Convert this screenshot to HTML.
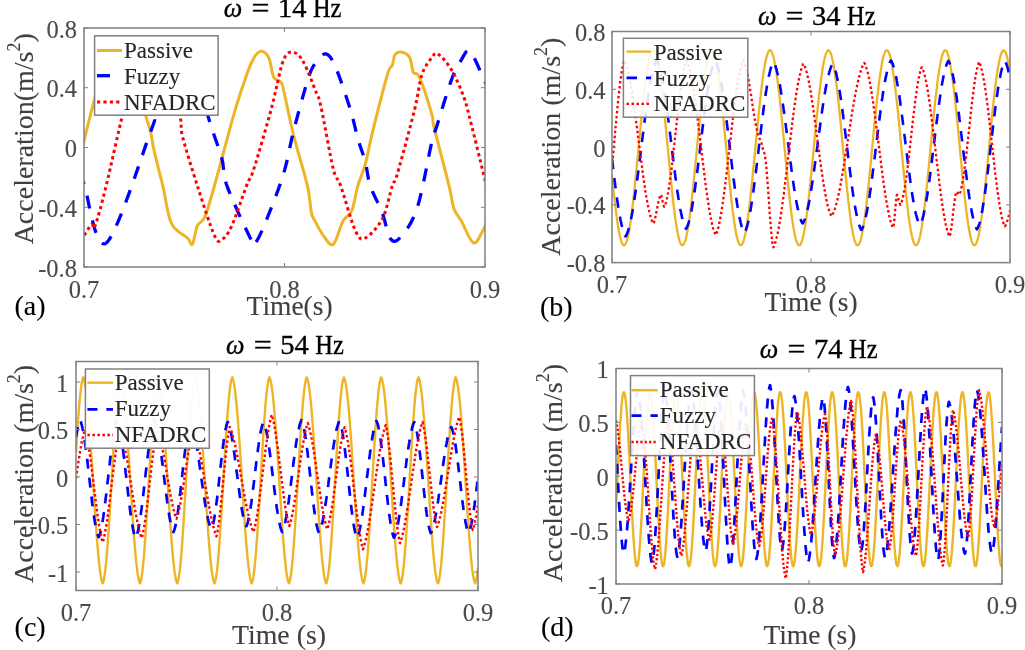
<!DOCTYPE html><html><head><meta charset="utf-8"><style>html,body{margin:0;padding:0;background:#fff;}svg{display:block;filter:blur(0.35px);}text{font-family:"Liberation Serif",serif;}</style></head><body>
<svg width="1025" height="650" viewBox="0 0 1025 650">
<rect width="1025" height="650" fill="#fff"/>
<defs><filter id="bl" x="-5%" y="-5%" width="110%" height="110%"><feGaussianBlur stdDeviation="0.45"/></filter></defs>
<clipPath id="ca"><rect x="84.0" y="28.0" width="401.0" height="239.0"/></clipPath>
<g clip-path="url(#ca)" filter="url(#bl)" fill="none" stroke-linejoin="round">
<path d="M80.0 160.0 C80.7 156.9 81.7 151.0 84.0 141.3 C86.3 131.6 90.6 113.8 93.9 101.9 C97.2 90.0 100.0 78.3 104.0 70.0 C108.0 61.7 113.3 52.3 118.0 52.0 C122.7 51.7 127.4 57.4 132.0 68.0 C136.6 78.6 142.5 104.8 145.6 115.4 C148.7 126.0 149.1 125.4 150.5 131.4 C151.9 137.4 152.1 142.2 154.2 151.2 C156.2 160.2 159.9 173.6 162.8 185.6 C165.7 197.6 167.3 214.6 171.4 223.3 C175.5 232.0 183.9 234.5 187.4 238.0 C190.9 241.5 190.8 246.2 192.4 244.2 C194.1 242.2 195.2 230.3 197.3 225.8 C199.4 221.3 201.8 223.7 204.7 217.0 C207.6 210.3 210.0 201.5 214.5 185.6 C219.0 169.7 227.3 137.6 231.8 121.6 C236.3 105.6 238.3 99.4 241.6 89.6 C244.9 79.8 248.4 68.9 251.5 62.5 C254.6 56.1 257.2 52.2 260.1 51.4 C263.0 50.6 266.4 53.3 268.7 57.6 C271.0 61.9 271.6 73.2 273.7 77.3 C275.8 81.4 279.3 79.8 281.0 82.2 C282.7 84.7 281.9 83.0 284.0 92.0 C286.1 101.0 290.0 120.8 293.9 136.4 C297.8 152.0 304.5 173.2 307.4 185.6 C310.3 198.0 310.1 205.5 311.1 211.0 C312.1 216.5 311.6 214.3 313.6 218.4 C315.7 222.5 320.1 231.3 323.4 235.6 C326.7 239.9 330.0 246.7 333.3 244.2 C336.6 241.7 340.0 226.3 343.1 220.8 C346.2 215.3 349.2 216.9 351.7 211.0 C354.2 205.1 355.6 193.4 357.9 185.6 C360.2 177.8 362.8 173.2 365.3 164.2 C367.8 155.2 369.0 146.3 372.7 131.4 C376.4 116.5 384.1 85.9 387.4 74.8 C390.7 63.7 391.2 68.3 392.4 65.0 C393.6 61.7 393.4 57.1 394.8 55.0 C396.2 52.9 398.5 51.7 401.0 52.1 C403.5 52.5 407.6 54.2 409.6 57.6 C411.7 61.0 411.7 69.0 413.3 72.3 C414.9 75.6 416.4 70.3 419.5 77.3 C422.6 84.3 429.4 105.8 431.8 114.2 C434.2 122.6 431.3 115.9 434.2 127.8 C437.1 139.7 445.7 172.2 449.0 185.6 C452.3 199.0 451.8 202.6 453.9 208.5 C455.9 214.4 458.0 215.1 461.3 220.8 C464.6 226.6 469.9 241.8 473.7 243.0 C477.5 244.2 481.3 232.9 484.0 228.2 C486.7 223.5 489.0 217.2 490.0 215.0" stroke="#EDB526" stroke-width="3.00"/>
<path d="M80.0 172.0 C80.7 174.0 79.6 172.2 84.0 184.0 C88.4 195.8 95.1 251.7 106.2 243.0 C117.3 234.3 142.3 153.5 150.5 132.0 C158.7 110.5 152.2 124.5 155.4 114.2 C158.7 103.9 165.9 80.2 170.0 70.0 C174.1 59.8 175.8 53.0 180.0 53.0 C184.2 53.0 190.1 58.6 195.0 70.0 C199.9 81.4 205.1 106.8 209.6 121.6 C214.1 136.3 219.0 147.8 221.9 158.5 C224.8 169.2 222.0 171.9 226.9 185.6 C231.8 199.3 246.7 231.1 251.5 240.5 C256.4 249.9 253.6 245.2 256.0 242.0 C258.4 238.8 261.4 232.3 266.0 221.0 C270.6 209.7 278.9 189.2 283.5 174.0 C288.1 158.8 289.7 145.8 293.9 129.7 C298.1 113.6 304.9 88.5 308.6 77.3 C312.3 66.1 313.1 66.4 316.0 62.5 C318.9 58.6 322.6 53.1 325.9 53.9 C329.2 54.7 331.6 58.1 335.7 67.4 C339.8 76.8 346.8 98.1 350.5 110.0 C354.2 121.9 355.4 130.2 357.9 138.8 C360.4 147.4 363.2 153.9 365.3 161.7 C367.4 169.5 367.3 177.0 370.2 185.6 C373.1 194.2 379.2 204.7 382.5 213.4 C385.8 222.1 387.0 233.9 389.9 238.0 C392.8 242.1 395.3 242.9 399.8 238.0 C404.3 233.1 411.7 224.5 417.0 208.5 C422.3 192.5 428.5 155.7 431.8 142.0 C435.1 128.3 433.4 136.9 436.7 126.5 C440.0 116.1 447.4 90.8 451.5 79.7 C455.6 68.6 458.2 64.7 461.3 60.0 C464.4 55.3 466.2 48.1 470.0 51.4 C473.8 54.7 480.7 72.9 484.0 79.7 C487.3 86.5 489.0 90.0 490.0 92.0" stroke="#0000FF" stroke-width="3.30" stroke-dasharray="13 12"/>
<path d="M80.0 240.0 C80.7 239.3 82.1 238.2 84.0 235.6 C85.9 233.0 89.6 226.1 91.4 224.5 C93.2 222.9 92.5 232.5 95.0 226.0 C97.5 219.5 101.5 204.6 106.2 185.6 C110.9 166.6 118.6 130.1 123.4 111.7 C128.2 93.3 130.4 84.5 135.0 75.0 C139.6 65.5 145.7 55.0 151.0 55.0 C156.3 55.0 162.2 64.7 167.0 75.0 C171.8 85.3 177.4 106.5 180.0 116.7 C182.6 126.9 179.6 124.9 182.5 136.4 C185.4 147.9 192.0 169.1 197.3 185.6 C202.6 202.1 210.4 226.6 214.5 235.6 C218.6 244.6 219.1 240.9 222.0 239.3 C224.9 237.7 227.7 234.8 231.8 225.8 C235.9 216.9 242.9 195.2 246.6 185.6 C250.3 176.0 249.9 181.1 254.0 168.4 C258.1 155.7 266.3 127.4 271.2 109.3 C276.1 91.2 279.7 69.5 283.5 60.0 C287.3 50.5 290.5 52.2 293.9 52.6 C297.3 53.0 300.0 55.9 303.7 62.5 C307.4 69.1 313.1 84.6 316.0 92.0 C318.9 99.4 318.1 94.0 321.0 106.8 C323.9 119.6 330.0 155.9 333.3 169.0 C336.6 182.1 336.9 175.3 340.6 185.6 C344.3 195.9 351.3 222.0 355.4 230.7 C359.5 239.4 360.8 240.1 365.3 238.0 C369.8 235.9 378.0 227.1 382.5 218.4 C387.0 209.7 389.9 193.0 392.4 185.6 C394.9 178.2 393.6 186.6 397.3 174.0 C401.0 161.4 410.4 126.5 414.5 110.0 C418.6 93.5 419.0 83.5 421.9 74.8 C424.8 66.1 429.1 61.1 431.8 57.6 C434.5 54.1 434.7 51.8 438.0 53.9 C441.3 56.0 447.2 62.7 451.5 69.9 C455.8 77.1 460.5 88.0 463.8 97.0 C467.1 106.0 467.8 110.9 471.2 124.0 C474.6 137.1 480.9 163.1 484.0 175.8 C487.1 188.5 489.0 196.0 490.0 200.0" stroke="#FF0000" stroke-width="3.00" stroke-dasharray="3.2 3.2"/>
</g>
<rect x="84.0" y="28.0" width="401.0" height="239.0" fill="none" stroke="#808080" stroke-width="1.5"/>
<line x1="84.0" y1="267.0" x2="84.0" y2="263.0" stroke="#808080" stroke-width="1"/>
<line x1="84.0" y1="28.0" x2="84.0" y2="32.0" stroke="#808080" stroke-width="1"/>
<line x1="284.5" y1="267.0" x2="284.5" y2="263.0" stroke="#808080" stroke-width="1"/>
<line x1="284.5" y1="28.0" x2="284.5" y2="32.0" stroke="#808080" stroke-width="1"/>
<line x1="485.0" y1="267.0" x2="485.0" y2="263.0" stroke="#808080" stroke-width="1"/>
<line x1="485.0" y1="28.0" x2="485.0" y2="32.0" stroke="#808080" stroke-width="1"/>
<line x1="84.0" y1="28.0" x2="88.0" y2="28.0" stroke="#808080" stroke-width="1"/>
<line x1="485.0" y1="28.0" x2="481.0" y2="28.0" stroke="#808080" stroke-width="1"/>
<line x1="84.0" y1="87.7" x2="88.0" y2="87.7" stroke="#808080" stroke-width="1"/>
<line x1="485.0" y1="87.7" x2="481.0" y2="87.7" stroke="#808080" stroke-width="1"/>
<line x1="84.0" y1="147.5" x2="88.0" y2="147.5" stroke="#808080" stroke-width="1"/>
<line x1="485.0" y1="147.5" x2="481.0" y2="147.5" stroke="#808080" stroke-width="1"/>
<line x1="84.0" y1="207.3" x2="88.0" y2="207.3" stroke="#808080" stroke-width="1"/>
<line x1="485.0" y1="207.3" x2="481.0" y2="207.3" stroke="#808080" stroke-width="1"/>
<line x1="84.0" y1="267.0" x2="88.0" y2="267.0" stroke="#808080" stroke-width="1"/>
<line x1="485.0" y1="267.0" x2="481.0" y2="267.0" stroke="#808080" stroke-width="1"/>
<rect x="94.6" y="35.8" width="123.5" height="79.4" fill="#fff" fill-opacity="1.00" stroke="#808080" stroke-width="1.5"/>
<line x1="97.0" y1="50.5" x2="122.0" y2="50.5" stroke="#EDB526" stroke-width="3.00"/>
<line x1="97.0" y1="75.7" x2="122.0" y2="75.7" stroke="#0000FF" stroke-width="3.30" stroke-dasharray="13 12"/>
<line x1="97.0" y1="102.0" x2="122.0" y2="102.0" stroke="#FF0000" stroke-width="3.00" stroke-dasharray="3.2 3.2"/>
<text x="124.0" y="57.7" font-size="23" fill="#262626" stroke="#262626" stroke-width="0.12">Passive</text>
<text x="124.0" y="83.5" font-size="23" fill="#262626" stroke="#262626" stroke-width="0.12">Fuzzy</text>
<text x="124.0" y="110.0" font-size="23" fill="#262626" stroke="#262626" stroke-width="0.12">NFADRC</text>
<text x="77.0" y="37.6" font-size="24.5" fill="#4a4a4a" stroke="#4a4a4a" stroke-width="0.12" text-anchor="end">0.8</text>
<text x="77.0" y="97.3" font-size="24.5" fill="#4a4a4a" stroke="#4a4a4a" stroke-width="0.12" text-anchor="end">0.4</text>
<text x="77.0" y="157.1" font-size="24.5" fill="#4a4a4a" stroke="#4a4a4a" stroke-width="0.12" text-anchor="end">0</text>
<text x="77.0" y="216.9" font-size="24.5" fill="#4a4a4a" stroke="#4a4a4a" stroke-width="0.12" text-anchor="end">-0.4</text>
<text x="77.0" y="276.6" font-size="24.5" fill="#4a4a4a" stroke="#4a4a4a" stroke-width="0.12" text-anchor="end">-0.8</text>
<text x="84.0" y="297.8" font-size="24.5" fill="#4a4a4a" stroke="#4a4a4a" stroke-width="0.12" text-anchor="middle">0.7</text>
<text x="284.5" y="297.8" font-size="24.5" fill="#4a4a4a" stroke="#4a4a4a" stroke-width="0.12" text-anchor="middle">0.8</text>
<text x="485.0" y="297.8" font-size="24.5" fill="#4a4a4a" stroke="#4a4a4a" stroke-width="0.12" text-anchor="middle">0.9</text>
<text x="246.6" y="314.6" font-size="27" fill="#404040" stroke="#404040" stroke-width="0.12" textLength="86.0" lengthAdjust="spacingAndGlyphs">Time(s)</text>
<g transform="translate(33.0 138.8) rotate(-90)"><text x="0" y="0" font-size="28" fill="#404040" stroke="#404040" stroke-width="0.12" text-anchor="middle">Acceleration(m/s<tspan font-size="18" dy="-13">2</tspan><tspan dy="13">)</tspan></text></g>
<text x="223.7" y="17.4" font-size="27" fill="#000" stroke="#000" stroke-width="0.35" font-style="italic" textLength="18.5" lengthAdjust="spacingAndGlyphs">&#969;</text>
<text x="251.4" y="17.4" font-size="27" fill="#000" stroke="#000" stroke-width="0.35" textLength="18" lengthAdjust="spacingAndGlyphs">=</text>
<text x="277.9" y="17.4" font-size="27" fill="#000" stroke="#000" stroke-width="0.35" textLength="28.5" lengthAdjust="spacingAndGlyphs">14</text>
<text x="312.9" y="17.4" font-size="27" fill="#000" stroke="#000" stroke-width="0.35" textLength="28.5" lengthAdjust="spacingAndGlyphs">Hz</text>
<text x="14.5" y="315.0" font-size="28" fill="#000" stroke="#000" stroke-width="0.12">(a)</text>
<clipPath id="cb"><rect x="612.0" y="31.5" width="398.0" height="231.1"/></clipPath>
<g clip-path="url(#cb)" filter="url(#bl)" fill="none" stroke-linejoin="round">
<path d="M612.0 175.1 L612.2 177.6 L612.5 180.1 L612.7 182.5 L613.0 185.0 L613.2 187.4 L613.5 189.7 L613.7 192.1 L614.0 194.4 L614.2 196.7 L614.5 198.9 L614.7 201.1 L615.0 203.3 L615.2 205.4 L615.5 207.5 L615.7 209.5 L616.0 211.5 L616.2 213.5 L616.5 215.4 L616.7 217.2 L617.0 219.1 L617.2 220.8 L617.5 222.5 L617.7 224.2 L618.0 225.8 L618.2 227.3 L618.5 228.8 L618.7 230.2 L619.0 231.6 L619.2 232.9 L619.5 234.1 L619.7 235.3 L620.0 236.4 L620.2 237.5 L620.5 238.5 L620.7 239.4 L621.0 240.2 L621.2 241.0 L621.5 241.8 L621.7 242.4 L622.0 243.0 L622.2 243.5 L622.4 244.0 L622.7 244.4 L622.9 244.7 L623.2 244.9 L623.4 245.1 L623.7 245.2 L623.9 245.2 L624.2 245.2 L624.4 245.1 L624.7 244.9 L624.9 244.7 L625.2 244.4 L625.4 244.0 L625.7 243.5 L625.9 243.0 L626.2 242.4 L626.4 241.8 L626.7 241.1 L626.9 240.3 L627.2 239.4 L627.4 238.5 L627.7 237.5 L627.9 236.5 L628.2 235.4 L628.4 234.2 L628.7 233.0 L628.9 231.7 L629.2 230.3 L629.4 228.9 L629.7 227.4 L629.9 225.9 L630.2 224.3 L630.4 222.7 L630.7 221.0 L630.9 219.2 L631.2 217.4 L631.4 215.6 L631.7 213.7 L631.9 211.7 L632.1 209.8 L632.4 207.7 L632.6 205.7 L632.9 203.5 L633.1 201.4 L633.4 199.2 L633.6 197.0 L633.9 194.7 L634.1 192.4 L634.4 190.1 L634.6 187.7 L634.9 185.3 L635.1 182.9 L635.4 180.5 L635.6 178.0 L635.9 175.5 L636.1 173.0 L636.4 170.5 L636.6 167.9 L636.9 165.4 L637.1 162.8 L637.4 160.2 L637.6 157.6 L637.9 155.1 L638.1 152.5 L638.4 149.9 L638.6 147.3 L638.9 144.6 L639.1 142.0 L639.4 139.4 L639.6 136.9 L639.9 134.3 L640.1 131.7 L640.4 129.1 L640.6 126.6 L640.9 124.1 L641.1 121.5 L641.4 119.0 L641.6 116.6 L641.9 114.1 L642.1 111.7 L642.3 109.3 L642.6 106.9 L642.8 104.5 L643.1 102.2 L643.3 99.9 L643.6 97.7 L643.8 95.5 L644.1 93.3 L644.3 91.2 L644.6 89.1 L644.8 87.0 L645.1 85.0 L645.3 83.0 L645.6 81.1 L645.8 79.2 L646.1 77.4 L646.3 75.6 L646.6 73.9 L646.8 72.2 L647.1 70.6 L647.3 69.0 L647.6 67.5 L647.8 66.1 L648.1 64.7 L648.3 63.4 L648.6 62.1 L648.8 60.9 L649.1 59.7 L649.3 58.6 L649.6 57.6 L649.8 56.7 L650.1 55.8 L650.3 54.9 L650.6 54.2 L650.8 53.5 L651.1 52.9 L651.3 52.3 L651.6 51.8 L651.8 51.4 L652.0 51.0 L652.3 50.8 L652.5 50.5 L652.8 50.4 L653.0 50.3 L653.3 50.3 L653.5 50.4 L653.8 50.5 L654.0 50.7 L654.3 51.0 L654.5 51.3 L654.8 51.7 L655.0 52.2 L655.3 52.8 L655.5 53.4 L655.8 54.1 L656.0 54.8 L656.3 55.6 L656.5 56.5 L656.8 57.5 L657.0 58.5 L657.3 59.6 L657.5 60.7 L657.8 61.9 L658.0 63.2 L658.3 64.5 L658.5 65.9 L658.8 67.4 L659.0 68.9 L659.3 70.4 L659.5 72.0 L659.8 73.7 L660.0 75.4 L660.3 77.2 L660.5 79.0 L660.8 80.9 L661.0 82.8 L661.3 84.8 L661.5 86.8 L661.8 88.9 L662.0 91.0 L662.2 93.1 L662.5 95.3 L662.7 97.5 L663.0 99.8 L663.2 102.1 L663.5 104.4 L663.7 106.8 L664.0 109.1 L664.2 111.6 L664.5 114.0 L664.7 116.5 L665.0 118.9 L665.2 121.5 L665.5 124.0 L665.7 126.5 L666.0 129.1 L666.2 131.6 L666.5 134.2 L666.7 136.8 L667.0 139.4 L667.2 142.0 L667.5 144.6 L667.7 147.2 L668.0 149.9 L668.2 152.5 L668.5 155.1 L668.7 157.7 L669.0 160.3 L669.2 162.9 L669.5 165.4 L669.7 168.0 L670.0 170.6 L670.2 173.1 L670.5 175.6 L670.7 178.1 L671.0 180.6 L671.2 183.0 L671.5 185.4 L671.7 187.8 L671.9 190.2 L672.2 192.5 L672.4 194.8 L672.7 197.1 L672.9 199.3 L673.2 201.5 L673.4 203.7 L673.7 205.8 L673.9 207.9 L674.2 209.9 L674.4 211.9 L674.7 213.9 L674.9 215.8 L675.2 217.6 L675.4 219.4 L675.7 221.2 L675.9 222.8 L676.2 224.5 L676.4 226.1 L676.7 227.6 L676.9 229.1 L677.2 230.5 L677.4 231.8 L677.7 233.1 L677.9 234.4 L678.2 235.5 L678.4 236.6 L678.7 237.7 L678.9 238.6 L679.2 239.6 L679.4 240.4 L679.7 241.2 L679.9 241.9 L680.2 242.5 L680.4 243.1 L680.7 243.6 L680.9 244.1 L681.2 244.4 L681.4 244.7 L681.7 245.0 L681.9 245.1 L682.1 245.2 L682.4 245.2 L682.6 245.2 L682.9 245.1 L683.1 244.9 L683.4 244.6 L683.6 244.3 L683.9 243.9 L684.1 243.4 L684.4 242.9 L684.6 242.3 L684.9 241.6 L685.1 240.9 L685.4 240.1 L685.6 239.2 L685.9 238.3 L686.1 237.3 L686.4 236.3 L686.6 235.1 L686.9 233.9 L687.1 232.7 L687.4 231.4 L687.6 230.0 L687.9 228.6 L688.1 227.1 L688.4 225.6 L688.6 224.0 L688.9 222.3 L689.1 220.6 L689.4 218.9 L689.6 217.1 L689.9 215.2 L690.1 213.3 L690.4 211.4 L690.6 209.4 L690.9 207.3 L691.1 205.2 L691.4 203.1 L691.6 200.9 L691.8 198.7 L692.1 196.5 L692.3 194.2 L692.6 191.9 L692.8 189.6 L693.1 187.2 L693.3 184.8 L693.6 182.4 L693.8 180.0 L694.1 177.5 L694.3 175.0 L694.6 172.5 L694.8 170.0 L695.1 167.4 L695.3 164.9 L695.6 162.3 L695.8 159.7 L696.1 157.1 L696.3 154.5 L696.6 151.9 L696.8 149.3 L697.1 146.7 L697.3 144.1 L697.6 141.5 L697.8 138.9 L698.1 136.3 L698.3 133.8 L698.6 131.2 L698.8 128.6 L699.1 126.1 L699.3 123.6 L699.6 121.0 L699.8 118.5 L700.1 116.1 L700.3 113.6 L700.6 111.2 L700.8 108.8 L701.1 106.4 L701.3 104.1 L701.6 101.8 L701.8 99.5 L702.0 97.2 L702.3 95.0 L702.5 92.9 L702.8 90.7 L703.0 88.6 L703.3 86.6 L703.5 84.6 L703.8 82.6 L704.0 80.7 L704.3 78.9 L704.5 77.0 L704.8 75.3 L705.0 73.6 L705.3 71.9 L705.5 70.3 L705.8 68.7 L706.0 67.2 L706.3 65.8 L706.5 64.4 L706.8 63.1 L707.0 61.8 L707.3 60.6 L707.5 59.5 L707.8 58.4 L708.0 57.4 L708.3 56.5 L708.5 55.6 L708.8 54.8 L709.0 54.0 L709.3 53.4 L709.5 52.7 L709.8 52.2 L710.0 51.7 L710.3 51.3 L710.5 51.0 L710.8 50.7 L711.0 50.5 L711.3 50.4 L711.5 50.3 L711.7 50.3 L712.0 50.4 L712.2 50.5 L712.5 50.8 L712.7 51.0 L713.0 51.4 L713.2 51.8 L713.5 52.3 L713.7 52.9 L714.0 53.5 L714.2 54.2 L714.5 55.0 L714.7 55.8 L715.0 56.7 L715.2 57.7 L715.5 58.7 L715.7 59.8 L716.0 60.9 L716.2 62.2 L716.5 63.4 L716.7 64.8 L717.0 66.2 L717.2 67.6 L717.5 69.2 L717.7 70.7 L718.0 72.4 L718.2 74.0 L718.5 75.8 L718.7 77.6 L719.0 79.4 L719.2 81.3 L719.5 83.2 L719.7 85.2 L720.0 87.2 L720.2 89.3 L720.5 91.4 L720.7 93.6 L721.0 95.8 L721.2 98.0 L721.5 100.2 L721.7 102.5 L721.9 104.9 L722.2 107.2 L722.4 109.6 L722.7 112.0 L722.9 114.5 L723.2 117.0 L723.4 119.4 L723.7 122.0 L723.9 124.5 L724.2 127.0 L724.4 129.6 L724.7 132.2 L724.9 134.7 L725.2 137.3 L725.4 139.9 L725.7 142.5 L725.9 145.2 L726.2 147.8 L726.4 150.4 L726.7 153.0 L726.9 155.6 L727.2 158.2 L727.4 160.8 L727.7 163.4 L727.9 166.0 L728.2 168.5 L728.4 171.1 L728.7 173.6 L728.9 176.1 L729.2 178.6 L729.4 181.1 L729.7 183.5 L729.9 185.9 L730.2 188.3 L730.4 190.7 L730.7 193.0 L730.9 195.3 L731.2 197.6 L731.4 199.8 L731.6 202.0 L731.9 204.1 L732.1 206.2 L732.4 208.3 L732.6 210.3 L732.9 212.3 L733.1 214.3 L733.4 216.1 L733.6 218.0 L733.9 219.8 L734.1 221.5 L734.4 223.2 L734.6 224.8 L734.9 226.4 L735.1 227.9 L735.4 229.4 L735.6 230.8 L735.9 232.1 L736.1 233.4 L736.4 234.6 L736.6 235.8 L736.9 236.8 L737.1 237.9 L737.4 238.8 L737.6 239.7 L737.9 240.6 L738.1 241.3 L738.4 242.0 L738.6 242.7 L738.9 243.2 L739.1 243.7 L739.4 244.1 L739.6 244.5 L739.9 244.8 L740.1 245.0 L740.4 245.2 L740.6 245.2 L740.9 245.2 L741.1 245.2 L741.3 245.0 L741.6 244.8 L741.8 244.6 L742.1 244.2 L742.3 243.8 L742.6 243.3 L742.8 242.8 L743.1 242.2 L743.3 241.5 L743.6 240.8 L743.8 239.9 L744.1 239.1 L744.3 238.1 L744.6 237.1 L744.8 236.0 L745.1 234.9 L745.3 233.7 L745.6 232.4 L745.8 231.1 L746.1 229.7 L746.3 228.3 L746.6 226.8 L746.8 225.3 L747.1 223.7 L747.3 222.0 L747.6 220.3 L747.8 218.5 L748.1 216.7 L748.3 214.8 L748.6 212.9 L748.8 211.0 L749.1 208.9 L749.3 206.9 L749.6 204.8 L749.8 202.7 L750.1 200.5 L750.3 198.3 L750.6 196.1 L750.8 193.8 L751.1 191.5 L751.3 189.1 L751.5 186.7 L751.8 184.3 L752.0 181.9 L752.3 179.5 L752.5 177.0 L752.8 174.5 L753.0 172.0 L753.3 169.5 L753.5 166.9 L753.8 164.4 L754.0 161.8 L754.3 159.2 L754.5 156.6 L754.8 154.0 L755.0 151.4 L755.3 148.8 L755.5 146.2 L755.8 143.6 L756.0 141.0 L756.3 138.4 L756.5 135.8 L756.8 133.2 L757.0 130.7 L757.3 128.1 L757.5 125.6 L757.8 123.0 L758.0 120.5 L758.3 118.0 L758.5 115.6 L758.8 113.1 L759.0 110.7 L759.3 108.3 L759.5 106.0 L759.8 103.6 L760.0 101.3 L760.3 99.0 L760.5 96.8 L760.8 94.6 L761.0 92.4 L761.2 90.3 L761.5 88.2 L761.7 86.2 L762.0 84.2 L762.2 82.2 L762.5 80.3 L762.7 78.5 L763.0 76.7 L763.2 74.9 L763.5 73.2 L763.7 71.6 L764.0 70.0 L764.2 68.4 L764.5 66.9 L764.7 65.5 L765.0 64.2 L765.2 62.8 L765.5 61.6 L765.7 60.4 L766.0 59.3 L766.2 58.2 L766.5 57.2 L766.7 56.3 L767.0 55.4 L767.2 54.6 L767.5 53.9 L767.7 53.2 L768.0 52.6 L768.2 52.1 L768.5 51.6 L768.7 51.2 L769.0 50.9 L769.2 50.7 L769.5 50.5 L769.7 50.4 L770.0 50.3 L770.2 50.3 L770.5 50.4 L770.7 50.6 L771.0 50.8 L771.2 51.1 L771.4 51.5 L771.7 51.9 L771.9 52.4 L772.2 53.0 L772.4 53.6 L772.7 54.4 L772.9 55.1 L773.2 56.0 L773.4 56.9 L773.7 57.9 L773.9 58.9 L774.2 60.0 L774.4 61.2 L774.7 62.4 L774.9 63.7 L775.2 65.1 L775.4 66.5 L775.7 67.9 L775.9 69.5 L776.2 71.1 L776.4 72.7 L776.7 74.4 L776.9 76.1 L777.2 77.9 L777.4 79.8 L777.7 81.7 L777.9 83.6 L778.2 85.6 L778.4 87.6 L778.7 89.7 L778.9 91.8 L779.2 94.0 L779.4 96.2 L779.7 98.4 L779.9 100.7 L780.2 103.0 L780.4 105.3 L780.7 107.7 L780.9 110.1 L781.1 112.5 L781.4 115.0 L781.6 117.5 L781.9 119.9 L782.1 122.5 L782.4 125.0 L782.6 127.5 L782.9 130.1 L783.1 132.7 L783.4 135.3 L783.6 137.9 L783.9 140.5 L784.1 143.1 L784.4 145.7 L784.6 148.3 L784.9 150.9 L785.1 153.5 L785.4 156.1 L785.6 158.7 L785.9 161.3 L786.1 163.9 L786.4 166.5 L786.6 169.0 L786.9 171.6 L787.1 174.1 L787.4 176.6 L787.6 179.1 L787.9 181.5 L788.1 184.0 L788.4 186.4 L788.6 188.8 L788.9 191.1 L789.1 193.5 L789.4 195.8 L789.6 198.0 L789.9 200.2 L790.1 202.4 L790.4 204.6 L790.6 206.7 L790.9 208.7 L791.1 210.7 L791.3 212.7 L791.6 214.6 L791.8 216.5 L792.1 218.3 L792.3 220.1 L792.6 221.8 L792.8 223.5 L793.1 225.1 L793.3 226.7 L793.6 228.2 L793.8 229.6 L794.1 231.0 L794.3 232.4 L794.6 233.6 L794.8 234.8 L795.1 236.0 L795.3 237.1 L795.6 238.1 L795.8 239.0 L796.1 239.9 L796.3 240.7 L796.6 241.5 L796.8 242.2 L797.1 242.8 L797.3 243.3 L797.6 243.8 L797.8 244.2 L798.1 244.6 L798.3 244.8 L798.6 245.0 L798.8 245.2 L799.1 245.2 L799.3 245.2 L799.6 245.2 L799.8 245.0 L800.1 244.8 L800.3 244.5 L800.6 244.2 L800.8 243.7 L801.0 243.2 L801.3 242.7 L801.5 242.1 L801.8 241.4 L802.0 240.6 L802.3 239.8 L802.5 238.9 L802.8 237.9 L803.0 236.9 L803.3 235.8 L803.5 234.7 L803.8 233.5 L804.0 232.2 L804.3 230.9 L804.5 229.5 L804.8 228.0 L805.0 226.5 L805.3 224.9 L805.5 223.3 L805.8 221.7 L806.0 219.9 L806.3 218.2 L806.5 216.3 L806.8 214.4 L807.0 212.5 L807.3 210.6 L807.5 208.5 L807.8 206.5 L808.0 204.4 L808.3 202.2 L808.5 200.1 L808.8 197.9 L809.0 195.6 L809.3 193.3 L809.5 191.0 L809.8 188.6 L810.0 186.3 L810.3 183.9 L810.5 181.4 L810.8 179.0 L811.0 176.5 L811.2 174.0 L811.5 171.5 L811.7 169.0 L812.0 166.4 L812.2 163.8 L812.5 161.3 L812.7 158.7 L813.0 156.1 L813.2 153.5 L813.5 150.9 L813.7 148.3 L814.0 145.7 L814.2 143.1 L814.5 140.5 L814.7 137.9 L815.0 135.3 L815.2 132.7 L815.5 130.2 L815.7 127.6 L816.0 125.1 L816.2 122.5 L816.5 120.0 L816.7 117.6 L817.0 115.1 L817.2 112.6 L817.5 110.2 L817.7 107.8 L818.0 105.5 L818.2 103.2 L818.5 100.9 L818.7 98.6 L819.0 96.4 L819.2 94.2 L819.5 92.0 L819.7 89.9 L820.0 87.8 L820.2 85.8 L820.5 83.8 L820.7 81.9 L820.9 80.0 L821.2 78.1 L821.4 76.3 L821.7 74.6 L821.9 72.9 L822.2 71.2 L822.4 69.7 L822.7 68.1 L822.9 66.7 L823.2 65.2 L823.4 63.9 L823.7 62.6 L823.9 61.4 L824.2 60.2 L824.4 59.1 L824.7 58.0 L824.9 57.0 L825.2 56.1 L825.4 55.3 L825.7 54.5 L825.9 53.8 L826.2 53.1 L826.4 52.5 L826.7 52.0 L826.9 51.6 L827.2 51.2 L827.4 50.9 L827.7 50.6 L827.9 50.4 L828.2 50.3 L828.4 50.3 L828.7 50.3 L828.9 50.4 L829.2 50.6 L829.4 50.9 L829.7 51.2 L829.9 51.6 L830.2 52.0 L830.4 52.5 L830.7 53.1 L830.9 53.8 L831.1 54.5 L831.4 55.3 L831.6 56.2 L831.9 57.1 L832.1 58.1 L832.4 59.1 L832.6 60.2 L832.9 61.4 L833.1 62.7 L833.4 64.0 L833.6 65.3 L833.9 66.8 L834.1 68.2 L834.4 69.8 L834.6 71.4 L834.9 73.0 L835.1 74.7 L835.4 76.5 L835.6 78.3 L835.9 80.2 L836.1 82.1 L836.4 84.0 L836.6 86.0 L836.9 88.1 L837.1 90.1 L837.4 92.3 L837.6 94.4 L837.9 96.6 L838.1 98.9 L838.4 101.2 L838.6 103.5 L838.9 105.8 L839.1 108.2 L839.4 110.6 L839.6 113.0 L839.9 115.5 L840.1 118.0 L840.4 120.4 L840.6 123.0 L840.9 125.5 L841.1 128.1 L841.3 130.6 L841.6 133.2 L841.8 135.8 L842.1 138.4 L842.3 141.0 L842.6 143.6 L842.8 146.2 L843.1 148.8 L843.3 151.4 L843.6 154.0 L843.8 156.6 L844.1 159.2 L844.3 161.8 L844.6 164.4 L844.8 167.0 L845.1 169.5 L845.3 172.1 L845.6 174.6 L845.8 177.1 L846.1 179.6 L846.3 182.0 L846.6 184.5 L846.8 186.9 L847.1 189.3 L847.3 191.6 L847.6 193.9 L847.8 196.2 L848.1 198.5 L848.3 200.7 L848.6 202.8 L848.8 205.0 L849.1 207.1 L849.3 209.1 L849.6 211.1 L849.8 213.1 L850.1 215.0 L850.3 216.9 L850.6 218.7 L850.8 220.5 L851.0 222.2 L851.3 223.8 L851.5 225.4 L851.8 227.0 L852.0 228.5 L852.3 229.9 L852.5 231.3 L852.8 232.6 L853.0 233.9 L853.3 235.1 L853.5 236.2 L853.8 237.3 L854.0 238.3 L854.3 239.2 L854.5 240.1 L854.8 240.9 L855.0 241.6 L855.3 242.3 L855.5 242.9 L855.8 243.4 L856.0 243.9 L856.3 244.3 L856.5 244.6 L856.8 244.9 L857.0 245.1 L857.3 245.2 L857.5 245.2 L857.8 245.2 L858.0 245.1 L858.3 245.0 L858.5 244.7 L858.8 244.4 L859.0 244.1 L859.3 243.6 L859.5 243.1 L859.8 242.6 L860.0 241.9 L860.3 241.2 L860.5 240.4 L860.8 239.6 L861.0 238.7 L861.2 237.7 L861.5 236.7 L861.7 235.6 L862.0 234.4 L862.2 233.2 L862.5 231.9 L862.7 230.6 L863.0 229.2 L863.2 227.7 L863.5 226.2 L863.7 224.6 L864.0 223.0 L864.2 221.3 L864.5 219.6 L864.7 217.8 L865.0 216.0 L865.2 214.1 L865.5 212.1 L865.7 210.2 L866.0 208.1 L866.2 206.1 L866.5 204.0 L866.7 201.8 L867.0 199.6 L867.2 197.4 L867.5 195.1 L867.7 192.9 L868.0 190.5 L868.2 188.2 L868.5 185.8 L868.7 183.4 L869.0 180.9 L869.2 178.5 L869.5 176.0 L869.7 173.5 L870.0 171.0 L870.2 168.4 L870.5 165.9 L870.7 163.3 L870.9 160.8 L871.2 158.2 L871.4 155.6 L871.7 153.0 L871.9 150.4 L872.2 147.8 L872.4 145.2 L872.7 142.6 L872.9 140.0 L873.2 137.4 L873.4 134.8 L873.7 132.2 L873.9 129.7 L874.2 127.1 L874.4 124.6 L874.7 122.0 L874.9 119.5 L875.2 117.1 L875.4 114.6 L875.7 112.2 L875.9 109.8 L876.2 107.4 L876.4 105.0 L876.7 102.7 L876.9 100.4 L877.2 98.1 L877.4 95.9 L877.7 93.7 L877.9 91.6 L878.2 89.5 L878.4 87.4 L878.7 85.4 L878.9 83.4 L879.2 81.5 L879.4 79.6 L879.7 77.8 L879.9 76.0 L880.2 74.2 L880.4 72.6 L880.7 70.9 L880.9 69.3 L881.1 67.8 L881.4 66.4 L881.6 65.0 L881.9 63.6 L882.1 62.3 L882.4 61.1 L882.6 60.0 L882.9 58.9 L883.1 57.8 L883.4 56.9 L883.6 55.9 L883.9 55.1 L884.1 54.3 L884.4 53.6 L884.6 53.0 L884.9 52.4 L885.1 51.9 L885.4 51.5 L885.6 51.1 L885.9 50.8 L886.1 50.6 L886.4 50.4 L886.6 50.3 L886.9 50.3 L887.1 50.4 L887.4 50.5 L887.6 50.7 L887.9 50.9 L888.1 51.2 L888.4 51.6 L888.6 52.1 L888.9 52.6 L889.1 53.3 L889.4 53.9 L889.6 54.7 L889.9 55.5 L890.1 56.3 L890.4 57.3 L890.6 58.3 L890.8 59.3 L891.1 60.5 L891.3 61.7 L891.6 62.9 L891.8 64.2 L892.1 65.6 L892.3 67.1 L892.6 68.6 L892.8 70.1 L893.1 71.7 L893.3 73.4 L893.6 75.1 L893.8 76.8 L894.1 78.7 L894.3 80.5 L894.6 82.4 L894.8 84.4 L895.1 86.4 L895.3 88.5 L895.6 90.6 L895.8 92.7 L896.1 94.9 L896.3 97.1 L896.6 99.3 L896.8 101.6 L897.1 103.9 L897.3 106.3 L897.6 108.7 L897.8 111.1 L898.1 113.5 L898.3 116.0 L898.6 118.4 L898.8 121.0 L899.1 123.5 L899.3 126.0 L899.6 128.6 L899.8 131.1 L900.1 133.7 L900.3 136.3 L900.5 138.9 L900.8 141.5 L901.0 144.1 L901.3 146.7 L901.5 149.3 L901.8 152.0 L902.0 154.6 L902.3 157.2 L902.5 159.8 L902.8 162.3 L903.0 164.9 L903.3 167.5 L903.5 170.0 L903.8 172.6 L904.0 175.1 L904.3 177.6 L904.5 180.1 L904.8 182.5 L905.0 185.0 L905.3 187.4 L905.5 189.7 L905.8 192.1 L906.0 194.4 L906.3 196.7 L906.5 198.9 L906.8 201.1 L907.0 203.3 L907.3 205.4 L907.5 207.5 L907.8 209.5 L908.0 211.5 L908.3 213.5 L908.5 215.4 L908.8 217.2 L909.0 219.1 L909.3 220.8 L909.5 222.5 L909.8 224.2 L910.0 225.8 L910.3 227.3 L910.5 228.8 L910.7 230.2 L911.0 231.6 L911.2 232.9 L911.5 234.1 L911.7 235.3 L912.0 236.4 L912.2 237.5 L912.5 238.5 L912.7 239.4 L913.0 240.2 L913.2 241.0 L913.5 241.8 L913.7 242.4 L914.0 243.0 L914.2 243.5 L914.5 244.0 L914.7 244.4 L915.0 244.7 L915.2 244.9 L915.5 245.1 L915.7 245.2 L916.0 245.2 L916.2 245.2 L916.5 245.1 L916.7 244.9 L917.0 244.7 L917.2 244.4 L917.5 244.0 L917.7 243.5 L918.0 243.0 L918.2 242.4 L918.5 241.8 L918.7 241.1 L919.0 240.3 L919.2 239.4 L919.5 238.5 L919.7 237.5 L920.0 236.5 L920.2 235.4 L920.5 234.2 L920.7 233.0 L920.9 231.7 L921.2 230.3 L921.4 228.9 L921.7 227.4 L921.9 225.9 L922.2 224.3 L922.4 222.7 L922.7 221.0 L922.9 219.2 L923.2 217.4 L923.4 215.6 L923.7 213.7 L923.9 211.7 L924.2 209.8 L924.4 207.7 L924.7 205.7 L924.9 203.5 L925.2 201.4 L925.4 199.2 L925.7 197.0 L925.9 194.7 L926.2 192.4 L926.4 190.1 L926.7 187.7 L926.9 185.3 L927.2 182.9 L927.4 180.5 L927.7 178.0 L927.9 175.5 L928.2 173.0 L928.4 170.5 L928.7 167.9 L928.9 165.4 L929.2 162.8 L929.4 160.2 L929.7 157.6 L929.9 155.1 L930.2 152.5 L930.4 149.9 L930.6 147.3 L930.9 144.6 L931.1 142.0 L931.4 139.4 L931.6 136.9 L931.9 134.3 L932.1 131.7 L932.4 129.1 L932.6 126.6 L932.9 124.1 L933.1 121.5 L933.4 119.0 L933.6 116.6 L933.9 114.1 L934.1 111.7 L934.4 109.3 L934.6 106.9 L934.9 104.5 L935.1 102.2 L935.4 99.9 L935.6 97.7 L935.9 95.5 L936.1 93.3 L936.4 91.2 L936.6 89.1 L936.9 87.0 L937.1 85.0 L937.4 83.0 L937.6 81.1 L937.9 79.2 L938.1 77.4 L938.4 75.6 L938.6 73.9 L938.9 72.2 L939.1 70.6 L939.4 69.0 L939.6 67.5 L939.9 66.1 L940.1 64.7 L940.4 63.4 L940.6 62.1 L940.8 60.9 L941.1 59.7 L941.3 58.6 L941.6 57.6 L941.8 56.7 L942.1 55.8 L942.3 54.9 L942.6 54.2 L942.8 53.5 L943.1 52.9 L943.3 52.3 L943.6 51.8 L943.8 51.4 L944.1 51.0 L944.3 50.8 L944.6 50.5 L944.8 50.4 L945.1 50.3 L945.3 50.3 L945.6 50.4 L945.8 50.5 L946.1 50.7 L946.3 51.0 L946.6 51.3 L946.8 51.7 L947.1 52.2 L947.3 52.8 L947.6 53.4 L947.8 54.1 L948.1 54.8 L948.3 55.6 L948.6 56.5 L948.8 57.5 L949.1 58.5 L949.3 59.6 L949.6 60.7 L949.8 61.9 L950.1 63.2 L950.3 64.5 L950.5 65.9 L950.8 67.4 L951.0 68.9 L951.3 70.4 L951.5 72.0 L951.8 73.7 L952.0 75.4 L952.3 77.2 L952.5 79.0 L952.8 80.9 L953.0 82.8 L953.3 84.8 L953.5 86.8 L953.8 88.9 L954.0 91.0 L954.3 93.1 L954.5 95.3 L954.8 97.5 L955.0 99.8 L955.3 102.1 L955.5 104.4 L955.8 106.8 L956.0 109.1 L956.3 111.6 L956.5 114.0 L956.8 116.5 L957.0 118.9 L957.3 121.5 L957.5 124.0 L957.8 126.5 L958.0 129.1 L958.3 131.6 L958.5 134.2 L958.8 136.8 L959.0 139.4 L959.3 142.0 L959.5 144.6 L959.8 147.2 L960.0 149.9 L960.3 152.5 L960.5 155.1 L960.7 157.7 L961.0 160.3 L961.2 162.9 L961.5 165.4 L961.7 168.0 L962.0 170.6 L962.2 173.1 L962.5 175.6 L962.7 178.1 L963.0 180.6 L963.2 183.0 L963.5 185.4 L963.7 187.8 L964.0 190.2 L964.2 192.5 L964.5 194.8 L964.7 197.1 L965.0 199.3 L965.2 201.5 L965.5 203.7 L965.7 205.8 L966.0 207.9 L966.2 209.9 L966.5 211.9 L966.7 213.9 L967.0 215.8 L967.2 217.6 L967.5 219.4 L967.7 221.2 L968.0 222.8 L968.2 224.5 L968.5 226.1 L968.7 227.6 L969.0 229.1 L969.2 230.5 L969.5 231.8 L969.7 233.1 L970.0 234.4 L970.2 235.5 L970.4 236.6 L970.7 237.7 L970.9 238.6 L971.2 239.6 L971.4 240.4 L971.7 241.2 L971.9 241.9 L972.2 242.5 L972.4 243.1 L972.7 243.6 L972.9 244.1 L973.2 244.4 L973.4 244.7 L973.7 245.0 L973.9 245.1 L974.2 245.2 L974.4 245.2 L974.7 245.2 L974.9 245.1 L975.2 244.9 L975.4 244.6 L975.7 244.3 L975.9 243.9 L976.2 243.4 L976.4 242.9 L976.7 242.3 L976.9 241.6 L977.2 240.9 L977.4 240.1 L977.7 239.2 L977.9 238.3 L978.2 237.3 L978.4 236.3 L978.7 235.1 L978.9 233.9 L979.2 232.7 L979.4 231.4 L979.7 230.0 L979.9 228.6 L980.2 227.1 L980.4 225.6 L980.6 224.0 L980.9 222.3 L981.1 220.6 L981.4 218.9 L981.6 217.1 L981.9 215.2 L982.1 213.3 L982.4 211.4 L982.6 209.4 L982.9 207.3 L983.1 205.2 L983.4 203.1 L983.6 200.9 L983.9 198.7 L984.1 196.5 L984.4 194.2 L984.6 191.9 L984.9 189.6 L985.1 187.2 L985.4 184.8 L985.6 182.4 L985.9 180.0 L986.1 177.5 L986.4 175.0 L986.6 172.5 L986.9 170.0 L987.1 167.4 L987.4 164.9 L987.6 162.3 L987.9 159.7 L988.1 157.1 L988.4 154.5 L988.6 151.9 L988.9 149.3 L989.1 146.7 L989.4 144.1 L989.6 141.5 L989.9 138.9 L990.1 136.3 L990.3 133.8 L990.6 131.2 L990.8 128.6 L991.1 126.1 L991.3 123.6 L991.6 121.0 L991.8 118.5 L992.1 116.1 L992.3 113.6 L992.6 111.2 L992.8 108.8 L993.1 106.4 L993.3 104.1 L993.6 101.8 L993.8 99.5 L994.1 97.2 L994.3 95.0 L994.6 92.9 L994.8 90.7 L995.1 88.6 L995.3 86.6 L995.6 84.6 L995.8 82.6 L996.1 80.7 L996.3 78.9 L996.6 77.0 L996.8 75.3 L997.1 73.6 L997.3 71.9 L997.6 70.3 L997.8 68.7 L998.1 67.2 L998.3 65.8 L998.6 64.4 L998.8 63.1 L999.1 61.8 L999.3 60.6 L999.6 59.5 L999.8 58.4 L1000.1 57.4 L1000.3 56.5 L1000.5 55.6 L1000.8 54.8 L1001.0 54.0 L1001.3 53.4 L1001.5 52.7 L1001.8 52.2 L1002.0 51.7 L1002.3 51.3 L1002.5 51.0 L1002.8 50.7 L1003.0 50.5 L1003.3 50.4 L1003.5 50.3 L1003.8 50.3 L1004.0 50.4 L1004.3 50.5 L1004.5 50.8 L1004.8 51.0 L1005.0 51.4 L1005.3 51.8 L1005.5 52.3 L1005.8 52.9 L1006.0 53.5 L1006.3 54.2 L1006.5 55.0 L1006.8 55.8 L1007.0 56.7 L1007.3 57.7 L1007.5 58.7 L1007.8 59.8 L1008.0 60.9 L1008.3 62.2 L1008.5 63.4 L1008.8 64.8 L1009.0 66.2 L1009.3 67.6 L1009.5 69.2 L1009.8 70.7 L1010.0 72.4" stroke="#EDB526" stroke-width="2.30"/>
<path d="M612.0 158.7 L612.2 160.8 L612.5 162.9 L612.7 165.0 L613.0 167.1 L613.2 169.1 L613.5 171.2 L613.7 173.2 L614.0 175.3 L614.2 177.3 L614.5 179.3 L614.7 181.3 L615.0 183.2 L615.2 185.2 L615.5 187.1 L615.7 189.0 L616.0 190.9 L616.2 192.7 L616.5 194.5 L616.7 196.3 L617.0 198.1 L617.2 199.9 L617.5 201.6 L617.7 203.3 L618.0 204.9 L618.2 206.5 L618.5 208.1 L618.7 209.7 L619.0 211.2 L619.2 212.7 L619.5 214.1 L619.7 215.5 L620.0 216.9 L620.2 218.3 L620.5 219.5 L620.7 220.8 L621.0 222.0 L621.2 223.2 L621.5 224.3 L621.7 225.4 L622.0 226.5 L622.2 227.5 L622.4 228.4 L622.7 229.3 L622.9 230.2 L623.2 231.0 L623.4 231.8 L623.7 232.6 L623.9 233.2 L624.2 233.9 L624.4 234.5 L624.7 235.0 L624.9 235.6 L625.2 236.0 L625.4 236.4 L625.7 236.4 L625.9 236.0 L626.2 235.5 L626.4 235.0 L626.7 234.5 L626.9 234.0 L627.2 233.4 L627.4 232.7 L627.7 232.0 L627.9 231.3 L628.2 230.6 L628.4 229.7 L628.7 228.9 L628.9 228.0 L629.2 227.1 L629.4 226.1 L629.7 225.1 L629.9 224.1 L630.2 223.0 L630.4 221.9 L630.7 220.8 L630.9 219.6 L631.2 218.4 L631.4 217.1 L631.7 215.8 L631.9 214.5 L632.1 213.2 L632.4 211.8 L632.6 210.4 L632.9 208.9 L633.1 207.4 L633.4 205.9 L633.6 204.4 L633.9 202.8 L634.1 201.2 L634.4 199.6 L634.6 197.9 L634.9 196.3 L635.1 194.6 L635.4 192.8 L635.6 191.1 L635.9 189.3 L636.1 187.6 L636.4 185.7 L636.6 183.9 L636.9 182.1 L637.1 180.2 L637.4 178.3 L637.6 176.4 L637.9 174.5 L638.1 172.6 L638.4 170.7 L638.6 168.7 L638.9 166.8 L639.1 164.8 L639.4 162.9 L639.6 160.9 L639.9 158.9 L640.1 156.9 L640.4 154.9 L640.6 152.9 L640.9 150.9 L641.1 148.9 L641.4 146.9 L641.6 144.9 L641.9 142.9 L642.1 140.9 L642.3 138.9 L642.6 136.9 L642.8 134.9 L643.1 133.0 L643.3 131.0 L643.6 129.0 L643.8 127.1 L644.1 125.1 L644.3 123.2 L644.6 121.3 L644.8 119.4 L645.1 117.5 L645.3 115.7 L645.6 113.8 L645.8 112.0 L646.1 110.2 L646.3 108.4 L646.6 106.6 L646.8 104.8 L647.1 103.1 L647.3 101.4 L647.6 99.7 L647.8 98.1 L648.1 96.4 L648.3 94.8 L648.6 93.2 L648.8 91.7 L649.1 90.2 L649.3 88.7 L649.6 87.2 L649.8 85.8 L650.1 84.4 L650.3 83.0 L650.6 81.7 L650.8 80.4 L651.1 79.1 L651.3 77.9 L651.6 76.7 L651.8 75.5 L652.0 74.4 L652.3 73.3 L652.5 72.3 L652.8 71.2 L653.0 70.3 L653.3 69.3 L653.5 68.4 L653.8 67.6 L654.0 66.8 L654.3 66.0 L654.5 65.2 L654.8 64.5 L655.0 63.9 L655.3 63.3 L655.5 62.7 L655.8 62.1 L656.0 61.6 L656.3 61.2 L656.5 60.8 L656.8 60.4 L657.0 60.8 L657.3 61.2 L657.5 61.7 L657.8 62.2 L658.0 62.8 L658.3 63.4 L658.5 64.0 L658.8 64.7 L659.0 65.5 L659.3 66.2 L659.5 67.1 L659.8 67.9 L660.0 68.8 L660.3 69.8 L660.5 70.8 L660.8 71.8 L661.0 72.9 L661.3 74.0 L661.5 75.2 L661.8 76.4 L662.0 77.6 L662.2 78.9 L662.5 80.2 L662.7 81.6 L663.0 82.9 L663.2 84.4 L663.5 85.8 L663.7 87.3 L664.0 88.8 L664.2 90.4 L664.5 92.0 L664.7 93.6 L665.0 95.2 L665.2 96.9 L665.5 98.6 L665.7 100.3 L666.0 102.1 L666.2 103.9 L666.5 105.7 L666.7 107.5 L667.0 109.4 L667.2 111.2 L667.5 113.1 L667.7 115.0 L668.0 117.0 L668.2 118.9 L668.5 120.8 L668.7 122.8 L669.0 124.8 L669.2 126.8 L669.5 128.8 L669.7 130.8 L670.0 132.8 L670.2 134.9 L670.5 136.9 L670.7 138.9 L671.0 141.0 L671.2 143.0 L671.5 145.1 L671.7 147.1 L671.9 149.2 L672.2 151.2 L672.4 153.2 L672.7 155.3 L672.9 157.3 L673.2 159.3 L673.4 161.3 L673.7 163.3 L673.9 165.3 L674.2 167.3 L674.4 169.3 L674.7 171.2 L674.9 173.2 L675.2 175.1 L675.4 177.0 L675.7 178.9 L675.9 180.7 L676.2 182.6 L676.4 184.4 L676.7 186.2 L676.9 187.9 L677.2 189.7 L677.4 191.4 L677.7 193.1 L677.9 194.8 L678.2 196.4 L678.4 198.0 L678.7 199.6 L678.9 201.1 L679.2 202.6 L679.4 204.1 L679.7 205.5 L679.9 207.0 L680.2 208.3 L680.4 209.7 L680.7 211.0 L680.9 212.2 L681.2 213.4 L681.4 214.6 L681.7 215.8 L681.9 216.9 L682.1 217.9 L682.4 218.9 L682.6 219.9 L682.9 220.9 L683.1 221.8 L683.4 222.6 L683.6 223.4 L683.9 224.2 L684.1 224.9 L684.4 225.6 L684.6 226.2 L684.9 226.8 L685.1 227.3 L685.4 227.8 L685.6 228.3 L685.9 228.7 L686.1 228.8 L686.4 228.4 L686.6 227.9 L686.9 227.4 L687.1 226.9 L687.4 226.3 L687.6 225.7 L687.9 225.0 L688.1 224.3 L688.4 223.5 L688.6 222.7 L688.9 221.9 L689.1 221.0 L689.4 220.0 L689.6 219.0 L689.9 218.0 L690.1 217.0 L690.4 215.9 L690.6 214.7 L690.9 213.5 L691.1 212.3 L691.4 211.0 L691.6 209.7 L691.8 208.4 L692.1 207.0 L692.3 205.6 L692.6 204.1 L692.8 202.6 L693.1 201.1 L693.3 199.6 L693.6 198.0 L693.8 196.4 L694.1 194.7 L694.3 193.0 L694.6 191.3 L694.8 189.6 L695.1 187.9 L695.3 186.1 L695.6 184.3 L695.8 182.4 L696.1 180.6 L696.3 178.7 L696.6 176.8 L696.8 174.9 L697.1 173.0 L697.3 171.0 L697.6 169.0 L697.8 167.1 L698.1 165.1 L698.3 163.1 L698.6 161.0 L698.8 159.0 L699.1 157.0 L699.3 154.9 L699.6 152.9 L699.8 150.8 L700.1 148.8 L700.3 146.7 L700.6 144.7 L700.8 142.6 L701.1 140.5 L701.3 138.5 L701.6 136.4 L701.8 134.4 L702.0 132.3 L702.3 130.3 L702.5 128.3 L702.8 126.3 L703.0 124.3 L703.3 122.3 L703.5 120.3 L703.8 118.3 L704.0 116.4 L704.3 114.4 L704.5 112.5 L704.8 110.6 L705.0 108.8 L705.3 106.9 L705.5 105.1 L705.8 103.3 L706.0 101.5 L706.3 99.7 L706.5 98.0 L706.8 96.3 L707.0 94.6 L707.3 93.0 L707.5 91.3 L707.8 89.8 L708.0 88.2 L708.3 86.7 L708.5 85.2 L708.8 83.8 L709.0 82.3 L709.3 81.0 L709.5 79.6 L709.8 78.3 L710.0 77.0 L710.3 75.8 L710.5 74.6 L710.8 73.5 L711.0 72.4 L711.3 71.3 L711.5 70.3 L711.7 69.3 L712.0 68.4 L712.2 67.5 L712.5 66.6 L712.7 65.8 L713.0 65.0 L713.2 64.3 L713.5 63.7 L713.7 63.0 L714.0 62.4 L714.2 61.9 L714.5 61.4 L714.7 61.0 L715.0 60.6 L715.2 60.6 L715.5 61.1 L715.7 61.5 L716.0 62.0 L716.2 62.6 L716.5 63.2 L716.7 63.8 L717.0 64.5 L717.2 65.3 L717.5 66.0 L717.7 66.9 L718.0 67.7 L718.2 68.7 L718.5 69.6 L718.7 70.6 L719.0 71.7 L719.2 72.8 L719.5 73.9 L719.7 75.1 L720.0 76.3 L720.2 77.5 L720.5 78.8 L720.7 80.1 L721.0 81.5 L721.2 82.9 L721.5 84.4 L721.7 85.8 L721.9 87.3 L722.2 88.9 L722.4 90.5 L722.7 92.1 L722.9 93.7 L723.2 95.4 L723.4 97.1 L723.7 98.8 L723.9 100.6 L724.2 102.4 L724.4 104.2 L724.7 106.0 L724.9 107.9 L725.2 109.8 L725.4 111.7 L725.7 113.6 L725.9 115.6 L726.2 117.5 L726.4 119.5 L726.7 121.5 L726.9 123.5 L727.2 125.5 L727.4 127.6 L727.7 129.6 L727.9 131.7 L728.2 133.7 L728.4 135.8 L728.7 137.9 L728.9 140.0 L729.2 142.1 L729.4 144.2 L729.7 146.3 L729.9 148.4 L730.2 150.5 L730.4 152.6 L730.7 154.6 L730.9 156.7 L731.2 158.8 L731.4 160.9 L731.6 162.9 L731.9 165.0 L732.1 167.0 L732.4 169.1 L732.6 171.1 L732.9 173.1 L733.1 175.1 L733.4 177.0 L733.6 179.0 L733.9 180.9 L734.1 182.8 L734.4 184.7 L734.6 186.6 L734.9 188.5 L735.1 190.3 L735.4 192.1 L735.6 193.8 L735.9 195.6 L736.1 197.3 L736.4 199.0 L736.6 200.6 L736.9 202.3 L737.1 203.9 L737.4 205.4 L737.6 206.9 L737.9 208.4 L738.1 209.9 L738.4 211.3 L738.6 212.7 L738.9 214.0 L739.1 215.3 L739.4 216.6 L739.6 217.8 L739.9 219.0 L740.1 220.2 L740.4 221.3 L740.6 222.3 L740.9 223.4 L741.1 224.3 L741.3 225.3 L741.6 226.2 L741.8 227.0 L742.1 227.8 L742.3 228.6 L742.6 229.3 L742.8 229.9 L743.1 230.6 L743.3 231.1 L743.6 231.7 L743.8 232.1 L744.1 232.6 L744.3 233.0 L744.6 232.6 L744.8 232.1 L745.1 231.7 L745.3 231.1 L745.6 230.6 L745.8 229.9 L746.1 229.3 L746.3 228.6 L746.6 227.8 L746.8 227.0 L747.1 226.2 L747.3 225.3 L747.6 224.3 L747.8 223.3 L748.1 222.3 L748.3 221.3 L748.6 220.1 L748.8 219.0 L749.1 217.8 L749.3 216.6 L749.6 215.3 L749.8 214.0 L750.1 212.7 L750.3 211.3 L750.6 209.8 L750.8 208.4 L751.1 206.9 L751.3 205.4 L751.5 203.8 L751.8 202.2 L752.0 200.6 L752.3 198.9 L752.5 197.2 L752.8 195.5 L753.0 193.8 L753.3 192.0 L753.5 190.2 L753.8 188.4 L754.0 186.5 L754.3 184.6 L754.5 182.7 L754.8 180.8 L755.0 178.9 L755.3 176.9 L755.5 174.9 L755.8 173.0 L756.0 171.0 L756.3 168.9 L756.5 166.9 L756.8 164.9 L757.0 162.8 L757.3 160.7 L757.5 158.7 L757.8 156.6 L758.0 154.5 L758.3 152.4 L758.5 150.3 L758.8 148.2 L759.0 146.2 L759.3 144.1 L759.5 142.0 L759.8 139.9 L760.0 137.8 L760.3 135.7 L760.5 133.7 L760.8 131.6 L761.0 129.6 L761.2 127.5 L761.5 125.5 L761.7 123.5 L762.0 121.5 L762.2 119.5 L762.5 117.5 L762.7 115.6 L763.0 113.6 L763.2 111.7 L763.5 109.8 L763.7 107.9 L764.0 106.1 L764.2 104.3 L764.5 102.5 L764.7 100.7 L765.0 99.0 L765.2 97.3 L765.5 95.6 L765.7 93.9 L766.0 92.3 L766.2 90.7 L766.5 89.2 L766.7 87.6 L767.0 86.1 L767.2 84.7 L767.5 83.3 L767.7 81.9 L768.0 80.6 L768.2 79.3 L768.5 78.0 L768.7 76.8 L769.0 75.6 L769.2 74.4 L769.5 73.3 L769.7 72.3 L770.0 71.3 L770.2 70.3 L770.5 69.4 L770.7 68.5 L771.0 67.7 L771.2 66.9 L771.4 66.1 L771.7 65.4 L771.9 64.8 L772.2 64.1 L772.4 63.6 L772.7 63.1 L772.9 62.6 L773.2 62.2 L773.4 61.9 L773.7 62.3 L773.9 62.7 L774.2 63.2 L774.4 63.7 L774.7 64.2 L774.9 64.8 L775.2 65.4 L775.4 66.1 L775.7 66.8 L775.9 67.6 L776.2 68.4 L776.4 69.2 L776.7 70.1 L776.9 71.0 L777.2 72.0 L777.4 73.0 L777.7 74.1 L777.9 75.1 L778.2 76.3 L778.4 77.4 L778.7 78.6 L778.9 79.8 L779.2 81.1 L779.4 82.4 L779.7 83.7 L779.9 85.1 L780.2 86.5 L780.4 88.0 L780.7 89.4 L780.9 90.9 L781.1 92.5 L781.4 94.0 L781.6 95.6 L781.9 97.2 L782.1 98.9 L782.4 100.5 L782.6 102.2 L782.9 103.9 L783.1 105.7 L783.4 107.4 L783.6 109.2 L783.9 111.0 L784.1 112.8 L784.4 114.6 L784.6 116.5 L784.9 118.4 L785.1 120.2 L785.4 122.1 L785.6 124.0 L785.9 126.0 L786.1 127.9 L786.4 129.8 L786.6 131.8 L786.9 133.7 L787.1 135.7 L787.4 137.6 L787.6 139.6 L787.9 141.5 L788.1 143.5 L788.4 145.5 L788.6 147.4 L788.9 149.4 L789.1 151.3 L789.4 153.3 L789.6 155.2 L789.9 157.2 L790.1 159.1 L790.4 161.0 L790.6 162.9 L790.9 164.8 L791.1 166.7 L791.3 168.6 L791.6 170.4 L791.8 172.3 L792.1 174.1 L792.3 175.9 L792.6 177.7 L792.8 179.4 L793.1 181.2 L793.3 182.9 L793.6 184.6 L793.8 186.3 L794.1 187.9 L794.3 189.5 L794.6 191.1 L794.8 192.7 L795.1 194.2 L795.3 195.7 L795.6 197.2 L795.8 198.6 L796.1 200.0 L796.3 201.4 L796.6 202.8 L796.8 204.1 L797.1 205.3 L797.3 206.6 L797.6 207.8 L797.8 208.9 L798.1 210.1 L798.3 211.2 L798.6 212.2 L798.8 213.2 L799.1 214.2 L799.3 215.1 L799.6 216.0 L799.8 216.9 L800.1 217.7 L800.3 218.4 L800.6 219.2 L800.8 219.9 L801.0 220.5 L801.3 221.1 L801.5 221.7 L801.8 222.2 L802.0 222.6 L802.3 223.1 L802.5 223.4 L802.8 223.4 L803.0 223.0 L803.3 222.6 L803.5 222.1 L803.8 221.6 L804.0 221.1 L804.3 220.5 L804.5 219.9 L804.8 219.2 L805.0 218.6 L805.3 217.8 L805.5 217.0 L805.8 216.2 L806.0 215.4 L806.3 214.5 L806.5 213.6 L806.8 212.6 L807.0 211.6 L807.3 210.6 L807.5 209.5 L807.8 208.4 L808.0 207.2 L808.3 206.1 L808.5 204.9 L808.8 203.6 L809.0 202.3 L809.3 201.0 L809.5 199.7 L809.8 198.3 L810.0 196.9 L810.3 195.5 L810.5 194.0 L810.8 192.5 L811.0 191.0 L811.2 189.5 L811.5 187.9 L811.7 186.3 L812.0 184.7 L812.2 183.1 L812.5 181.4 L812.7 179.8 L813.0 178.1 L813.2 176.4 L813.5 174.6 L813.7 172.9 L814.0 171.1 L814.2 169.3 L814.5 167.5 L814.7 165.7 L815.0 163.9 L815.2 162.1 L815.5 160.2 L815.7 158.4 L816.0 156.5 L816.2 154.6 L816.5 152.8 L816.7 150.9 L817.0 149.0 L817.2 147.1 L817.5 145.2 L817.7 143.4 L818.0 141.5 L818.2 139.6 L818.5 137.7 L818.7 135.8 L819.0 133.9 L819.2 132.1 L819.5 130.2 L819.7 128.3 L820.0 126.5 L820.2 124.7 L820.5 122.8 L820.7 121.0 L820.9 119.2 L821.2 117.4 L821.4 115.6 L821.7 113.9 L821.9 112.1 L822.2 110.4 L822.4 108.7 L822.7 107.0 L822.9 105.3 L823.2 103.7 L823.4 102.1 L823.7 100.5 L823.9 98.9 L824.2 97.3 L824.4 95.8 L824.7 94.3 L824.9 92.8 L825.2 91.4 L825.4 90.0 L825.7 88.6 L825.9 87.2 L826.2 85.9 L826.4 84.6 L826.7 83.3 L826.9 82.1 L827.2 80.9 L827.4 79.8 L827.7 78.6 L827.9 77.5 L828.2 76.5 L828.4 75.5 L828.7 74.5 L828.9 73.5 L829.2 72.6 L829.4 71.7 L829.7 70.9 L829.9 70.1 L830.2 69.3 L830.4 68.6 L830.7 67.9 L830.9 67.3 L831.1 66.7 L831.4 66.1 L831.6 65.6 L831.9 65.1 L832.1 64.7 L832.4 64.3 L832.6 63.9 L832.9 64.2 L833.1 64.6 L833.4 65.1 L833.6 65.6 L833.9 66.1 L834.1 66.7 L834.4 67.4 L834.6 68.1 L834.9 68.8 L835.1 69.6 L835.4 70.5 L835.6 71.3 L835.9 72.3 L836.1 73.2 L836.4 74.2 L836.6 75.3 L836.9 76.4 L837.1 77.5 L837.4 78.7 L837.6 79.9 L837.9 81.1 L838.1 82.4 L838.4 83.8 L838.6 85.1 L838.9 86.5 L839.1 88.0 L839.4 89.5 L839.6 91.0 L839.9 92.5 L840.1 94.1 L840.4 95.7 L840.6 97.3 L840.9 99.0 L841.1 100.7 L841.3 102.5 L841.6 104.2 L841.8 106.0 L842.1 107.8 L842.3 109.6 L842.6 111.5 L842.8 113.4 L843.1 115.2 L843.3 117.2 L843.6 119.1 L843.8 121.0 L844.1 123.0 L844.3 125.0 L844.6 127.0 L844.8 129.0 L845.1 131.0 L845.3 133.0 L845.6 135.1 L845.8 137.1 L846.1 139.2 L846.3 141.2 L846.6 143.3 L846.8 145.3 L847.1 147.4 L847.3 149.4 L847.6 151.5 L847.8 153.6 L848.1 155.6 L848.3 157.7 L848.6 159.7 L848.8 161.7 L849.1 163.8 L849.3 165.8 L849.6 167.8 L849.8 169.8 L850.1 171.7 L850.3 173.7 L850.6 175.6 L850.8 177.6 L851.0 179.5 L851.3 181.4 L851.5 183.2 L851.8 185.1 L852.0 186.9 L852.3 188.7 L852.5 190.5 L852.8 192.2 L853.0 193.9 L853.3 195.6 L853.5 197.3 L853.8 198.9 L854.0 200.5 L854.3 202.1 L854.5 203.6 L854.8 205.1 L855.0 206.6 L855.3 208.0 L855.5 209.4 L855.8 210.7 L856.0 212.0 L856.3 213.3 L856.5 214.6 L856.8 215.8 L857.0 216.9 L857.3 218.0 L857.5 219.1 L857.8 220.1 L858.0 221.1 L858.3 222.1 L858.5 223.0 L858.8 223.8 L859.0 224.7 L859.3 225.4 L859.5 226.1 L859.8 226.8 L860.0 227.5 L860.3 228.0 L860.5 228.6 L860.8 229.1 L861.0 229.5 L861.2 229.9 L861.5 229.9 L861.7 229.5 L862.0 229.0 L862.2 228.5 L862.5 228.0 L862.7 227.4 L863.0 226.8 L863.2 226.1 L863.5 225.4 L863.7 224.6 L864.0 223.8 L864.2 223.0 L864.5 222.1 L864.7 221.2 L865.0 220.2 L865.2 219.2 L865.5 218.2 L865.7 217.1 L866.0 216.0 L866.2 214.8 L866.5 213.6 L866.7 212.4 L867.0 211.1 L867.2 209.8 L867.5 208.4 L867.7 207.0 L868.0 205.6 L868.2 204.2 L868.5 202.7 L868.7 201.1 L869.0 199.6 L869.2 198.0 L869.5 196.4 L869.7 194.8 L870.0 193.1 L870.2 191.4 L870.5 189.7 L870.7 187.9 L870.9 186.2 L871.2 184.4 L871.4 182.6 L871.7 180.7 L871.9 178.9 L872.2 177.0 L872.4 175.1 L872.7 173.2 L872.9 171.2 L873.2 169.3 L873.4 167.3 L873.7 165.4 L873.9 163.4 L874.2 161.4 L874.4 159.4 L874.7 157.4 L874.9 155.4 L875.2 153.4 L875.4 151.3 L875.7 149.3 L875.9 147.3 L876.2 145.2 L876.4 143.2 L876.7 141.2 L876.9 139.2 L877.2 137.1 L877.4 135.1 L877.7 133.1 L877.9 131.1 L878.2 129.1 L878.4 127.1 L878.7 125.1 L878.9 123.1 L879.2 121.2 L879.4 119.2 L879.7 117.3 L879.9 115.4 L880.2 113.5 L880.4 111.6 L880.7 109.8 L880.9 107.9 L881.1 106.1 L881.4 104.3 L881.6 102.6 L881.9 100.8 L882.1 99.1 L882.4 97.4 L882.6 95.7 L882.9 94.1 L883.1 92.5 L883.4 90.9 L883.6 89.3 L883.9 87.8 L884.1 86.3 L884.4 84.9 L884.6 83.5 L884.9 82.1 L885.1 80.7 L885.4 79.4 L885.6 78.1 L885.9 76.9 L886.1 75.7 L886.4 74.5 L886.6 73.4 L886.9 72.3 L887.1 71.3 L887.4 70.3 L887.6 69.3 L887.9 68.4 L888.1 67.5 L888.4 66.6 L888.6 65.9 L888.9 65.1 L889.1 64.4 L889.4 63.7 L889.6 63.1 L889.9 62.5 L890.1 62.0 L890.4 61.5 L890.6 61.0 L890.8 60.6 L891.1 60.6 L891.3 61.0 L891.6 61.4 L891.8 61.9 L892.1 62.4 L892.3 63.0 L892.6 63.6 L892.8 64.3 L893.1 65.0 L893.3 65.7 L893.6 66.5 L893.8 67.4 L894.1 68.3 L894.3 69.2 L894.6 70.2 L894.8 71.2 L895.1 72.2 L895.3 73.3 L895.6 74.4 L895.8 75.6 L896.1 76.8 L896.3 78.1 L896.6 79.4 L896.8 80.7 L897.1 82.1 L897.3 83.5 L897.6 84.9 L897.8 86.4 L898.1 87.9 L898.3 89.4 L898.6 91.0 L898.8 92.6 L899.1 94.2 L899.3 95.8 L899.6 97.5 L899.8 99.2 L900.1 101.0 L900.3 102.7 L900.5 104.5 L900.8 106.3 L901.0 108.2 L901.3 110.0 L901.5 111.9 L901.8 113.8 L902.0 115.7 L902.3 117.6 L902.5 119.5 L902.8 121.5 L903.0 123.4 L903.3 125.4 L903.5 127.4 L903.8 129.4 L904.0 131.4 L904.3 133.4 L904.5 135.4 L904.8 137.5 L905.0 139.5 L905.3 141.5 L905.5 143.5 L905.8 145.6 L906.0 147.6 L906.3 149.6 L906.5 151.6 L906.8 153.6 L907.0 155.6 L907.3 157.6 L907.5 159.6 L907.8 161.6 L908.0 163.6 L908.3 165.5 L908.5 167.5 L908.8 169.4 L909.0 171.3 L909.3 173.2 L909.5 175.1 L909.8 176.9 L910.0 178.8 L910.3 180.6 L910.5 182.4 L910.7 184.1 L911.0 185.9 L911.2 187.6 L911.5 189.3 L911.7 190.9 L912.0 192.6 L912.2 194.2 L912.5 195.7 L912.7 197.3 L913.0 198.8 L913.2 200.3 L913.5 201.7 L913.7 203.1 L914.0 204.5 L914.2 205.8 L914.5 207.1 L914.7 208.4 L915.0 209.6 L915.2 210.8 L915.5 211.9 L915.7 213.0 L916.0 214.1 L916.2 215.1 L916.5 216.1 L916.7 217.0 L917.0 217.9 L917.2 218.7 L917.5 219.5 L917.7 220.3 L918.0 221.0 L918.2 221.7 L918.5 222.3 L918.7 222.9 L919.0 223.5 L919.2 224.0 L919.5 224.4 L919.7 224.8 L920.0 224.9 L920.2 224.5 L920.5 224.0 L920.7 223.5 L920.9 223.0 L921.2 222.4 L921.4 221.8 L921.7 221.1 L921.9 220.4 L922.2 219.6 L922.4 218.8 L922.7 217.9 L922.9 217.0 L923.2 216.1 L923.4 215.1 L923.7 214.1 L923.9 213.0 L924.2 211.9 L924.4 210.7 L924.7 209.5 L924.9 208.3 L925.2 207.0 L925.4 205.7 L925.7 204.3 L925.9 203.0 L926.2 201.5 L926.4 200.1 L926.7 198.6 L926.9 197.0 L927.2 195.5 L927.4 193.9 L927.7 192.3 L927.9 190.6 L928.2 188.9 L928.4 187.2 L928.7 185.5 L928.9 183.7 L929.2 181.9 L929.4 180.1 L929.7 178.2 L929.9 176.4 L930.2 174.5 L930.4 172.6 L930.6 170.7 L930.9 168.7 L931.1 166.8 L931.4 164.8 L931.6 162.8 L931.9 160.8 L932.1 158.8 L932.4 156.8 L932.6 154.8 L932.9 152.7 L933.1 150.7 L933.4 148.7 L933.6 146.6 L933.9 144.6 L934.1 142.5 L934.4 140.5 L934.6 138.4 L934.9 136.4 L935.1 134.3 L935.4 132.3 L935.6 130.3 L935.9 128.3 L936.1 126.2 L936.4 124.2 L936.6 122.3 L936.9 120.3 L937.1 118.3 L937.4 116.4 L937.6 114.4 L937.9 112.5 L938.1 110.6 L938.4 108.8 L938.6 106.9 L938.9 105.1 L939.1 103.3 L939.4 101.5 L939.6 99.7 L939.9 98.0 L940.1 96.3 L940.4 94.6 L940.6 93.0 L940.8 91.3 L941.1 89.8 L941.3 88.2 L941.6 86.7 L941.8 85.2 L942.1 83.8 L942.3 82.3 L942.6 81.0 L942.8 79.6 L943.1 78.3 L943.3 77.1 L943.6 75.9 L943.8 74.7 L944.1 73.5 L944.3 72.4 L944.6 71.4 L944.8 70.4 L945.1 69.4 L945.3 68.5 L945.6 67.6 L945.8 66.7 L946.1 65.9 L946.3 65.2 L946.6 64.5 L946.8 63.8 L947.1 63.2 L947.3 62.6 L947.6 62.1 L947.8 61.7 L948.1 61.2 L948.3 60.8 L948.6 61.2 L948.8 61.7 L949.1 62.2 L949.3 62.7 L949.6 63.3 L949.8 63.9 L950.1 64.6 L950.3 65.3 L950.5 66.0 L950.8 66.8 L951.0 67.7 L951.3 68.6 L951.5 69.5 L951.8 70.5 L952.0 71.5 L952.3 72.6 L952.5 73.7 L952.8 74.9 L953.0 76.1 L953.3 77.3 L953.5 78.6 L953.8 79.9 L954.0 81.3 L954.3 82.7 L954.5 84.1 L954.8 85.6 L955.0 87.1 L955.3 88.6 L955.5 90.2 L955.8 91.8 L956.0 93.4 L956.3 95.1 L956.5 96.8 L956.8 98.5 L957.0 100.3 L957.3 102.1 L957.5 103.9 L957.8 105.7 L958.0 107.6 L958.3 109.5 L958.5 111.4 L958.8 113.3 L959.0 115.3 L959.3 117.2 L959.5 119.2 L959.8 121.2 L960.0 123.2 L960.3 125.2 L960.5 127.3 L960.7 129.3 L961.0 131.4 L961.2 133.4 L961.5 135.5 L961.7 137.6 L962.0 139.7 L962.2 141.8 L962.5 143.8 L962.7 145.9 L963.0 148.0 L963.2 150.1 L963.5 152.2 L963.7 154.3 L964.0 156.3 L964.2 158.4 L964.5 160.5 L964.7 162.5 L965.0 164.6 L965.2 166.6 L965.5 168.6 L965.7 170.6 L966.0 172.6 L966.2 174.5 L966.5 176.5 L966.7 178.4 L967.0 180.3 L967.2 182.2 L967.5 184.1 L967.7 185.9 L968.0 187.7 L968.2 189.5 L968.5 191.3 L968.7 193.0 L969.0 194.7 L969.2 196.4 L969.5 198.1 L969.7 199.7 L970.0 201.3 L970.2 202.8 L970.4 204.3 L970.7 205.8 L970.9 207.2 L971.2 208.6 L971.4 210.0 L971.7 211.3 L971.9 212.6 L972.2 213.9 L972.4 215.1 L972.7 216.2 L972.9 217.4 L973.2 218.4 L973.4 219.5 L973.7 220.5 L973.9 221.4 L974.2 222.3 L974.4 223.2 L974.7 224.0 L974.9 224.8 L975.2 225.5 L975.4 226.2 L975.7 226.8 L975.9 227.4 L976.2 227.9 L976.4 228.4 L976.7 228.9 L976.9 229.3 L977.2 229.0 L977.4 228.6 L977.7 228.1 L977.9 227.6 L978.2 227.0 L978.4 226.3 L978.7 225.7 L978.9 224.9 L979.2 224.1 L979.4 223.3 L979.7 222.4 L979.9 221.5 L980.2 220.5 L980.4 219.5 L980.6 218.4 L980.9 217.3 L981.1 216.2 L981.4 214.9 L981.6 213.7 L981.9 212.4 L982.1 211.1 L982.4 209.7 L982.6 208.3 L982.9 206.8 L983.1 205.3 L983.4 203.8 L983.6 202.2 L983.9 200.6 L984.1 199.0 L984.4 197.3 L984.6 195.6 L984.9 193.9 L985.1 192.1 L985.4 190.3 L985.6 188.5 L985.9 186.6 L986.1 184.7 L986.4 182.8 L986.6 180.9 L986.9 178.9 L987.1 177.0 L987.4 175.0 L987.6 172.9 L987.9 170.9 L988.1 168.8 L988.4 166.8 L988.6 164.7 L988.9 162.6 L989.1 160.5 L989.4 158.4 L989.6 156.2 L989.9 154.1 L990.1 152.0 L990.3 149.8 L990.6 147.7 L990.8 145.5 L991.1 143.4 L991.3 141.2 L991.6 139.1 L991.8 136.9 L992.1 134.8 L992.3 132.7 L992.6 130.6 L992.8 128.5 L993.1 126.3 L993.3 124.3 L993.6 122.2 L993.8 120.1 L994.1 118.1 L994.3 116.1 L994.6 114.0 L994.8 112.1 L995.1 110.1 L995.3 108.1 L995.6 106.2 L995.8 104.3 L996.1 102.5 L996.3 100.6 L996.6 98.8 L996.8 97.0 L997.1 95.3 L997.3 93.6 L997.6 91.9 L997.8 90.2 L998.1 88.6 L998.3 87.0 L998.6 85.5 L998.8 84.0 L999.1 82.5 L999.3 81.1 L999.6 79.7 L999.8 78.3 L1000.1 77.0 L1000.3 75.7 L1000.5 74.5 L1000.8 73.3 L1001.0 72.2 L1001.3 71.1 L1001.5 70.1 L1001.8 69.1 L1002.0 68.1 L1002.3 67.2 L1002.5 66.4 L1002.8 65.6 L1003.0 64.8 L1003.3 64.1 L1003.5 63.5 L1003.8 62.9 L1004.0 62.3 L1004.3 61.8 L1004.5 61.3 L1004.8 60.9 L1005.0 61.2 L1005.3 61.6 L1005.5 62.1 L1005.8 62.6 L1006.0 63.2 L1006.3 63.8 L1006.5 64.4 L1006.8 65.2 L1007.0 65.9 L1007.3 66.7 L1007.5 67.6 L1007.8 68.4 L1008.0 69.4 L1008.3 70.4 L1008.5 71.4 L1008.8 72.5 L1009.0 73.6 L1009.3 74.7 L1009.5 75.9 L1009.8 77.1 L1010.0 78.4" stroke="#0000FF" stroke-width="2.60" stroke-dasharray="10.5 9"/>
<path d="M612.0 168.1 L612.2 165.4 L612.5 162.6 L612.7 159.9 L613.0 157.1 L613.2 154.2 L613.5 151.4 L613.7 148.6 L614.0 145.7 L614.2 142.9 L614.5 140.0 L614.7 137.2 L615.0 134.3 L615.2 131.5 L615.5 128.7 L615.7 125.9 L616.0 123.1 L616.2 120.4 L616.5 117.7 L616.7 115.0 L617.0 112.3 L617.2 109.7 L617.5 107.1 L617.7 104.6 L618.0 102.1 L618.2 99.6 L618.5 97.2 L618.7 94.9 L619.0 92.6 L619.2 90.3 L619.5 88.2 L619.7 86.0 L620.0 84.0 L620.2 82.0 L620.5 80.1 L620.7 78.3 L621.0 76.5 L621.2 74.8 L621.5 73.2 L621.7 71.7 L622.0 70.2 L622.2 68.8 L622.4 67.5 L622.7 66.3 L622.9 65.2 L623.2 64.1 L623.4 63.2 L623.7 62.3 L623.9 61.5 L624.2 60.8 L624.4 60.6 L624.7 61.0 L624.9 61.5 L625.2 62.1 L625.4 62.7 L625.7 63.3 L625.9 64.0 L626.2 64.7 L626.4 65.4 L626.7 66.2 L626.9 67.0 L627.2 67.9 L627.4 68.8 L627.7 69.8 L627.9 70.8 L628.2 71.8 L628.4 72.9 L628.7 74.0 L628.9 75.1 L629.2 76.3 L629.4 77.5 L629.7 78.8 L629.9 80.1 L630.2 81.4 L630.4 82.7 L630.7 84.1 L630.9 85.5 L631.2 87.0 L631.4 88.5 L631.7 90.0 L631.9 91.5 L632.1 93.1 L632.4 94.7 L632.6 96.3 L632.9 98.0 L633.1 99.6 L633.4 101.3 L633.6 103.1 L633.9 104.8 L634.1 106.6 L634.4 108.4 L634.6 110.2 L634.9 112.0 L635.1 113.8 L635.4 115.7 L635.6 117.6 L635.9 119.5 L636.1 121.4 L636.4 123.3 L636.6 125.2 L636.9 127.1 L637.1 129.1 L637.4 131.0 L637.6 133.0 L637.9 134.9 L638.1 136.9 L638.4 138.8 L638.6 140.8 L638.9 142.8 L639.1 144.8 L639.4 146.7 L639.6 148.7 L639.9 150.6 L640.1 152.6 L640.4 154.5 L640.6 156.5 L640.9 158.4 L641.1 160.3 L641.4 162.3 L641.6 164.2 L641.9 166.0 L642.1 167.9 L642.3 169.8 L642.6 171.6 L642.8 173.5 L643.1 175.3 L643.3 177.1 L643.6 178.8 L643.8 180.6 L644.1 182.3 L644.3 184.0 L644.6 185.7 L644.8 187.3 L645.1 189.0 L645.3 190.6 L645.6 192.2 L645.8 193.7 L646.1 195.2 L646.3 196.7 L646.6 198.2 L646.8 199.6 L647.1 201.0 L647.3 202.3 L647.6 203.7 L647.8 205.0 L648.1 206.2 L648.3 207.5 L648.6 208.6 L648.8 209.8 L649.1 210.9 L649.3 212.0 L649.6 213.0 L649.8 214.0 L650.1 215.0 L650.3 215.9 L650.6 216.8 L650.8 217.6 L651.1 218.4 L651.3 219.2 L651.6 219.9 L651.8 220.6 L652.0 221.2 L652.3 221.8 L652.5 222.3 L652.8 222.9 L653.0 223.3 L653.3 223.5 L653.5 223.1 L653.8 222.6 L654.0 222.0 L654.3 221.3 L654.5 220.5 L654.8 219.6 L655.0 218.7 L655.3 217.6 L655.5 216.5 L655.8 215.3 L656.0 214.1 L656.3 212.8 L656.5 211.5 L656.8 210.2 L657.0 208.9 L657.3 207.5 L657.5 206.2 L657.8 204.9 L658.0 203.7 L658.3 202.5 L658.5 201.3 L658.8 200.2 L659.0 199.2 L659.3 198.3 L659.5 197.4 L659.8 196.7 L660.0 196.0 L660.3 195.5 L660.5 195.0 L660.8 194.7 L661.0 195.1 L661.3 195.6 L661.5 196.4 L661.8 197.3 L662.0 198.3 L662.2 199.4 L662.5 200.6 L662.7 201.8 L663.0 202.9 L663.2 204.0 L663.5 205.0 L663.7 205.8 L664.0 206.4 L664.2 206.9 L664.5 206.7 L664.7 206.1 L665.0 205.5 L665.2 204.8 L665.5 204.1 L665.7 203.2 L666.0 202.4 L666.2 201.4 L666.5 200.4 L666.7 199.4 L667.0 198.3 L667.2 197.1 L667.5 195.9 L667.7 194.6 L668.0 193.2 L668.2 191.8 L668.5 190.4 L668.7 188.9 L669.0 187.3 L669.2 185.7 L669.5 184.1 L669.7 182.4 L670.0 180.6 L670.2 178.8 L670.5 177.0 L670.7 175.1 L671.0 173.2 L671.2 171.2 L671.5 169.2 L671.7 167.2 L671.9 165.2 L672.2 163.1 L672.4 161.0 L672.7 158.8 L672.9 156.7 L673.2 154.5 L673.4 152.3 L673.7 150.0 L673.9 147.8 L674.2 145.5 L674.4 143.3 L674.7 141.0 L674.9 138.7 L675.2 136.4 L675.4 134.2 L675.7 131.9 L675.9 129.6 L676.2 127.3 L676.4 125.0 L676.7 122.7 L676.9 120.5 L677.2 118.2 L677.4 116.0 L677.7 113.8 L677.9 111.6 L678.2 109.4 L678.4 107.3 L678.7 105.2 L678.9 103.1 L679.2 101.0 L679.4 99.0 L679.7 96.9 L679.9 95.0 L680.2 93.0 L680.4 91.2 L680.7 89.3 L680.9 87.5 L681.2 85.7 L681.4 84.0 L681.7 82.3 L681.9 80.7 L682.1 79.1 L682.4 77.6 L682.6 76.1 L682.9 74.7 L683.1 73.3 L683.4 72.0 L683.6 70.8 L683.9 69.6 L684.1 68.4 L684.4 67.4 L684.6 66.3 L684.9 65.4 L685.1 64.5 L685.4 63.6 L685.6 62.9 L685.9 62.2 L686.1 61.5 L686.4 60.9 L686.6 60.4 L686.9 60.9 L687.1 61.4 L687.4 62.0 L687.6 62.6 L687.9 63.2 L688.1 63.9 L688.4 64.6 L688.6 65.4 L688.9 66.2 L689.1 67.1 L689.4 68.0 L689.6 69.0 L689.9 69.9 L690.1 71.0 L690.4 72.1 L690.6 73.2 L690.9 74.3 L691.1 75.5 L691.4 76.8 L691.6 78.0 L691.8 79.3 L692.1 80.7 L692.3 82.1 L692.6 83.5 L692.8 84.9 L693.1 86.4 L693.3 88.0 L693.6 89.5 L693.8 91.1 L694.1 92.7 L694.3 94.4 L694.6 96.1 L694.8 97.8 L695.1 99.5 L695.3 101.3 L695.6 103.1 L695.8 104.9 L696.1 106.7 L696.3 108.6 L696.6 110.5 L696.8 112.4 L697.1 114.3 L697.3 116.2 L697.6 118.2 L697.8 120.2 L698.1 122.2 L698.3 124.2 L698.6 126.2 L698.8 128.3 L699.1 130.3 L699.3 132.4 L699.6 134.4 L699.8 136.5 L700.1 138.6 L700.3 140.7 L700.6 142.8 L700.8 144.8 L701.1 146.9 L701.3 149.0 L701.6 151.1 L701.8 153.2 L702.0 155.3 L702.3 157.4 L702.5 159.5 L702.8 161.5 L703.0 163.6 L703.3 165.7 L703.5 167.7 L703.8 169.7 L704.0 171.8 L704.3 173.8 L704.5 175.7 L704.8 177.7 L705.0 179.7 L705.3 181.6 L705.5 183.6 L705.8 185.5 L706.0 187.3 L706.3 189.2 L706.5 191.0 L706.8 192.8 L707.0 194.6 L707.3 196.4 L707.5 198.1 L707.8 199.8 L708.0 201.5 L708.3 203.1 L708.5 204.8 L708.8 206.3 L709.0 207.9 L709.3 209.4 L709.5 210.9 L709.8 212.3 L710.0 213.8 L710.3 215.1 L710.5 216.5 L710.8 217.8 L711.0 219.0 L711.3 220.3 L711.5 221.5 L711.7 222.6 L712.0 223.7 L712.2 224.8 L712.5 225.8 L712.7 226.8 L713.0 227.7 L713.2 228.6 L713.5 229.5 L713.7 230.3 L714.0 231.1 L714.2 231.8 L714.5 232.5 L714.7 233.1 L715.0 233.7 L715.2 234.3 L715.5 234.8 L715.7 235.0 L716.0 234.5 L716.2 234.0 L716.5 233.4 L716.7 232.7 L717.0 232.0 L717.2 231.3 L717.5 230.5 L717.7 229.6 L718.0 228.7 L718.2 227.8 L718.5 226.8 L718.7 225.8 L719.0 224.7 L719.2 223.6 L719.5 222.4 L719.7 221.2 L720.0 219.9 L720.2 218.6 L720.5 217.3 L720.7 215.9 L721.0 214.5 L721.2 213.0 L721.5 211.5 L721.7 210.0 L721.9 208.4 L722.2 206.8 L722.4 205.1 L722.7 203.4 L722.9 201.7 L723.2 200.0 L723.4 198.2 L723.7 196.3 L723.9 194.5 L724.2 192.6 L724.4 190.7 L724.7 188.8 L724.9 186.8 L725.2 184.8 L725.4 182.8 L725.7 180.8 L725.9 178.8 L726.2 176.7 L726.4 174.6 L726.7 172.5 L726.9 170.4 L727.2 168.3 L727.4 166.1 L727.7 164.0 L727.9 161.8 L728.2 159.6 L728.4 157.4 L728.7 155.2 L728.9 153.0 L729.2 150.9 L729.4 148.7 L729.7 146.5 L729.9 144.3 L730.2 142.1 L730.4 139.9 L730.7 137.7 L730.9 135.5 L731.2 133.3 L731.4 131.2 L731.6 129.0 L731.9 126.9 L732.1 124.7 L732.4 122.6 L732.6 120.5 L732.9 118.4 L733.1 116.4 L733.4 114.3 L733.6 112.3 L733.9 110.3 L734.1 108.3 L734.4 106.4 L734.6 104.4 L734.9 102.5 L735.1 100.7 L735.4 98.8 L735.6 97.0 L735.9 95.2 L736.1 93.5 L736.4 91.8 L736.6 90.1 L736.9 88.4 L737.1 86.8 L737.4 85.3 L737.6 83.7 L737.9 82.2 L738.1 80.8 L738.4 79.3 L738.6 78.0 L738.9 76.6 L739.1 75.3 L739.4 74.1 L739.6 72.9 L739.9 71.7 L740.1 70.6 L740.4 69.5 L740.6 68.5 L740.9 67.5 L741.1 66.6 L741.3 65.7 L741.6 64.9 L741.8 64.1 L742.1 63.4 L742.3 62.7 L742.6 62.0 L742.8 61.5 L743.1 60.9 L743.3 60.4 L743.6 60.8 L743.8 61.2 L744.1 61.7 L744.3 62.3 L744.6 62.9 L744.8 63.6 L745.1 64.3 L745.3 65.1 L745.6 65.9 L745.8 66.8 L746.1 67.8 L746.3 68.8 L746.6 69.8 L746.8 70.9 L747.1 72.1 L747.3 73.3 L747.6 74.5 L747.8 75.8 L748.1 77.1 L748.3 78.5 L748.6 79.9 L748.8 81.3 L749.1 82.7 L749.3 84.2 L749.6 85.7 L749.8 87.3 L750.1 88.8 L750.3 90.4 L750.6 92.0 L750.8 93.6 L751.1 95.2 L751.3 96.9 L751.5 98.5 L751.8 100.1 L752.0 101.8 L752.3 103.4 L752.5 105.0 L752.8 106.6 L753.0 108.2 L753.3 109.8 L753.5 111.4 L753.8 113.0 L754.0 114.5 L754.3 116.0 L754.5 117.5 L754.8 119.0 L755.0 120.4 L755.3 121.8 L755.5 123.1 L755.8 124.5 L756.0 125.7 L756.3 127.0 L756.5 128.2 L756.8 129.3 L757.0 130.4 L757.3 131.5 L757.5 132.5 L757.8 133.4 L758.0 134.3 L758.3 135.1 L758.5 135.9 L758.8 136.7 L759.0 137.3 L759.3 138.0 L759.5 138.5 L759.8 139.0 L760.0 139.4 L760.3 139.8 L760.5 140.2 L760.8 140.7 L761.0 141.3 L761.2 142.1 L761.5 143.1 L761.7 144.1 L762.0 145.2 L762.2 146.3 L762.5 147.5 L762.7 148.6 L763.0 149.6 L763.2 150.5 L763.5 151.3 L763.7 152.0 L764.0 152.5 L764.2 152.8 L764.5 153.7 L764.7 154.8 L765.0 156.2 L765.2 157.8 L765.5 159.7 L765.7 161.7 L766.0 164.0 L766.2 166.4 L766.5 169.1 L766.7 171.9 L767.0 174.9 L767.2 178.0 L767.5 181.2 L767.7 184.6 L768.0 188.0 L768.2 191.5 L768.5 195.1 L768.7 198.7 L769.0 202.3 L769.2 205.9 L769.5 209.4 L769.7 212.9 L770.0 216.3 L770.2 219.7 L770.5 222.9 L770.7 226.0 L771.0 228.9 L771.2 231.7 L771.4 234.3 L771.7 236.7 L771.9 239.0 L772.2 241.0 L772.4 242.8 L772.7 244.3 L772.9 245.6 L773.2 246.7 L773.4 247.3 L773.7 246.8 L773.9 246.3 L774.2 245.7 L774.4 245.1 L774.7 244.4 L774.9 243.7 L775.2 243.0 L775.4 242.2 L775.7 241.4 L775.9 240.5 L776.2 239.6 L776.4 238.6 L776.7 237.6 L776.9 236.6 L777.2 235.5 L777.4 234.4 L777.7 233.2 L777.9 232.0 L778.2 230.8 L778.4 229.5 L778.7 228.2 L778.9 226.8 L779.2 225.5 L779.4 224.0 L779.7 222.6 L779.9 221.1 L780.2 219.6 L780.4 218.0 L780.7 216.4 L780.9 214.8 L781.1 213.1 L781.4 211.4 L781.6 209.7 L781.9 208.0 L782.1 206.2 L782.4 204.4 L782.6 202.6 L782.9 200.7 L783.1 198.9 L783.4 197.0 L783.6 195.1 L783.9 193.1 L784.1 191.2 L784.4 189.2 L784.6 187.2 L784.9 185.2 L785.1 183.2 L785.4 181.1 L785.6 179.1 L785.9 177.0 L786.1 174.9 L786.4 172.9 L786.6 170.8 L786.9 168.7 L787.1 166.5 L787.4 164.4 L787.6 162.3 L787.9 160.2 L788.1 158.1 L788.4 155.9 L788.6 153.8 L788.9 151.7 L789.1 149.5 L789.4 147.4 L789.6 145.3 L789.9 143.2 L790.1 141.1 L790.4 139.0 L790.6 136.9 L790.9 134.8 L791.1 132.7 L791.3 130.7 L791.6 128.6 L791.8 126.6 L792.1 124.6 L792.3 122.6 L792.6 120.6 L792.8 118.6 L793.1 116.7 L793.3 114.8 L793.6 112.9 L793.8 111.0 L794.1 109.1 L794.3 107.3 L794.6 105.5 L794.8 103.7 L795.1 102.0 L795.3 100.2 L795.6 98.5 L795.8 96.9 L796.1 95.2 L796.3 93.6 L796.6 92.1 L796.8 90.5 L797.1 89.0 L797.3 87.5 L797.6 86.1 L797.8 84.7 L798.1 83.3 L798.3 82.0 L798.6 80.7 L798.8 79.5 L799.1 78.2 L799.3 77.1 L799.6 75.9 L799.8 74.8 L800.1 73.8 L800.3 72.8 L800.6 71.8 L800.8 70.9 L801.0 70.0 L801.3 69.1 L801.5 68.3 L801.8 67.5 L802.0 66.8 L802.3 66.1 L802.5 65.5 L802.8 64.9 L803.0 64.4 L803.3 63.9 L803.5 63.8 L803.8 64.2 L804.0 64.7 L804.3 65.2 L804.5 65.8 L804.8 66.4 L805.0 67.0 L805.3 67.7 L805.5 68.5 L805.8 69.2 L806.0 70.0 L806.3 70.9 L806.5 71.8 L806.8 72.7 L807.0 73.7 L807.3 74.7 L807.5 75.7 L807.8 76.8 L808.0 77.9 L808.3 79.1 L808.5 80.3 L808.8 81.5 L809.0 82.8 L809.3 84.1 L809.5 85.4 L809.8 86.7 L810.0 88.1 L810.3 89.5 L810.5 91.0 L810.8 92.5 L811.0 94.0 L811.2 95.5 L811.5 97.1 L811.7 98.7 L812.0 100.3 L812.2 101.9 L812.5 103.6 L812.7 105.3 L813.0 107.0 L813.2 108.7 L813.5 110.4 L813.7 112.2 L814.0 114.0 L814.2 115.8 L814.5 117.6 L814.7 119.4 L815.0 121.2 L815.2 123.1 L815.5 124.9 L815.7 126.8 L816.0 128.6 L816.2 130.5 L816.5 132.4 L816.7 134.3 L817.0 136.2 L817.2 138.1 L817.5 140.0 L817.7 141.9 L818.0 143.8 L818.2 145.7 L818.5 147.5 L818.7 149.4 L819.0 151.3 L819.2 153.2 L819.5 155.0 L819.7 156.9 L820.0 158.7 L820.2 160.6 L820.5 162.4 L820.7 164.2 L820.9 166.0 L821.2 167.8 L821.4 169.5 L821.7 171.3 L821.9 173.0 L822.2 174.7 L822.4 176.4 L822.7 178.0 L822.9 179.7 L823.2 181.3 L823.4 182.9 L823.7 184.4 L823.9 186.0 L824.2 187.5 L824.4 189.0 L824.7 190.4 L824.9 191.8 L825.2 193.2 L825.4 194.6 L825.7 195.9 L825.9 197.2 L826.2 198.4 L826.4 199.7 L826.7 200.9 L826.9 202.0 L827.2 203.1 L827.4 204.2 L827.7 205.3 L827.9 206.3 L828.2 207.2 L828.4 208.2 L828.7 209.1 L828.9 209.9 L829.2 210.7 L829.4 211.5 L829.7 212.2 L829.9 212.9 L830.2 213.6 L830.4 214.2 L830.7 214.7 L830.9 215.3 L831.1 215.8 L831.4 216.2 L831.6 216.1 L831.9 215.8 L832.1 215.4 L832.4 214.9 L832.6 214.4 L832.9 213.9 L833.1 213.4 L833.4 212.8 L833.6 212.2 L833.9 211.6 L834.1 211.0 L834.4 210.3 L834.6 209.6 L834.9 208.8 L835.1 208.1 L835.4 207.3 L835.6 206.4 L835.9 205.6 L836.1 204.7 L836.4 203.8 L836.6 202.8 L836.9 201.9 L837.1 200.9 L837.4 199.9 L837.6 198.8 L837.9 197.8 L838.1 196.7 L838.4 195.6 L838.6 194.4 L838.9 193.2 L839.1 192.1 L839.4 190.8 L839.6 189.6 L839.9 188.4 L840.1 187.1 L840.4 185.8 L840.6 184.5 L840.9 183.1 L841.1 181.8 L841.3 180.4 L841.6 179.0 L841.8 177.6 L842.1 176.2 L842.3 174.7 L842.6 173.3 L842.8 171.8 L843.1 170.3 L843.3 168.8 L843.6 167.3 L843.8 165.8 L844.1 164.2 L844.3 162.7 L844.6 161.1 L844.8 159.6 L845.1 158.0 L845.3 156.4 L845.6 154.8 L845.8 153.2 L846.1 151.6 L846.3 150.0 L846.6 148.4 L846.8 146.8 L847.1 145.1 L847.3 143.5 L847.6 141.9 L847.8 140.3 L848.1 138.6 L848.3 137.0 L848.6 135.4 L848.8 133.8 L849.1 132.1 L849.3 130.5 L849.6 128.9 L849.8 127.3 L850.1 125.7 L850.3 124.1 L850.6 122.5 L850.8 120.9 L851.0 119.3 L851.3 117.8 L851.5 116.2 L851.8 114.7 L852.0 113.1 L852.3 111.6 L852.5 110.1 L852.8 108.6 L853.0 107.1 L853.3 105.7 L853.5 104.2 L853.8 102.8 L854.0 101.3 L854.3 99.9 L854.5 98.5 L854.8 97.2 L855.0 95.8 L855.3 94.5 L855.5 93.2 L855.8 91.9 L856.0 90.6 L856.3 89.4 L856.5 88.1 L856.8 86.9 L857.0 85.7 L857.3 84.6 L857.5 83.4 L857.8 82.3 L858.0 81.2 L858.3 80.2 L858.5 79.1 L858.8 78.1 L859.0 77.1 L859.3 76.2 L859.5 75.3 L859.8 74.4 L860.0 73.5 L860.3 72.6 L860.5 71.8 L860.8 71.0 L861.0 70.2 L861.2 69.5 L861.5 68.8 L861.7 68.1 L862.0 67.5 L862.2 66.9 L862.5 66.3 L862.7 65.7 L863.0 65.2 L863.2 64.7 L863.5 64.2 L863.7 63.8 L864.0 63.4 L864.2 63.0 L864.5 63.1 L864.7 63.6 L865.0 64.1 L865.2 64.7 L865.5 65.3 L865.7 65.9 L866.0 66.6 L866.2 67.3 L866.5 68.1 L866.7 68.9 L867.0 69.8 L867.2 70.6 L867.5 71.6 L867.7 72.5 L868.0 73.6 L868.2 74.6 L868.5 75.7 L868.7 76.8 L869.0 78.0 L869.2 79.2 L869.5 80.4 L869.7 81.7 L870.0 83.0 L870.2 84.3 L870.5 85.7 L870.7 87.1 L870.9 88.6 L871.2 90.0 L871.4 91.6 L871.7 93.1 L871.9 94.7 L872.2 96.2 L872.4 97.9 L872.7 99.5 L872.9 101.2 L873.2 102.9 L873.4 104.6 L873.7 106.4 L873.9 108.1 L874.2 109.9 L874.4 111.7 L874.7 113.6 L874.9 115.4 L875.2 117.3 L875.4 119.2 L875.7 121.1 L875.9 123.0 L876.2 124.9 L876.4 126.8 L876.7 128.8 L876.9 130.7 L877.2 132.7 L877.4 134.7 L877.7 136.6 L877.9 138.6 L878.2 140.6 L878.4 142.6 L878.7 144.6 L878.9 146.6 L879.2 148.6 L879.4 150.6 L879.7 152.5 L879.9 154.5 L880.2 156.5 L880.4 158.5 L880.7 160.4 L880.9 162.4 L881.1 164.3 L881.4 166.3 L881.6 168.2 L881.9 170.1 L882.1 172.0 L882.4 173.9 L882.6 175.7 L882.9 177.6 L883.1 179.4 L883.4 181.2 L883.6 183.0 L883.9 184.8 L884.1 186.5 L884.4 188.2 L884.6 189.9 L884.9 191.6 L885.1 193.2 L885.4 194.9 L885.6 196.4 L885.9 198.0 L886.1 199.5 L886.4 201.0 L886.6 202.5 L886.9 203.9 L887.1 205.3 L887.4 206.7 L887.6 208.0 L887.9 209.3 L888.1 210.6 L888.4 211.8 L888.6 213.0 L888.9 214.2 L889.1 215.3 L889.4 216.4 L889.6 217.4 L889.9 218.4 L890.1 219.4 L890.4 220.3 L890.6 221.2 L890.8 222.0 L891.1 222.8 L891.3 223.6 L891.6 224.3 L891.8 225.0 L892.1 225.6 L892.3 226.2 L892.6 226.8 L892.8 227.3 L893.1 227.7 L893.3 227.4 L893.6 226.2 L893.8 224.6 L894.1 222.5 L894.3 220.0 L894.6 217.3 L894.8 214.3 L895.1 211.3 L895.3 208.3 L895.6 205.3 L895.8 202.6 L896.1 200.1 L896.3 198.0 L896.6 196.4 L896.8 195.2 L897.1 194.8 L897.3 195.2 L897.6 195.7 L897.8 196.3 L898.1 197.1 L898.3 198.0 L898.6 199.0 L898.8 200.0 L899.1 200.9 L899.3 201.9 L899.6 202.7 L899.8 203.4 L900.1 204.1 L900.3 204.5 L900.5 204.8 L900.8 204.3 L901.0 203.7 L901.3 203.1 L901.5 202.4 L901.8 201.6 L902.0 200.7 L902.3 199.8 L902.5 198.9 L902.8 197.9 L903.0 196.8 L903.3 195.6 L903.5 194.4 L903.8 193.1 L904.0 191.8 L904.3 190.4 L904.5 189.0 L904.8 187.5 L905.0 186.0 L905.3 184.4 L905.5 182.7 L905.8 181.0 L906.0 179.3 L906.3 177.5 L906.5 175.7 L906.8 173.8 L907.0 171.9 L907.3 170.0 L907.5 168.0 L907.8 166.0 L908.0 163.9 L908.3 161.9 L908.5 159.8 L908.8 157.6 L909.0 155.5 L909.3 153.3 L909.5 151.1 L909.8 148.9 L910.0 146.7 L910.3 144.5 L910.5 142.2 L910.7 140.0 L911.0 137.7 L911.2 135.5 L911.5 133.2 L911.7 131.0 L912.0 128.7 L912.2 126.5 L912.5 124.3 L912.7 122.1 L913.0 119.9 L913.2 117.7 L913.5 115.5 L913.7 113.4 L914.0 111.3 L914.2 109.2 L914.5 107.1 L914.7 105.1 L915.0 103.1 L915.2 101.1 L915.5 99.2 L915.7 97.3 L916.0 95.4 L916.2 93.6 L916.5 91.9 L916.7 90.1 L917.0 88.5 L917.2 86.8 L917.5 85.3 L917.7 83.7 L918.0 82.3 L918.2 80.9 L918.5 79.5 L918.7 78.2 L919.0 77.0 L919.2 75.8 L919.5 74.6 L919.7 73.6 L920.0 72.6 L920.2 71.6 L920.5 70.8 L920.7 70.0 L920.9 69.2 L921.2 68.5 L921.4 67.9 L921.7 67.4 L921.9 67.2 L922.2 67.7 L922.4 68.3 L922.7 68.9 L922.9 69.5 L923.2 70.2 L923.4 70.9 L923.7 71.7 L923.9 72.6 L924.2 73.4 L924.4 74.4 L924.7 75.3 L924.9 76.3 L925.2 77.4 L925.4 78.5 L925.7 79.6 L925.9 80.8 L926.2 82.0 L926.4 83.3 L926.7 84.6 L926.9 86.0 L927.2 87.4 L927.4 88.8 L927.7 90.3 L927.9 91.8 L928.2 93.3 L928.4 94.9 L928.7 96.5 L928.9 98.1 L929.2 99.8 L929.4 101.5 L929.7 103.3 L929.9 105.0 L930.2 106.8 L930.4 108.7 L930.6 110.5 L930.9 112.4 L931.1 114.3 L931.4 116.2 L931.6 118.2 L931.9 120.2 L932.1 122.2 L932.4 124.2 L932.6 126.2 L932.9 128.2 L933.1 130.3 L933.4 132.4 L933.6 134.4 L933.9 136.5 L934.1 138.6 L934.4 140.8 L934.6 142.9 L934.9 145.0 L935.1 147.1 L935.4 149.3 L935.6 151.4 L935.9 153.5 L936.1 155.7 L936.4 157.8 L936.6 159.9 L936.9 162.0 L937.1 164.1 L937.4 166.3 L937.6 168.4 L937.9 170.4 L938.1 172.5 L938.4 174.6 L938.6 176.6 L938.9 178.7 L939.1 180.7 L939.4 182.7 L939.6 184.7 L939.9 186.6 L940.1 188.6 L940.4 190.5 L940.6 192.4 L940.8 194.2 L941.1 196.1 L941.3 197.9 L941.6 199.7 L941.8 201.4 L942.1 203.1 L942.3 204.8 L942.6 206.5 L942.8 208.1 L943.1 209.7 L943.3 211.3 L943.6 212.8 L943.8 214.3 L944.1 215.7 L944.3 217.1 L944.6 218.5 L944.8 219.8 L945.1 221.1 L945.3 222.3 L945.6 223.5 L945.8 224.7 L946.1 225.8 L946.3 226.9 L946.6 227.9 L946.8 228.9 L947.1 229.8 L947.3 230.7 L947.6 231.6 L947.8 232.4 L948.1 233.1 L948.3 233.8 L948.6 234.5 L948.8 235.1 L949.1 235.7 L949.3 236.2 L949.6 236.5 L949.8 235.9 L950.1 235.0 L950.3 234.0 L950.5 232.9 L950.8 231.5 L951.0 230.0 L951.3 228.3 L951.5 226.5 L951.8 224.5 L952.0 222.5 L952.3 220.4 L952.5 218.2 L952.8 216.0 L953.0 213.7 L953.3 211.5 L953.5 209.3 L953.8 207.2 L954.0 205.1 L954.3 203.1 L954.5 201.2 L954.8 199.4 L955.0 197.8 L955.3 196.3 L955.5 195.0 L955.8 193.9 L956.0 193.0 L956.3 192.3 L956.5 191.8 L956.8 192.0 L957.0 192.2 L957.3 192.4 L957.5 192.8 L957.8 193.1 L958.0 193.5 L958.3 193.8 L958.5 194.1 L958.8 194.4 L959.0 194.6 L959.3 194.7 L959.5 194.2 L959.8 193.6 L960.0 192.9 L960.3 192.1 L960.5 191.3 L960.7 190.4 L961.0 189.5 L961.2 188.4 L961.5 187.3 L961.7 186.2 L962.0 185.0 L962.2 183.7 L962.5 182.3 L962.7 180.9 L963.0 179.4 L963.2 177.9 L963.5 176.3 L963.7 174.6 L964.0 172.9 L964.2 171.1 L964.5 169.3 L964.7 167.4 L965.0 165.5 L965.2 163.6 L965.5 161.6 L965.7 159.5 L966.0 157.5 L966.2 155.4 L966.5 153.2 L966.7 151.1 L967.0 148.9 L967.2 146.6 L967.5 144.4 L967.7 142.1 L968.0 139.8 L968.2 137.5 L968.5 135.2 L968.7 132.9 L969.0 130.6 L969.2 128.3 L969.5 126.0 L969.7 123.6 L970.0 121.3 L970.2 119.0 L970.4 116.7 L970.7 114.4 L970.9 112.2 L971.2 109.9 L971.4 107.7 L971.7 105.5 L971.9 103.3 L972.2 101.2 L972.4 99.1 L972.7 97.0 L972.9 95.0 L973.2 93.0 L973.4 91.0 L973.7 89.1 L973.9 87.3 L974.2 85.4 L974.4 83.7 L974.7 82.0 L974.9 80.3 L975.2 78.7 L975.4 77.2 L975.7 75.7 L975.9 74.3 L976.2 72.9 L976.4 71.6 L976.7 70.4 L976.9 69.2 L977.2 68.1 L977.4 67.1 L977.7 66.1 L977.9 65.2 L978.2 64.4 L978.4 63.7 L978.7 63.0 L978.9 62.4 L979.2 61.9 L979.4 62.4 L979.7 62.9 L979.9 63.5 L980.2 64.2 L980.4 64.9 L980.6 65.7 L980.9 66.5 L981.1 67.4 L981.4 68.3 L981.6 69.3 L981.9 70.3 L982.1 71.4 L982.4 72.5 L982.6 73.7 L982.9 74.9 L983.1 76.2 L983.4 77.5 L983.6 78.9 L983.9 80.3 L984.1 81.8 L984.4 83.3 L984.6 84.8 L984.9 86.4 L985.1 88.0 L985.4 89.7 L985.6 91.4 L985.9 93.2 L986.1 94.9 L986.4 96.8 L986.6 98.6 L986.9 100.5 L987.1 102.4 L987.4 104.4 L987.6 106.3 L987.9 108.3 L988.1 110.4 L988.4 112.4 L988.6 114.5 L988.9 116.6 L989.1 118.7 L989.4 120.8 L989.6 123.0 L989.9 125.1 L990.1 127.3 L990.3 129.5 L990.6 131.7 L990.8 133.9 L991.1 136.1 L991.3 138.4 L991.6 140.6 L991.8 142.8 L992.1 145.1 L992.3 147.3 L992.6 149.5 L992.8 151.7 L993.1 154.0 L993.3 156.2 L993.6 158.4 L993.8 160.6 L994.1 162.8 L994.3 164.9 L994.6 167.1 L994.8 169.2 L995.1 171.3 L995.3 173.4 L995.6 175.5 L995.8 177.6 L996.1 179.6 L996.3 181.6 L996.6 183.6 L996.8 185.5 L997.1 187.4 L997.3 189.3 L997.6 191.2 L997.8 193.0 L998.1 194.8 L998.3 196.6 L998.6 198.3 L998.8 199.9 L999.1 201.6 L999.3 203.2 L999.6 204.7 L999.8 206.2 L1000.1 207.7 L1000.3 209.1 L1000.5 210.5 L1000.8 211.9 L1001.0 213.1 L1001.3 214.4 L1001.5 215.6 L1001.8 216.7 L1002.0 217.8 L1002.3 218.8 L1002.5 219.8 L1002.8 220.8 L1003.0 221.6 L1003.3 222.5 L1003.5 223.3 L1003.8 224.0 L1004.0 224.7 L1004.3 225.3 L1004.5 225.9 L1004.8 226.4 L1005.0 226.2 L1005.3 225.7 L1005.5 225.3 L1005.8 224.8 L1006.0 224.2 L1006.3 223.7 L1006.5 223.0 L1006.8 222.4 L1007.0 221.6 L1007.3 220.9 L1007.5 220.1 L1007.8 219.3 L1008.0 218.4 L1008.3 217.5 L1008.5 216.6 L1008.8 215.6 L1009.0 214.6 L1009.3 213.5 L1009.5 212.4 L1009.8 211.3 L1010.0 210.2" stroke="#FF0000" stroke-width="2.30" stroke-dasharray="2.5 2.5"/>
</g>
<rect x="612.0" y="31.5" width="398.0" height="231.1" fill="none" stroke="#808080" stroke-width="1.5"/>
<line x1="612.0" y1="262.6" x2="612.0" y2="258.6" stroke="#808080" stroke-width="1"/>
<line x1="612.0" y1="31.5" x2="612.0" y2="35.5" stroke="#808080" stroke-width="1"/>
<line x1="811.0" y1="262.6" x2="811.0" y2="258.6" stroke="#808080" stroke-width="1"/>
<line x1="811.0" y1="31.5" x2="811.0" y2="35.5" stroke="#808080" stroke-width="1"/>
<line x1="1010.0" y1="262.6" x2="1010.0" y2="258.6" stroke="#808080" stroke-width="1"/>
<line x1="1010.0" y1="31.5" x2="1010.0" y2="35.5" stroke="#808080" stroke-width="1"/>
<line x1="612.0" y1="31.5" x2="616.0" y2="31.5" stroke="#808080" stroke-width="1"/>
<line x1="1010.0" y1="31.5" x2="1006.0" y2="31.5" stroke="#808080" stroke-width="1"/>
<line x1="612.0" y1="89.3" x2="616.0" y2="89.3" stroke="#808080" stroke-width="1"/>
<line x1="1010.0" y1="89.3" x2="1006.0" y2="89.3" stroke="#808080" stroke-width="1"/>
<line x1="612.0" y1="147.1" x2="616.0" y2="147.1" stroke="#808080" stroke-width="1"/>
<line x1="1010.0" y1="147.1" x2="1006.0" y2="147.1" stroke="#808080" stroke-width="1"/>
<line x1="612.0" y1="204.8" x2="616.0" y2="204.8" stroke="#808080" stroke-width="1"/>
<line x1="1010.0" y1="204.8" x2="1006.0" y2="204.8" stroke="#808080" stroke-width="1"/>
<line x1="612.0" y1="262.6" x2="616.0" y2="262.6" stroke="#808080" stroke-width="1"/>
<line x1="1010.0" y1="262.6" x2="1006.0" y2="262.6" stroke="#808080" stroke-width="1"/>
<rect x="623.4" y="38.3" width="124.4" height="78.9" fill="#fff" fill-opacity="0.88" stroke="#808080" stroke-width="1.5"/>
<line x1="626.5" y1="51.6" x2="651.0" y2="51.6" stroke="#EDB526" stroke-width="2.30"/>
<line x1="626.5" y1="77.9" x2="651.0" y2="77.9" stroke="#0000FF" stroke-width="2.60" stroke-dasharray="10.5 9"/>
<line x1="626.5" y1="103.9" x2="651.0" y2="103.9" stroke="#FF0000" stroke-width="2.30" stroke-dasharray="2.5 2.5"/>
<text x="653.8" y="60.2" font-size="23" fill="#262626" stroke="#262626" stroke-width="0.12">Passive</text>
<text x="653.8" y="85.8" font-size="23" fill="#262626" stroke="#262626" stroke-width="0.12">Fuzzy</text>
<text x="653.8" y="111.2" font-size="23" fill="#262626" stroke="#262626" stroke-width="0.12">NFADRC</text>
<text x="605.5" y="41.1" font-size="24.5" fill="#4a4a4a" stroke="#4a4a4a" stroke-width="0.12" text-anchor="end">0.8</text>
<text x="605.5" y="98.9" font-size="24.5" fill="#4a4a4a" stroke="#4a4a4a" stroke-width="0.12" text-anchor="end">0.4</text>
<text x="605.5" y="156.7" font-size="24.5" fill="#4a4a4a" stroke="#4a4a4a" stroke-width="0.12" text-anchor="end">0</text>
<text x="605.5" y="214.4" font-size="24.5" fill="#4a4a4a" stroke="#4a4a4a" stroke-width="0.12" text-anchor="end">-0.4</text>
<text x="605.5" y="272.2" font-size="24.5" fill="#4a4a4a" stroke="#4a4a4a" stroke-width="0.12" text-anchor="end">-0.8</text>
<text x="612.0" y="293.0" font-size="24.5" fill="#4a4a4a" stroke="#4a4a4a" stroke-width="0.12" text-anchor="middle">0.7</text>
<text x="811.0" y="293.0" font-size="24.5" fill="#4a4a4a" stroke="#4a4a4a" stroke-width="0.12" text-anchor="middle">0.8</text>
<text x="1010.0" y="293.0" font-size="24.5" fill="#4a4a4a" stroke="#4a4a4a" stroke-width="0.12" text-anchor="middle">0.9</text>
<text x="764.6" y="311.0" font-size="27" fill="#404040" stroke="#404040" stroke-width="0.12" textLength="93.0" lengthAdjust="spacingAndGlyphs">Time (s)</text>
<g transform="translate(560.0 146.7) rotate(-90)"><text x="0" y="0" font-size="28" fill="#404040" stroke="#404040" stroke-width="0.12" text-anchor="middle">Acceleration (m/s<tspan font-size="18" dy="-13">2</tspan><tspan dy="13">)</tspan></text></g>
<text x="757.9" y="24.6" font-size="27" fill="#000" stroke="#000" stroke-width="0.35" font-style="italic" textLength="18.5" lengthAdjust="spacingAndGlyphs">&#969;</text>
<text x="785.6" y="24.6" font-size="27" fill="#000" stroke="#000" stroke-width="0.35" textLength="18" lengthAdjust="spacingAndGlyphs">=</text>
<text x="812.1" y="24.6" font-size="27" fill="#000" stroke="#000" stroke-width="0.35" textLength="28.5" lengthAdjust="spacingAndGlyphs">34</text>
<text x="847.1" y="24.6" font-size="27" fill="#000" stroke="#000" stroke-width="0.35" textLength="28.5" lengthAdjust="spacingAndGlyphs">Hz</text>
<text x="540.0" y="316.0" font-size="28" fill="#000" stroke="#000" stroke-width="0.12">(b)</text>
<clipPath id="cc"><rect x="76.0" y="361.5" width="402.0" height="229.0"/></clipPath>
<g clip-path="url(#cc)" filter="url(#bl)" fill="none" stroke-linejoin="round">
<path d="M76.0 452.4 L76.3 448.3 L76.5 444.2 L76.8 440.2 L77.0 436.2 L77.3 432.3 L77.5 428.5 L77.8 424.8 L78.0 421.2 L78.3 417.7 L78.5 414.4 L78.8 411.1 L79.0 407.9 L79.3 404.9 L79.5 402.0 L79.8 399.3 L80.0 396.7 L80.3 394.2 L80.5 391.9 L80.8 389.7 L81.0 387.7 L81.3 385.9 L81.5 384.2 L81.8 382.7 L82.0 381.3 L82.3 380.2 L82.5 379.2 L82.8 378.3 L83.0 377.7 L83.3 377.3 L83.5 377.8 L83.8 378.5 L84.0 379.3 L84.3 380.2 L84.5 381.3 L84.8 382.5 L85.0 383.8 L85.3 385.3 L85.5 386.9 L85.8 388.7 L86.1 390.6 L86.3 392.6 L86.6 394.7 L86.8 397.0 L87.1 399.4 L87.3 401.9 L87.6 404.5 L87.8 407.2 L88.1 410.1 L88.3 413.0 L88.6 416.0 L88.8 419.2 L89.1 422.4 L89.3 425.7 L89.6 429.1 L89.8 432.5 L90.1 436.1 L90.3 439.6 L90.6 443.3 L90.8 447.0 L91.1 450.8 L91.3 454.6 L91.6 458.4 L91.8 462.3 L92.1 466.2 L92.3 470.1 L92.6 474.0 L92.8 478.0 L93.1 481.9 L93.3 485.8 L93.6 489.8 L93.8 493.7 L94.1 497.6 L94.3 501.5 L94.6 505.3 L94.8 509.1 L95.1 512.9 L95.3 516.6 L95.6 520.3 L95.8 523.9 L96.1 527.4 L96.4 530.9 L96.6 534.3 L96.9 537.6 L97.1 540.9 L97.4 544.0 L97.6 547.1 L97.9 550.0 L98.1 552.9 L98.4 555.6 L98.6 558.3 L98.9 560.8 L99.1 563.2 L99.4 565.5 L99.6 567.6 L99.9 569.7 L100.1 571.6 L100.4 573.4 L100.6 575.0 L100.9 576.5 L101.1 577.9 L101.4 579.2 L101.6 580.3 L101.9 581.2 L102.1 582.0 L102.4 582.7 L102.6 583.2 L102.9 583.1 L103.1 582.5 L103.4 581.7 L103.6 580.7 L103.9 579.6 L104.1 578.2 L104.4 576.8 L104.6 575.1 L104.9 573.3 L105.1 571.3 L105.4 569.2 L105.6 566.9 L105.9 564.5 L106.2 561.9 L106.4 559.2 L106.7 556.3 L106.9 553.3 L107.2 550.2 L107.4 547.0 L107.7 543.6 L107.9 540.1 L108.2 536.5 L108.4 532.9 L108.7 529.1 L108.9 525.2 L109.2 521.3 L109.4 517.3 L109.7 513.2 L109.9 509.1 L110.2 504.9 L110.4 500.6 L110.7 496.4 L110.9 492.1 L111.2 487.8 L111.4 483.4 L111.7 479.1 L111.9 474.8 L112.2 470.5 L112.4 466.2 L112.7 461.9 L112.9 457.6 L113.2 453.4 L113.4 449.3 L113.7 445.2 L113.9 441.1 L114.2 437.2 L114.4 433.3 L114.7 429.4 L114.9 425.7 L115.2 422.1 L115.4 418.6 L115.7 415.2 L115.9 411.9 L116.2 408.7 L116.5 405.6 L116.7 402.7 L117.0 399.9 L117.2 397.3 L117.5 394.8 L117.7 392.4 L118.0 390.2 L118.2 388.2 L118.5 386.3 L118.7 384.6 L119.0 383.0 L119.2 381.6 L119.5 380.4 L119.7 379.4 L120.0 378.5 L120.2 377.8 L120.5 377.3 L120.7 377.7 L121.0 378.3 L121.2 379.1 L121.5 380.0 L121.7 381.0 L122.0 382.2 L122.2 383.5 L122.5 384.9 L122.7 386.5 L123.0 388.2 L123.2 390.1 L123.5 392.1 L123.7 394.2 L124.0 396.4 L124.2 398.8 L124.5 401.3 L124.7 403.9 L125.0 406.6 L125.2 409.4 L125.5 412.3 L125.7 415.3 L126.0 418.4 L126.3 421.6 L126.5 424.9 L126.8 428.2 L127.0 431.7 L127.3 435.2 L127.5 438.8 L127.8 442.4 L128.0 446.1 L128.3 449.9 L128.5 453.6 L128.8 457.5 L129.0 461.3 L129.3 465.2 L129.5 469.1 L129.8 473.1 L130.0 477.0 L130.3 481.0 L130.5 484.9 L130.8 488.8 L131.0 492.8 L131.3 496.7 L131.5 500.6 L131.8 504.4 L132.0 508.2 L132.3 512.0 L132.5 515.7 L132.8 519.4 L133.0 523.0 L133.3 526.6 L133.5 530.1 L133.8 533.5 L134.0 536.8 L134.3 540.1 L134.5 543.3 L134.8 546.3 L135.0 549.3 L135.3 552.2 L135.5 555.0 L135.8 557.6 L136.0 560.2 L136.3 562.6 L136.6 564.9 L136.8 567.1 L137.1 569.2 L137.3 571.2 L137.6 573.0 L137.8 574.7 L138.1 576.2 L138.3 577.6 L138.6 578.9 L138.8 580.0 L139.1 581.0 L139.3 581.8 L139.6 582.6 L139.8 583.1 L140.1 583.2 L140.3 582.6 L140.6 581.9 L140.8 581.0 L141.1 579.8 L141.3 578.6 L141.6 577.1 L141.8 575.5 L142.1 573.8 L142.3 571.8 L142.6 569.7 L142.8 567.5 L143.1 565.1 L143.3 562.5 L143.6 559.8 L143.8 557.0 L144.1 554.1 L144.3 551.0 L144.6 547.7 L144.8 544.4 L145.1 541.0 L145.3 537.4 L145.6 533.7 L145.8 530.0 L146.1 526.2 L146.4 522.2 L146.6 518.2 L146.9 514.2 L147.1 510.1 L147.4 505.9 L147.6 501.7 L147.9 497.4 L148.1 493.1 L148.4 488.8 L148.6 484.5 L148.9 480.2 L149.1 475.8 L149.4 471.5 L149.6 467.2 L149.9 462.9 L150.1 458.6 L150.4 454.4 L150.6 450.3 L150.9 446.1 L151.1 442.1 L151.4 438.1 L151.6 434.2 L151.9 430.4 L152.1 426.6 L152.4 423.0 L152.6 419.4 L152.9 416.0 L153.1 412.6 L153.4 409.4 L153.6 406.4 L153.9 403.4 L154.1 400.6 L154.4 397.9 L154.6 395.4 L154.9 393.0 L155.1 390.7 L155.4 388.7 L155.6 386.7 L155.9 385.0 L156.1 383.4 L156.4 382.0 L156.7 380.7 L156.9 379.6 L157.2 378.7 L157.4 378.0 L157.7 377.4 L157.9 377.6 L158.2 378.1 L158.4 378.9 L158.7 379.7 L158.9 380.7 L159.2 381.9 L159.4 383.2 L159.7 384.6 L159.9 386.1 L160.2 387.8 L160.4 389.6 L160.7 391.6 L160.9 393.7 L161.2 395.9 L161.4 398.2 L161.7 400.7 L161.9 403.2 L162.2 405.9 L162.4 408.7 L162.7 411.6 L162.9 414.6 L163.2 417.6 L163.4 420.8 L163.7 424.1 L163.9 427.4 L164.2 430.9 L164.4 434.4 L164.7 437.9 L164.9 441.5 L165.2 445.2 L165.4 449.0 L165.7 452.7 L165.9 456.6 L166.2 460.4 L166.5 464.3 L166.7 468.2 L167.0 472.1 L167.2 476.1 L167.5 480.0 L167.7 484.0 L168.0 487.9 L168.2 491.8 L168.5 495.7 L168.7 499.6 L169.0 503.5 L169.2 507.3 L169.5 511.1 L169.7 514.8 L170.0 518.5 L170.2 522.2 L170.5 525.7 L170.7 529.2 L171.0 532.7 L171.2 536.0 L171.5 539.3 L171.7 542.5 L172.0 545.6 L172.2 548.6 L172.5 551.5 L172.7 554.3 L173.0 557.0 L173.2 559.6 L173.5 562.0 L173.7 564.4 L174.0 566.6 L174.2 568.7 L174.5 570.7 L174.7 572.5 L175.0 574.3 L175.2 575.8 L175.5 577.3 L175.7 578.6 L176.0 579.8 L176.2 580.8 L176.5 581.7 L176.8 582.4 L177.0 583.0 L177.3 583.3 L177.5 582.8 L177.8 582.1 L178.0 581.2 L178.3 580.1 L178.5 578.9 L178.8 577.5 L179.0 575.9 L179.3 574.2 L179.5 572.3 L179.8 570.2 L180.0 568.0 L180.3 565.7 L180.5 563.2 L180.8 560.5 L181.0 557.7 L181.3 554.8 L181.5 551.7 L181.8 548.5 L182.0 545.2 L182.3 541.8 L182.5 538.3 L182.8 534.6 L183.0 530.9 L183.3 527.1 L183.5 523.2 L183.8 519.2 L184.0 515.2 L184.3 511.1 L184.5 506.9 L184.8 502.7 L185.0 498.4 L185.3 494.2 L185.5 489.8 L185.8 485.5 L186.0 481.2 L186.3 476.9 L186.6 472.5 L186.8 468.2 L187.1 463.9 L187.3 459.7 L187.6 455.4 L187.8 451.3 L188.1 447.1 L188.3 443.1 L188.6 439.0 L188.8 435.1 L189.1 431.3 L189.3 427.5 L189.6 423.8 L189.8 420.3 L190.1 416.8 L190.3 413.4 L190.6 410.2 L190.8 407.1 L191.1 404.1 L191.3 401.2 L191.6 398.5 L191.8 396.0 L192.1 393.5 L192.3 391.3 L192.6 389.2 L192.8 387.2 L193.1 385.4 L193.3 383.8 L193.6 382.3 L193.8 381.0 L194.1 379.9 L194.3 378.9 L194.6 378.1 L194.8 377.5 L195.1 377.5 L195.3 378.0 L195.6 378.7 L195.8 379.5 L196.1 380.5 L196.3 381.6 L196.6 382.8 L196.9 384.2 L197.1 385.7 L197.4 387.4 L197.6 389.2 L197.9 391.1 L198.1 393.2 L198.4 395.3 L198.6 397.6 L198.9 400.1 L199.1 402.6 L199.4 405.3 L199.6 408.0 L199.9 410.9 L200.1 413.8 L200.4 416.9 L200.6 420.1 L200.9 423.3 L201.1 426.6 L201.4 430.0 L201.6 433.5 L201.9 437.1 L202.1 440.7 L202.4 444.3 L202.6 448.1 L202.9 451.8 L203.1 455.6 L203.4 459.5 L203.6 463.4 L203.9 467.3 L204.1 471.2 L204.4 475.1 L204.6 479.1 L204.9 483.0 L205.1 486.9 L205.4 490.9 L205.6 494.8 L205.9 498.7 L206.1 502.6 L206.4 506.4 L206.6 510.2 L206.9 513.9 L207.2 517.6 L207.4 521.3 L207.7 524.9 L207.9 528.4 L208.2 531.9 L208.4 535.2 L208.7 538.5 L208.9 541.7 L209.2 544.9 L209.4 547.9 L209.7 550.8 L209.9 553.6 L210.2 556.4 L210.4 559.0 L210.7 561.5 L210.9 563.8 L211.2 566.1 L211.4 568.2 L211.7 570.2 L211.9 572.1 L212.2 573.9 L212.4 575.5 L212.7 576.9 L212.9 578.3 L213.2 579.5 L213.4 580.5 L213.7 581.5 L213.9 582.2 L214.2 582.9 L214.4 583.4 L214.7 582.9 L214.9 582.3 L215.2 581.4 L215.4 580.4 L215.7 579.2 L215.9 577.8 L216.2 576.3 L216.4 574.6 L216.7 572.8 L217.0 570.8 L217.2 568.6 L217.5 566.3 L217.7 563.8 L218.0 561.2 L218.2 558.4 L218.5 555.5 L218.7 552.5 L219.0 549.3 L219.2 546.0 L219.5 542.6 L219.7 539.1 L220.0 535.5 L220.2 531.8 L220.5 528.0 L220.7 524.1 L221.0 520.2 L221.2 516.1 L221.5 512.0 L221.7 507.9 L222.0 503.7 L222.2 499.5 L222.5 495.2 L222.7 490.9 L223.0 486.6 L223.2 482.2 L223.5 477.9 L223.7 473.6 L224.0 469.3 L224.2 465.0 L224.5 460.7 L224.7 456.4 L225.0 452.3 L225.2 448.1 L225.5 444.0 L225.7 440.0 L226.0 436.1 L226.2 432.2 L226.5 428.4 L226.7 424.7 L227.0 421.1 L227.3 417.6 L227.5 414.2 L227.8 411.0 L228.0 407.8 L228.3 404.8 L228.5 401.9 L228.8 399.2 L229.0 396.6 L229.3 394.1 L229.5 391.8 L229.8 389.6 L230.0 387.6 L230.3 385.8 L230.5 384.1 L230.8 382.6 L231.0 381.3 L231.3 380.1 L231.5 379.1 L231.8 378.3 L232.0 377.6 L232.3 377.3 L232.5 377.9 L232.8 378.5 L233.0 379.3 L233.3 380.2 L233.5 381.3 L233.8 382.5 L234.0 383.9 L234.3 385.4 L234.5 387.0 L234.8 388.8 L235.0 390.6 L235.3 392.7 L235.5 394.8 L235.8 397.1 L236.0 399.5 L236.3 402.0 L236.5 404.6 L236.8 407.3 L237.1 410.2 L237.3 413.1 L237.6 416.2 L237.8 419.3 L238.1 422.5 L238.3 425.8 L238.6 429.2 L238.8 432.7 L239.1 436.2 L239.3 439.8 L239.6 443.4 L239.8 447.2 L240.1 450.9 L240.3 454.7 L240.6 458.6 L240.8 462.4 L241.1 466.3 L241.3 470.2 L241.6 474.2 L241.8 478.1 L242.1 482.1 L242.3 486.0 L242.6 489.9 L242.8 493.9 L243.1 497.8 L243.3 501.6 L243.6 505.5 L243.8 509.3 L244.1 513.0 L244.3 516.8 L244.6 520.4 L244.8 524.0 L245.1 527.6 L245.3 531.0 L245.6 534.4 L245.8 537.7 L246.1 541.0 L246.3 544.1 L246.6 547.2 L246.8 550.1 L247.1 553.0 L247.4 555.7 L247.6 558.4 L247.9 560.9 L248.1 563.3 L248.4 565.6 L248.6 567.7 L248.9 569.8 L249.1 571.7 L249.4 573.5 L249.6 575.1 L249.9 576.6 L250.1 578.0 L250.4 579.2 L250.6 580.3 L250.9 581.3 L251.1 582.1 L251.4 582.7 L251.6 583.2 L251.9 583.1 L252.1 582.4 L252.4 581.6 L252.6 580.7 L252.9 579.5 L253.1 578.2 L253.4 576.7 L253.6 575.0 L253.9 573.2 L254.1 571.3 L254.4 569.1 L254.6 566.8 L254.9 564.4 L255.1 561.8 L255.4 559.1 L255.6 556.2 L255.9 553.2 L256.1 550.1 L256.4 546.8 L256.6 543.5 L256.9 540.0 L257.2 536.4 L257.4 532.7 L257.7 528.9 L257.9 525.1 L258.2 521.1 L258.4 517.1 L258.7 513.0 L258.9 508.9 L259.2 504.7 L259.4 500.5 L259.7 496.2 L259.9 491.9 L260.2 487.6 L260.4 483.3 L260.7 478.9 L260.9 474.6 L261.2 470.3 L261.4 466.0 L261.7 461.7 L261.9 457.5 L262.2 453.3 L262.4 449.1 L262.7 445.0 L262.9 441.0 L263.2 437.0 L263.4 433.1 L263.7 429.3 L263.9 425.6 L264.2 422.0 L264.4 418.4 L264.7 415.0 L264.9 411.7 L265.2 408.6 L265.4 405.5 L265.7 402.6 L265.9 399.8 L266.2 397.2 L266.4 394.7 L266.7 392.3 L266.9 390.2 L267.2 388.1 L267.5 386.2 L267.7 384.5 L268.0 383.0 L268.2 381.6 L268.5 380.4 L268.7 379.3 L269.0 378.5 L269.2 377.8 L269.5 377.3 L269.7 377.7 L270.0 378.3 L270.2 379.1 L270.5 380.0 L270.7 381.0 L271.0 382.2 L271.2 383.5 L271.5 385.0 L271.7 386.6 L272.0 388.3 L272.2 390.2 L272.5 392.2 L272.7 394.3 L273.0 396.5 L273.2 398.9 L273.5 401.4 L273.7 404.0 L274.0 406.7 L274.2 409.5 L274.5 412.4 L274.7 415.4 L275.0 418.5 L275.2 421.7 L275.5 425.0 L275.7 428.4 L276.0 431.8 L276.2 435.3 L276.5 438.9 L276.7 442.6 L277.0 446.3 L277.3 450.0 L277.5 453.8 L277.8 457.6 L278.0 461.5 L278.3 465.4 L278.5 469.3 L278.8 473.2 L279.0 477.2 L279.3 481.1 L279.5 485.1 L279.8 489.0 L280.0 492.9 L280.3 496.8 L280.5 500.7 L280.8 504.6 L281.0 508.4 L281.3 512.1 L281.5 515.9 L281.8 519.5 L282.0 523.2 L282.3 526.7 L282.5 530.2 L282.8 533.6 L283.0 537.0 L283.3 540.2 L283.5 543.4 L283.8 546.4 L284.0 549.4 L284.3 552.3 L284.5 555.1 L284.8 557.7 L285.0 560.3 L285.3 562.7 L285.5 565.0 L285.8 567.2 L286.0 569.3 L286.3 571.2 L286.5 573.0 L286.8 574.7 L287.0 576.3 L287.3 577.7 L287.6 578.9 L287.8 580.1 L288.1 581.0 L288.3 581.9 L288.6 582.6 L288.8 583.1 L289.1 583.2 L289.3 582.6 L289.6 581.9 L289.8 580.9 L290.1 579.8 L290.3 578.5 L290.6 577.1 L290.8 575.5 L291.1 573.7 L291.3 571.7 L291.6 569.6 L291.8 567.4 L292.1 565.0 L292.3 562.4 L292.6 559.7 L292.8 556.9 L293.1 553.9 L293.3 550.8 L293.6 547.6 L293.8 544.3 L294.1 540.8 L294.3 537.3 L294.6 533.6 L294.8 529.8 L295.1 526.0 L295.3 522.1 L295.6 518.1 L295.8 514.0 L296.1 509.9 L296.3 505.7 L296.6 501.5 L296.8 497.2 L297.1 492.9 L297.4 488.6 L297.6 484.3 L297.9 480.0 L298.1 475.6 L298.4 471.3 L298.6 467.0 L298.9 462.7 L299.1 458.5 L299.4 454.3 L299.6 450.1 L299.9 446.0 L300.1 441.9 L300.4 437.9 L300.6 434.0 L300.9 430.2 L301.1 426.5 L301.4 422.8 L301.6 419.3 L301.9 415.8 L302.1 412.5 L302.4 409.3 L302.6 406.2 L302.9 403.3 L303.1 400.5 L303.4 397.8 L303.6 395.3 L303.9 392.9 L304.1 390.7 L304.4 388.6 L304.6 386.7 L304.9 384.9 L305.1 383.3 L305.4 381.9 L305.6 380.7 L305.9 379.6 L306.1 378.7 L306.4 377.9 L306.6 377.4 L306.9 377.6 L307.1 378.2 L307.4 378.9 L307.7 379.8 L307.9 380.8 L308.2 381.9 L308.4 383.2 L308.7 384.6 L308.9 386.2 L309.2 387.9 L309.4 389.7 L309.7 391.7 L309.9 393.8 L310.2 396.0 L310.4 398.3 L310.7 400.8 L310.9 403.3 L311.2 406.0 L311.4 408.8 L311.7 411.7 L311.9 414.7 L312.2 417.8 L312.4 421.0 L312.7 424.2 L312.9 427.6 L313.2 431.0 L313.4 434.5 L313.7 438.1 L313.9 441.7 L314.2 445.4 L314.4 449.1 L314.7 452.9 L314.9 456.7 L315.2 460.6 L315.4 464.4 L315.7 468.4 L315.9 472.3 L316.2 476.2 L316.4 480.2 L316.7 484.1 L316.9 488.1 L317.2 492.0 L317.5 495.9 L317.7 499.8 L318.0 503.6 L318.2 507.5 L318.5 511.2 L318.7 515.0 L319.0 518.7 L319.2 522.3 L319.5 525.9 L319.7 529.4 L320.0 532.8 L320.2 536.2 L320.5 539.4 L320.7 542.6 L321.0 545.7 L321.2 548.7 L321.5 551.6 L321.7 554.4 L322.0 557.1 L322.2 559.7 L322.5 562.1 L322.7 564.5 L323.0 566.7 L323.2 568.8 L323.5 570.8 L323.7 572.6 L324.0 574.3 L324.2 575.9 L324.5 577.3 L324.7 578.6 L325.0 579.8 L325.2 580.8 L325.5 581.7 L325.7 582.4 L326.0 583.0 L326.2 583.3 L326.5 582.8 L326.7 582.1 L327.0 581.2 L327.2 580.1 L327.5 578.8 L327.8 577.4 L328.0 575.9 L328.3 574.1 L328.5 572.2 L328.8 570.2 L329.0 567.9 L329.3 565.6 L329.5 563.1 L329.8 560.4 L330.0 557.6 L330.3 554.7 L330.5 551.6 L330.8 548.4 L331.0 545.1 L331.3 541.7 L331.5 538.1 L331.8 534.5 L332.0 530.8 L332.3 526.9 L332.5 523.0 L332.8 519.0 L333.0 515.0 L333.3 510.9 L333.5 506.7 L333.8 502.5 L334.0 498.3 L334.3 494.0 L334.5 489.7 L334.8 485.4 L335.0 481.0 L335.3 476.7 L335.5 472.4 L335.8 468.0 L336.0 463.8 L336.3 459.5 L336.5 455.3 L336.8 451.1 L337.0 447.0 L337.3 442.9 L337.6 438.9 L337.8 435.0 L338.1 431.1 L338.3 427.3 L338.6 423.7 L338.8 420.1 L339.1 416.7 L339.3 413.3 L339.6 410.1 L339.8 407.0 L340.1 404.0 L340.3 401.1 L340.6 398.4 L340.8 395.9 L341.1 393.4 L341.3 391.2 L341.6 389.1 L341.8 387.1 L342.1 385.3 L342.3 383.7 L342.6 382.2 L342.8 380.9 L343.1 379.8 L343.3 378.9 L343.6 378.1 L343.8 377.5 L344.1 377.5 L344.3 378.0 L344.6 378.7 L344.8 379.5 L345.1 380.5 L345.3 381.6 L345.6 382.9 L345.8 384.3 L346.1 385.8 L346.3 387.5 L346.6 389.3 L346.8 391.2 L347.1 393.3 L347.4 395.4 L347.6 397.7 L347.9 400.2 L348.1 402.7 L348.4 405.4 L348.6 408.1 L348.9 411.0 L349.1 414.0 L349.4 417.0 L349.6 420.2 L349.9 423.4 L350.1 426.8 L350.4 430.2 L350.6 433.6 L350.9 437.2 L351.1 440.8 L351.4 444.5 L351.6 448.2 L351.9 452.0 L352.1 455.8 L352.4 459.6 L352.6 463.5 L352.9 467.4 L353.1 471.3 L353.4 475.3 L353.6 479.2 L353.9 483.2 L354.1 487.1 L354.4 491.0 L354.6 495.0 L354.9 498.8 L355.1 502.7 L355.4 506.5 L355.6 510.3 L355.9 514.1 L356.1 517.8 L356.4 521.4 L356.6 525.0 L356.9 528.5 L357.1 532.0 L357.4 535.4 L357.7 538.7 L357.9 541.9 L358.2 545.0 L358.4 548.0 L358.7 550.9 L358.9 553.8 L359.2 556.5 L359.4 559.1 L359.7 561.6 L359.9 563.9 L360.2 566.2 L360.4 568.3 L360.7 570.3 L360.9 572.2 L361.2 573.9 L361.4 575.5 L361.7 577.0 L361.9 578.3 L362.2 579.5 L362.4 580.6 L362.7 581.5 L362.9 582.3 L363.2 582.9 L363.4 583.4 L363.7 582.9 L363.9 582.2 L364.2 581.4 L364.4 580.4 L364.7 579.2 L364.9 577.8 L365.2 576.3 L365.4 574.6 L365.7 572.7 L365.9 570.7 L366.2 568.5 L366.4 566.2 L366.7 563.7 L366.9 561.0 L367.2 558.3 L367.5 555.4 L367.7 552.3 L368.0 549.2 L368.2 545.9 L368.5 542.5 L368.7 539.0 L369.0 535.4 L369.2 531.7 L369.5 527.9 L369.7 524.0 L370.0 520.0 L370.2 516.0 L370.5 511.9 L370.7 507.7 L371.0 503.5 L371.2 499.3 L371.5 495.0 L371.7 490.7 L372.0 486.4 L372.2 482.1 L372.5 477.7 L372.7 473.4 L373.0 469.1 L373.2 464.8 L373.5 460.5 L373.7 456.3 L374.0 452.1 L374.2 447.9 L374.5 443.9 L374.7 439.8 L375.0 435.9 L375.2 432.0 L375.5 428.2 L375.7 424.6 L376.0 421.0 L376.2 417.5 L376.5 414.1 L376.7 410.8 L377.0 407.7 L377.2 404.7 L377.5 401.8 L377.8 399.1 L378.0 396.5 L378.3 394.0 L378.5 391.7 L378.8 389.6 L379.0 387.6 L379.3 385.7 L379.5 384.1 L379.8 382.6 L380.0 381.2 L380.3 380.1 L380.5 379.1 L380.8 378.3 L381.0 377.6 L381.3 377.4 L381.5 377.9 L381.8 378.5 L382.0 379.3 L382.3 380.3 L382.5 381.3 L382.8 382.6 L383.0 383.9 L383.3 385.4 L383.5 387.1 L383.8 388.8 L384.0 390.7 L384.3 392.7 L384.5 394.9 L384.8 397.2 L385.0 399.6 L385.3 402.1 L385.5 404.7 L385.8 407.5 L386.0 410.3 L386.3 413.2 L386.5 416.3 L386.8 419.4 L387.0 422.6 L387.3 426.0 L387.6 429.3 L387.8 432.8 L388.1 436.3 L388.3 439.9 L388.6 443.6 L388.8 447.3 L389.1 451.1 L389.3 454.9 L389.6 458.7 L389.8 462.6 L390.1 466.5 L390.3 470.4 L390.6 474.3 L390.8 478.3 L391.1 482.2 L391.3 486.2 L391.6 490.1 L391.8 494.0 L392.1 497.9 L392.3 501.8 L392.6 505.6 L392.8 509.4 L393.1 513.2 L393.3 516.9 L393.6 520.6 L393.8 524.2 L394.1 527.7 L394.3 531.2 L394.6 534.6 L394.8 537.9 L395.1 541.1 L395.3 544.2 L395.6 547.3 L395.8 550.2 L396.1 553.1 L396.3 555.8 L396.6 558.5 L396.8 561.0 L397.1 563.4 L397.3 565.7 L397.6 567.8 L397.9 569.8 L398.1 571.8 L398.4 573.5 L398.6 575.2 L398.9 576.7 L399.1 578.0 L399.4 579.3 L399.6 580.3 L399.9 581.3 L400.1 582.1 L400.4 582.7 L400.6 583.3 L400.9 583.1 L401.1 582.4 L401.4 581.6 L401.6 580.6 L401.9 579.5 L402.1 578.1 L402.4 576.6 L402.6 575.0 L402.9 573.2 L403.1 571.2 L403.4 569.0 L403.6 566.7 L403.9 564.3 L404.1 561.7 L404.4 559.0 L404.6 556.1 L404.9 553.1 L405.1 549.9 L405.4 546.7 L405.6 543.3 L405.9 539.8 L406.1 536.2 L406.4 532.6 L406.6 528.8 L406.9 524.9 L407.1 521.0 L407.4 517.0 L407.7 512.9 L407.9 508.7 L408.2 504.5 L408.4 500.3 L408.7 496.0 L408.9 491.7 L409.2 487.4 L409.4 483.1 L409.7 478.8 L409.9 474.4 L410.2 470.1 L410.4 465.8 L410.7 461.5 L410.9 457.3 L411.2 453.1 L411.4 448.9 L411.7 444.8 L411.9 440.8 L412.2 436.8 L412.4 432.9 L412.7 429.1 L412.9 425.4 L413.2 421.8 L413.4 418.3 L413.7 414.9 L413.9 411.6 L414.2 408.4 L414.4 405.4 L414.7 402.5 L414.9 399.7 L415.2 397.1 L415.4 394.6 L415.7 392.3 L415.9 390.1 L416.2 388.0 L416.4 386.2 L416.7 384.5 L416.9 382.9 L417.2 381.5 L417.4 380.3 L417.7 379.3 L418.0 378.4 L418.2 377.8 L418.5 377.3 L418.7 377.7 L419.0 378.4 L419.2 379.1 L419.5 380.0 L419.7 381.1 L420.0 382.3 L420.2 383.6 L420.5 385.1 L420.7 386.7 L421.0 388.4 L421.2 390.3 L421.5 392.3 L421.7 394.4 L422.0 396.6 L422.2 399.0 L422.5 401.5 L422.7 404.1 L423.0 406.8 L423.2 409.6 L423.5 412.5 L423.7 415.5 L424.0 418.7 L424.2 421.9 L424.5 425.2 L424.7 428.5 L425.0 432.0 L425.2 435.5 L425.5 439.1 L425.7 442.7 L426.0 446.4 L426.2 450.2 L426.5 454.0 L426.7 457.8 L427.0 461.6 L427.2 465.5 L427.5 469.5 L427.8 473.4 L428.0 477.3 L428.3 481.3 L428.5 485.2 L428.8 489.2 L429.0 493.1 L429.3 497.0 L429.5 500.9 L429.8 504.7 L430.0 508.5 L430.3 512.3 L430.5 516.0 L430.8 519.7 L431.0 523.3 L431.3 526.9 L431.5 530.3 L431.8 533.8 L432.0 537.1 L432.3 540.3 L432.5 543.5 L432.8 546.6 L433.0 549.5 L433.3 552.4 L433.5 555.2 L433.8 557.8 L434.0 560.4 L434.3 562.8 L434.5 565.1 L434.8 567.3 L435.0 569.4 L435.3 571.3 L435.5 573.1 L435.8 574.8 L436.0 576.3 L436.3 577.7 L436.5 579.0 L436.8 580.1 L437.0 581.1 L437.3 581.9 L437.5 582.6 L437.8 583.2 L438.1 583.2 L438.3 582.6 L438.6 581.8 L438.8 580.9 L439.1 579.8 L439.3 578.5 L439.6 577.0 L439.8 575.4 L440.1 573.6 L440.3 571.7 L440.6 569.6 L440.8 567.3 L441.1 564.9 L441.3 562.3 L441.6 559.6 L441.8 556.8 L442.1 553.8 L442.3 550.7 L442.6 547.5 L442.8 544.1 L443.1 540.7 L443.3 537.1 L443.6 533.4 L443.8 529.7 L444.1 525.8 L444.3 521.9 L444.6 517.9 L444.8 513.9 L445.1 509.7 L445.3 505.5 L445.6 501.3 L445.8 497.1 L446.1 492.8 L446.3 488.5 L446.6 484.1 L446.8 479.8 L447.1 475.5 L447.3 471.1 L447.6 466.8 L447.9 462.6 L448.1 458.3 L448.4 454.1 L448.6 449.9 L448.9 445.8 L449.1 441.8 L449.4 437.8 L449.6 433.9 L449.9 430.0 L450.1 426.3 L450.4 422.7 L450.6 419.1 L450.9 415.7 L451.1 412.4 L451.4 409.2 L451.6 406.1 L451.9 403.2 L452.1 400.4 L452.4 397.7 L452.6 395.2 L452.9 392.8 L453.1 390.6 L453.4 388.5 L453.6 386.6 L453.9 384.9 L454.1 383.3 L454.4 381.9 L454.6 380.6 L454.9 379.5 L455.1 378.6 L455.4 377.9 L455.6 377.3 L455.9 377.6 L456.1 378.2 L456.4 378.9 L456.6 379.8 L456.9 380.8 L457.1 382.0 L457.4 383.3 L457.6 384.7 L457.9 386.3 L458.2 388.0 L458.4 389.8 L458.7 391.8 L458.9 393.9 L459.2 396.1 L459.4 398.4 L459.7 400.9 L459.9 403.4 L460.2 406.1 L460.4 408.9 L460.7 411.8 L460.9 414.8 L461.2 417.9 L461.4 421.1 L461.7 424.4 L461.9 427.7 L462.2 431.1 L462.4 434.6 L462.7 438.2 L462.9 441.8 L463.2 445.5 L463.4 449.3 L463.7 453.0 L463.9 456.9 L464.2 460.7 L464.4 464.6 L464.7 468.5 L464.9 472.4 L465.2 476.4 L465.4 480.3 L465.7 484.3 L465.9 488.2 L466.2 492.1 L466.4 496.0 L466.7 499.9 L466.9 503.8 L467.2 507.6 L467.4 511.4 L467.7 515.1 L468.0 518.8 L468.2 522.4 L468.5 526.0 L468.7 529.5 L469.0 532.9 L469.2 536.3 L469.5 539.6 L469.7 542.7 L470.0 545.8 L470.2 548.8 L470.5 551.7 L470.7 554.5 L471.0 557.2 L471.2 559.8 L471.5 562.2 L471.7 564.6 L472.0 566.8 L472.2 568.9 L472.5 570.9 L472.7 572.7 L473.0 574.4 L473.2 576.0 L473.5 577.4 L473.7 578.7 L474.0 579.8 L474.2 580.9 L474.5 581.7 L474.7 582.5 L475.0 583.0 L475.2 583.3 L475.5 582.7 L475.7 582.0 L476.0 581.1 L476.2 580.0 L476.5 578.8 L476.7 577.4 L477.0 575.8 L477.2 574.0 L477.5 572.1 L477.7 570.1 L478.0 567.9" stroke="#EDB526" stroke-width="2.40"/>
<path d="M76.0 436.9 L76.3 435.4 L76.5 433.9 L76.8 432.4 L77.0 431.0 L77.3 429.7 L77.5 428.5 L77.8 427.3 L78.0 426.2 L78.3 425.2 L78.5 424.2 L78.8 423.3 L79.0 422.5 L79.3 421.8 L79.5 421.1 L79.8 420.5 L80.0 420.0 L80.3 420.5 L80.5 421.1 L80.8 421.7 L81.0 422.5 L81.3 423.3 L81.5 424.1 L81.8 425.1 L82.0 426.1 L82.3 427.2 L82.5 428.3 L82.8 429.6 L83.0 430.8 L83.3 432.2 L83.5 433.6 L83.8 435.1 L84.0 436.6 L84.3 438.2 L84.5 439.8 L84.8 441.5 L85.0 443.3 L85.3 445.0 L85.5 446.9 L85.8 448.8 L86.1 450.7 L86.3 452.7 L86.6 454.7 L86.8 456.7 L87.1 458.8 L87.3 460.8 L87.6 463.0 L87.8 465.1 L88.1 467.3 L88.3 469.4 L88.6 471.6 L88.8 473.8 L89.1 476.0 L89.3 478.2 L89.6 480.4 L89.8 482.6 L90.1 484.8 L90.3 487.0 L90.6 489.2 L90.8 491.4 L91.1 493.5 L91.3 495.6 L91.6 497.7 L91.8 499.8 L92.1 501.9 L92.3 503.9 L92.6 505.8 L92.8 507.8 L93.1 509.7 L93.3 511.5 L93.6 513.4 L93.8 515.1 L94.1 516.8 L94.3 518.5 L94.6 520.1 L94.8 521.7 L95.1 523.2 L95.3 524.6 L95.6 526.0 L95.8 527.3 L96.1 528.5 L96.4 529.7 L96.6 530.8 L96.9 531.8 L97.1 532.8 L97.4 533.7 L97.6 534.5 L97.9 535.3 L98.1 536.0 L98.4 536.6 L98.6 537.1 L98.9 537.0 L99.1 536.5 L99.4 535.8 L99.6 535.1 L99.9 534.3 L100.1 533.5 L100.4 532.5 L100.6 531.5 L100.9 530.5 L101.1 529.3 L101.4 528.1 L101.6 526.8 L101.9 525.5 L102.1 524.1 L102.4 522.6 L102.6 521.1 L102.9 519.5 L103.1 517.9 L103.4 516.2 L103.6 514.4 L103.9 512.6 L104.1 510.7 L104.4 508.8 L104.6 506.9 L104.9 504.9 L105.1 502.9 L105.4 500.9 L105.6 498.8 L105.9 496.7 L106.2 494.5 L106.4 492.4 L106.7 490.2 L106.9 488.0 L107.2 485.8 L107.4 483.6 L107.7 481.3 L107.9 479.1 L108.2 476.9 L108.4 474.6 L108.7 472.4 L108.9 470.2 L109.2 468.0 L109.4 465.8 L109.7 463.7 L109.9 461.5 L110.2 459.4 L110.4 457.3 L110.7 455.2 L110.9 453.2 L111.2 451.2 L111.4 449.2 L111.7 447.3 L111.9 445.5 L112.2 443.6 L112.4 441.9 L112.7 440.1 L112.9 438.5 L113.2 436.9 L113.4 435.3 L113.7 433.8 L113.9 432.4 L114.2 431.0 L114.4 429.7 L114.7 428.5 L114.9 427.3 L115.2 426.2 L115.4 425.2 L115.7 424.2 L115.9 423.3 L116.2 422.5 L116.5 421.8 L116.7 421.1 L117.0 420.5 L117.2 420.0 L117.5 420.5 L117.7 421.1 L118.0 421.8 L118.2 422.5 L118.5 423.3 L118.7 424.2 L119.0 425.2 L119.2 426.2 L119.5 427.4 L119.7 428.5 L120.0 429.8 L120.2 431.1 L120.5 432.5 L120.7 433.9 L121.0 435.4 L121.2 437.0 L121.5 438.6 L121.7 440.3 L122.0 442.0 L122.2 443.8 L122.5 445.7 L122.7 447.6 L123.0 449.5 L123.2 451.5 L123.5 453.5 L123.7 455.5 L124.0 457.6 L124.2 459.7 L124.5 461.8 L124.7 464.0 L125.0 466.2 L125.2 468.4 L125.5 470.6 L125.7 472.9 L126.0 475.1 L126.3 477.3 L126.5 479.6 L126.8 481.8 L127.0 484.1 L127.3 486.3 L127.5 488.5 L127.8 490.8 L128.0 493.0 L128.3 495.1 L128.5 497.3 L128.8 499.4 L129.0 501.5 L129.3 503.6 L129.5 505.6 L129.8 507.6 L130.0 509.6 L130.3 511.5 L130.5 513.3 L130.8 515.2 L131.0 516.9 L131.3 518.6 L131.5 520.3 L131.8 521.9 L132.0 523.5 L132.3 524.9 L132.5 526.4 L132.8 527.7 L133.0 529.0 L133.3 530.2 L133.5 531.4 L133.8 532.5 L134.0 533.5 L134.3 534.4 L134.5 535.3 L134.8 536.1 L135.0 536.8 L135.3 537.4 L135.5 538.0 L135.8 538.1 L136.0 537.5 L136.3 536.9 L136.6 536.2 L136.8 535.5 L137.1 534.6 L137.3 533.7 L137.6 532.7 L137.8 531.7 L138.1 530.6 L138.3 529.4 L138.6 528.1 L138.8 526.8 L139.1 525.4 L139.3 524.0 L139.6 522.5 L139.8 520.9 L140.1 519.3 L140.3 517.6 L140.6 515.9 L140.8 514.1 L141.1 512.3 L141.3 510.4 L141.6 508.5 L141.8 506.5 L142.1 504.5 L142.3 502.5 L142.6 500.5 L142.8 498.4 L143.1 496.2 L143.3 494.1 L143.6 491.9 L143.8 489.8 L144.1 487.6 L144.3 485.4 L144.6 483.1 L144.8 480.9 L145.1 478.7 L145.3 476.5 L145.6 474.2 L145.8 472.0 L146.1 469.8 L146.4 467.6 L146.6 465.5 L146.9 463.3 L147.1 461.2 L147.4 459.1 L147.6 457.0 L147.9 454.9 L148.1 452.9 L148.4 450.9 L148.6 449.0 L148.9 447.1 L149.1 445.3 L149.4 443.4 L149.6 441.7 L149.9 440.0 L150.1 438.3 L150.4 436.7 L150.6 435.2 L150.9 433.7 L151.1 432.3 L151.4 430.9 L151.6 429.6 L151.9 428.4 L152.1 427.2 L152.4 426.2 L152.6 425.1 L152.9 424.2 L153.1 423.3 L153.4 422.5 L153.6 421.8 L153.9 421.1 L154.1 420.5 L154.4 420.0 L154.6 420.5 L154.9 421.0 L155.1 421.6 L155.4 422.3 L155.6 423.0 L155.9 423.9 L156.1 424.7 L156.4 425.7 L156.7 426.7 L156.9 427.7 L157.2 428.9 L157.4 430.0 L157.7 431.3 L157.9 432.6 L158.2 433.9 L158.4 435.4 L158.7 436.8 L158.9 438.3 L159.2 439.9 L159.4 441.5 L159.7 443.2 L159.9 444.9 L160.2 446.6 L160.4 448.4 L160.7 450.2 L160.9 452.1 L161.2 454.0 L161.4 455.9 L161.7 457.8 L161.9 459.8 L162.2 461.8 L162.4 463.8 L162.7 465.8 L162.9 467.8 L163.2 469.9 L163.4 471.9 L163.7 474.0 L163.9 476.0 L164.2 478.1 L164.4 480.2 L164.7 482.2 L164.9 484.3 L165.2 486.3 L165.4 488.3 L165.7 490.3 L165.9 492.3 L166.2 494.3 L166.5 496.2 L166.7 498.1 L167.0 500.0 L167.2 501.9 L167.5 503.7 L167.7 505.5 L168.0 507.2 L168.2 508.9 L168.5 510.6 L168.7 512.2 L169.0 513.8 L169.2 515.3 L169.5 516.7 L169.7 518.2 L170.0 519.5 L170.2 520.8 L170.5 522.1 L170.7 523.2 L171.0 524.4 L171.2 525.4 L171.5 526.4 L171.7 527.4 L172.0 528.2 L172.2 529.1 L172.5 529.8 L172.7 530.5 L173.0 531.1 L173.2 531.6 L173.5 532.1 L173.7 531.6 L174.0 531.0 L174.2 530.3 L174.5 529.5 L174.7 528.6 L175.0 527.7 L175.2 526.7 L175.5 525.6 L175.7 524.4 L176.0 523.2 L176.2 521.9 L176.5 520.5 L176.8 519.0 L177.0 517.5 L177.3 515.9 L177.5 514.3 L177.8 512.5 L178.0 510.8 L178.3 508.9 L178.5 507.1 L178.8 505.1 L179.0 503.1 L179.3 501.1 L179.5 499.1 L179.8 497.0 L180.0 494.8 L180.3 492.7 L180.5 490.5 L180.8 488.3 L181.0 486.0 L181.3 483.8 L181.5 481.5 L181.8 479.3 L182.0 477.0 L182.3 474.7 L182.5 472.5 L182.8 470.2 L183.0 468.0 L183.3 465.7 L183.5 463.5 L183.8 461.3 L184.0 459.2 L184.3 457.0 L184.5 454.9 L184.8 452.9 L185.0 450.9 L185.3 448.9 L185.5 446.9 L185.8 445.1 L186.0 443.2 L186.3 441.5 L186.6 439.7 L186.8 438.1 L187.1 436.5 L187.3 435.0 L187.6 433.5 L187.8 432.1 L188.1 430.8 L188.3 429.6 L188.6 428.4 L188.8 427.3 L189.1 426.3 L189.3 425.4 L189.6 424.5 L189.8 423.7 L190.1 423.0 L190.3 422.4 L190.6 421.9 L190.8 422.3 L191.1 422.8 L191.3 423.3 L191.6 423.9 L191.8 424.5 L192.1 425.2 L192.3 425.9 L192.6 426.7 L192.8 427.5 L193.1 428.4 L193.3 429.4 L193.6 430.3 L193.8 431.4 L194.1 432.4 L194.3 433.6 L194.6 434.7 L194.8 436.0 L195.1 437.2 L195.3 438.5 L195.6 439.9 L195.8 441.2 L196.1 442.7 L196.3 444.1 L196.6 445.6 L196.9 447.1 L197.1 448.7 L197.4 450.2 L197.6 451.9 L197.9 453.5 L198.1 455.1 L198.4 456.8 L198.6 458.5 L198.9 460.3 L199.1 462.0 L199.4 463.8 L199.6 465.5 L199.9 467.3 L200.1 469.1 L200.4 470.9 L200.6 472.7 L200.9 474.5 L201.1 476.3 L201.4 478.1 L201.6 479.9 L201.9 481.7 L202.1 483.5 L202.4 485.3 L202.6 487.0 L202.9 488.8 L203.1 490.5 L203.4 492.3 L203.6 494.0 L203.9 495.7 L204.1 497.3 L204.4 499.0 L204.6 500.6 L204.9 502.2 L205.1 503.7 L205.4 505.3 L205.6 506.8 L205.9 508.2 L206.1 509.6 L206.4 511.0 L206.6 512.4 L206.9 513.7 L207.2 514.9 L207.4 516.2 L207.7 517.3 L207.9 518.5 L208.2 519.6 L208.4 520.6 L208.7 521.6 L208.9 522.5 L209.2 523.4 L209.4 524.3 L209.7 525.1 L209.9 525.8 L210.2 526.5 L210.4 527.2 L210.7 527.7 L210.9 528.3 L211.2 528.7 L211.4 529.2 L211.7 528.8 L211.9 528.2 L212.2 527.5 L212.4 526.7 L212.7 525.9 L212.9 524.9 L213.2 523.8 L213.4 522.7 L213.7 521.5 L213.9 520.2 L214.2 518.8 L214.4 517.4 L214.7 515.9 L214.9 514.3 L215.2 512.6 L215.4 510.9 L215.7 509.1 L215.9 507.3 L216.2 505.4 L216.4 503.4 L216.7 501.4 L217.0 499.3 L217.2 497.2 L217.5 495.1 L217.7 492.9 L218.0 490.7 L218.2 488.4 L218.5 486.2 L218.7 483.9 L219.0 481.6 L219.2 479.3 L219.5 477.0 L219.7 474.6 L220.0 472.3 L220.2 470.0 L220.5 467.7 L220.7 465.4 L221.0 463.2 L221.2 460.9 L221.5 458.7 L221.7 456.5 L222.0 454.4 L222.2 452.3 L222.5 450.2 L222.7 448.2 L223.0 446.2 L223.2 444.3 L223.5 442.4 L223.7 440.6 L224.0 438.9 L224.2 437.2 L224.5 435.6 L224.7 434.0 L225.0 432.6 L225.2 431.2 L225.5 429.9 L225.7 428.7 L226.0 427.5 L226.2 426.5 L226.5 425.5 L226.7 424.6 L227.0 423.8 L227.3 423.1 L227.5 422.4 L227.8 421.9 L228.0 422.4 L228.3 422.9 L228.5 423.5 L228.8 424.1 L229.0 424.9 L229.3 425.6 L229.5 426.5 L229.8 427.4 L230.0 428.4 L230.3 429.4 L230.5 430.5 L230.8 431.7 L231.0 432.9 L231.3 434.2 L231.5 435.5 L231.8 436.9 L232.0 438.4 L232.3 439.8 L232.5 441.4 L232.8 443.0 L233.0 444.6 L233.3 446.2 L233.5 448.0 L233.8 449.7 L234.0 451.5 L234.3 453.3 L234.5 455.1 L234.8 457.0 L235.0 458.9 L235.3 460.8 L235.5 462.7 L235.8 464.7 L236.0 466.6 L236.3 468.6 L236.5 470.6 L236.8 472.6 L237.1 474.5 L237.3 476.5 L237.6 478.5 L237.8 480.5 L238.1 482.5 L238.3 484.4 L238.6 486.4 L238.8 488.3 L239.1 490.2 L239.3 492.1 L239.6 493.9 L239.8 495.7 L240.1 497.5 L240.3 499.3 L240.6 501.0 L240.8 502.7 L241.1 504.4 L241.3 506.0 L241.6 507.5 L241.8 509.1 L242.1 510.5 L242.3 511.9 L242.6 513.3 L242.8 514.6 L243.1 515.9 L243.3 517.1 L243.6 518.2 L243.8 519.3 L244.1 520.3 L244.3 521.3 L244.6 522.1 L244.8 523.0 L245.1 523.7 L245.3 524.4 L245.6 525.1 L245.8 525.6 L246.1 526.1 L246.3 526.2 L246.6 525.7 L246.8 525.1 L247.1 524.4 L247.4 523.7 L247.6 522.8 L247.9 521.9 L248.1 521.0 L248.4 519.9 L248.6 518.8 L248.9 517.6 L249.1 516.4 L249.4 515.0 L249.6 513.7 L249.9 512.2 L250.1 510.7 L250.4 509.1 L250.6 507.5 L250.9 505.8 L251.1 504.1 L251.4 502.4 L251.6 500.5 L251.9 498.7 L252.1 496.8 L252.4 494.8 L252.6 492.9 L252.9 490.9 L253.1 488.8 L253.4 486.8 L253.6 484.7 L253.9 482.6 L254.1 480.5 L254.4 478.4 L254.6 476.3 L254.9 474.2 L255.1 472.0 L255.4 469.9 L255.6 467.8 L255.9 465.7 L256.1 463.6 L256.4 461.5 L256.6 459.5 L256.9 457.4 L257.2 455.4 L257.4 453.5 L257.7 451.5 L257.9 449.6 L258.2 447.8 L258.4 445.9 L258.7 444.2 L258.9 442.5 L259.2 440.8 L259.4 439.2 L259.7 437.6 L259.9 436.1 L260.2 434.6 L260.4 433.3 L260.7 431.9 L260.9 430.7 L261.2 429.5 L261.4 428.4 L261.7 427.3 L261.9 426.4 L262.2 425.5 L262.4 424.6 L262.7 423.9 L262.9 423.2 L263.2 422.6 L263.4 422.1 L263.7 422.2 L263.9 422.7 L264.2 423.3 L264.4 423.9 L264.7 424.7 L264.9 425.5 L265.2 426.3 L265.4 427.2 L265.7 428.2 L265.9 429.3 L266.2 430.4 L266.4 431.6 L266.7 432.8 L266.9 434.1 L267.2 435.5 L267.5 436.9 L267.7 438.4 L268.0 439.9 L268.2 441.5 L268.5 443.1 L268.7 444.7 L269.0 446.5 L269.2 448.2 L269.5 450.0 L269.7 451.8 L270.0 453.7 L270.2 455.6 L270.5 457.5 L270.7 459.5 L271.0 461.5 L271.2 463.5 L271.5 465.5 L271.7 467.5 L272.0 469.6 L272.2 471.6 L272.5 473.7 L272.7 475.8 L273.0 477.8 L273.2 479.9 L273.5 482.0 L273.7 484.0 L274.0 486.1 L274.2 488.1 L274.5 490.1 L274.7 492.1 L275.0 494.1 L275.2 496.1 L275.5 498.0 L275.7 499.9 L276.0 501.8 L276.2 503.6 L276.5 505.4 L276.7 507.2 L277.0 508.9 L277.3 510.6 L277.5 512.2 L277.8 513.8 L278.0 515.3 L278.3 516.8 L278.5 518.2 L278.8 519.6 L279.0 520.9 L279.3 522.2 L279.5 523.4 L279.8 524.5 L280.0 525.6 L280.3 526.6 L280.5 527.5 L280.8 528.4 L281.0 529.2 L281.3 529.9 L281.5 530.6 L281.8 531.2 L282.0 531.7 L282.3 532.0 L282.5 531.5 L282.8 531.0 L283.0 530.4 L283.3 529.7 L283.5 528.9 L283.8 528.1 L284.0 527.3 L284.3 526.3 L284.5 525.3 L284.8 524.3 L285.0 523.1 L285.3 522.0 L285.5 520.7 L285.8 519.4 L286.0 518.1 L286.3 516.7 L286.5 515.3 L286.8 513.8 L287.0 512.2 L287.3 510.6 L287.6 509.0 L287.8 507.3 L288.1 505.6 L288.3 503.8 L288.6 502.0 L288.8 500.2 L289.1 498.3 L289.3 496.4 L289.6 494.5 L289.8 492.6 L290.1 490.6 L290.3 488.6 L290.6 486.6 L290.8 484.6 L291.1 482.6 L291.3 480.5 L291.6 478.5 L291.8 476.5 L292.1 474.4 L292.3 472.4 L292.6 470.3 L292.8 468.3 L293.1 466.3 L293.3 464.3 L293.6 462.3 L293.8 460.3 L294.1 458.4 L294.3 456.4 L294.6 454.5 L294.8 452.7 L295.1 450.8 L295.3 449.0 L295.6 447.2 L295.8 445.5 L296.1 443.8 L296.3 442.1 L296.6 440.5 L296.8 439.0 L297.1 437.4 L297.4 436.0 L297.6 434.6 L297.9 433.2 L298.1 431.9 L298.4 430.6 L298.6 429.4 L298.9 428.3 L299.1 427.2 L299.4 426.2 L299.6 425.2 L299.9 424.3 L300.1 423.5 L300.4 422.7 L300.6 422.0 L300.9 421.4 L301.1 420.8 L301.4 420.3 L301.6 420.2 L301.9 420.8 L302.1 421.4 L302.4 422.1 L302.6 422.9 L302.9 423.8 L303.1 424.8 L303.4 425.8 L303.6 426.9 L303.9 428.1 L304.1 429.3 L304.4 430.7 L304.6 432.1 L304.9 433.5 L305.1 435.1 L305.4 436.7 L305.6 438.3 L305.9 440.1 L306.1 441.8 L306.4 443.7 L306.6 445.6 L306.9 447.5 L307.1 449.5 L307.4 451.5 L307.7 453.6 L307.9 455.7 L308.2 457.8 L308.4 459.9 L308.7 462.1 L308.9 464.3 L309.2 466.6 L309.4 468.8 L309.7 471.1 L309.9 473.3 L310.2 475.6 L310.4 477.9 L310.7 480.2 L310.9 482.4 L311.2 484.7 L311.4 486.9 L311.7 489.1 L311.9 491.4 L312.2 493.5 L312.4 495.7 L312.7 497.8 L312.9 499.9 L313.2 502.0 L313.4 504.0 L313.7 505.9 L313.9 507.9 L314.2 509.7 L314.4 511.6 L314.7 513.3 L314.9 515.0 L315.2 516.7 L315.4 518.3 L315.7 519.8 L315.9 521.3 L316.2 522.6 L316.4 524.0 L316.7 525.2 L316.9 526.4 L317.2 527.5 L317.5 528.5 L317.7 529.4 L318.0 530.3 L318.2 531.1 L318.5 531.8 L318.7 532.4 L319.0 533.0 L319.2 532.7 L319.5 532.2 L319.7 531.7 L320.0 531.1 L320.2 530.4 L320.5 529.7 L320.7 528.9 L321.0 528.1 L321.2 527.2 L321.5 526.3 L321.7 525.3 L322.0 524.2 L322.2 523.1 L322.5 522.0 L322.7 520.8 L323.0 519.5 L323.2 518.2 L323.5 516.9 L323.7 515.5 L324.0 514.0 L324.2 512.6 L324.5 511.0 L324.7 509.5 L325.0 507.9 L325.2 506.3 L325.5 504.6 L325.7 502.9 L326.0 501.2 L326.2 499.4 L326.5 497.7 L326.7 495.9 L327.0 494.0 L327.2 492.2 L327.5 490.3 L327.8 488.5 L328.0 486.6 L328.3 484.7 L328.5 482.8 L328.8 480.8 L329.0 478.9 L329.3 477.0 L329.5 475.1 L329.8 473.2 L330.0 471.2 L330.3 469.3 L330.5 467.4 L330.8 465.5 L331.0 463.7 L331.3 461.8 L331.5 460.0 L331.8 458.1 L332.0 456.3 L332.3 454.6 L332.5 452.8 L332.8 451.1 L333.0 449.4 L333.3 447.7 L333.5 446.1 L333.8 444.5 L334.0 443.0 L334.3 441.4 L334.5 440.0 L334.8 438.5 L335.0 437.1 L335.3 435.8 L335.5 434.5 L335.8 433.2 L336.0 432.0 L336.3 430.9 L336.5 429.8 L336.8 428.7 L337.0 427.7 L337.3 426.8 L337.6 425.9 L337.8 425.1 L338.1 424.3 L338.3 423.6 L338.6 422.9 L338.8 422.3 L339.1 421.8 L339.3 421.3 L339.6 421.1 L339.8 421.6 L340.1 422.3 L340.3 423.0 L340.6 423.8 L340.8 424.7 L341.1 425.7 L341.3 426.7 L341.6 427.9 L341.8 429.1 L342.1 430.4 L342.3 431.8 L342.6 433.2 L342.8 434.7 L343.1 436.3 L343.3 437.9 L343.6 439.6 L343.8 441.4 L344.1 443.2 L344.3 445.1 L344.6 447.1 L344.8 449.1 L345.1 451.1 L345.3 453.2 L345.6 455.3 L345.8 457.5 L346.1 459.7 L346.3 462.0 L346.6 464.2 L346.8 466.5 L347.1 468.8 L347.4 471.1 L347.6 473.5 L347.9 475.8 L348.1 478.2 L348.4 480.6 L348.6 482.9 L348.9 485.3 L349.1 487.6 L349.4 489.9 L349.6 492.3 L349.9 494.5 L350.1 496.8 L350.4 499.1 L350.6 501.3 L350.9 503.4 L351.1 505.6 L351.4 507.7 L351.6 509.7 L351.9 511.7 L352.1 513.7 L352.4 515.6 L352.6 517.4 L352.9 519.2 L353.1 521.0 L353.4 522.6 L353.6 524.2 L353.9 525.7 L354.1 527.2 L354.4 528.6 L354.6 529.9 L354.9 531.1 L355.1 532.3 L355.4 533.3 L355.6 534.3 L355.9 535.2 L356.1 536.1 L356.4 536.8 L356.6 537.5 L356.9 538.1 L357.1 538.0 L357.4 537.5 L357.7 536.9 L357.9 536.2 L358.2 535.5 L358.4 534.7 L358.7 533.8 L358.9 532.9 L359.2 531.9 L359.4 530.9 L359.7 529.7 L359.9 528.6 L360.2 527.3 L360.4 526.0 L360.7 524.7 L360.9 523.3 L361.2 521.8 L361.4 520.3 L361.7 518.7 L361.9 517.1 L362.2 515.5 L362.4 513.8 L362.7 512.0 L362.9 510.2 L363.2 508.4 L363.4 506.5 L363.7 504.6 L363.9 502.7 L364.2 500.7 L364.4 498.7 L364.7 496.7 L364.9 494.7 L365.2 492.6 L365.4 490.6 L365.7 488.5 L365.9 486.4 L366.2 484.3 L366.4 482.2 L366.7 480.0 L366.9 477.9 L367.2 475.8 L367.5 473.7 L367.7 471.6 L368.0 469.5 L368.2 467.4 L368.5 465.4 L368.7 463.3 L369.0 461.3 L369.2 459.3 L369.5 457.3 L369.7 455.4 L370.0 453.5 L370.2 451.6 L370.5 449.7 L370.7 447.9 L371.0 446.2 L371.2 444.4 L371.5 442.8 L371.7 441.1 L372.0 439.5 L372.2 438.0 L372.5 436.5 L372.7 435.1 L373.0 433.7 L373.2 432.4 L373.5 431.1 L373.7 429.9 L374.0 428.8 L374.2 427.7 L374.5 426.7 L374.7 425.8 L375.0 424.9 L375.2 424.1 L375.5 423.3 L375.7 422.6 L376.0 422.0 L376.2 421.4 L376.5 421.0 L376.7 421.5 L377.0 422.1 L377.2 422.8 L377.5 423.6 L377.8 424.5 L378.0 425.5 L378.3 426.5 L378.5 427.6 L378.8 428.8 L379.0 430.1 L379.3 431.4 L379.5 432.8 L379.8 434.3 L380.0 435.9 L380.3 437.5 L380.5 439.2 L380.8 441.0 L381.0 442.8 L381.3 444.7 L381.5 446.6 L381.8 448.6 L382.0 450.6 L382.3 452.7 L382.5 454.8 L382.8 456.9 L383.0 459.1 L383.3 461.3 L383.5 463.6 L383.8 465.9 L384.0 468.2 L384.3 470.5 L384.5 472.8 L384.8 475.1 L385.0 477.5 L385.3 479.8 L385.5 482.2 L385.8 484.5 L386.0 486.9 L386.3 489.2 L386.5 491.5 L386.8 493.8 L387.0 496.1 L387.3 498.3 L387.6 500.5 L387.8 502.7 L388.1 504.8 L388.3 506.9 L388.6 509.0 L388.8 511.0 L389.1 512.9 L389.3 514.8 L389.6 516.7 L389.8 518.5 L390.1 520.2 L390.3 521.9 L390.6 523.5 L390.8 525.0 L391.1 526.5 L391.3 527.9 L391.6 529.2 L391.8 530.4 L392.1 531.6 L392.3 532.7 L392.6 533.7 L392.8 534.6 L393.1 535.4 L393.3 536.2 L393.6 536.9 L393.8 537.5 L394.1 537.6 L394.3 537.1 L394.6 536.6 L394.8 536.0 L395.1 535.3 L395.3 534.6 L395.6 533.8 L395.8 532.9 L396.1 532.0 L396.3 531.1 L396.6 530.1 L396.8 529.0 L397.1 527.8 L397.3 526.7 L397.6 525.4 L397.9 524.1 L398.1 522.8 L398.4 521.4 L398.6 519.9 L398.9 518.4 L399.1 516.9 L399.4 515.3 L399.6 513.7 L399.9 512.1 L400.1 510.4 L400.4 508.6 L400.6 506.9 L400.9 505.1 L401.1 503.3 L401.4 501.4 L401.6 499.5 L401.9 497.6 L402.1 495.7 L402.4 493.8 L402.6 491.8 L402.9 489.8 L403.1 487.9 L403.4 485.9 L403.6 483.9 L403.9 481.9 L404.1 479.9 L404.4 477.8 L404.6 475.8 L404.9 473.8 L405.1 471.8 L405.4 469.9 L405.6 467.9 L405.9 465.9 L406.1 464.0 L406.4 462.1 L406.6 460.2 L406.9 458.3 L407.1 456.4 L407.4 454.6 L407.7 452.8 L407.9 451.1 L408.2 449.3 L408.4 447.6 L408.7 446.0 L408.9 444.4 L409.2 442.8 L409.4 441.3 L409.7 439.8 L409.9 438.3 L410.2 436.9 L410.4 435.6 L410.7 434.3 L410.9 433.0 L411.2 431.9 L411.4 430.7 L411.7 429.6 L411.9 428.6 L412.2 427.7 L412.4 426.8 L412.7 425.9 L412.9 425.1 L413.2 424.4 L413.4 423.7 L413.7 423.1 L413.9 422.6 L414.2 422.1 L414.4 422.2 L414.7 422.8 L414.9 423.5 L415.2 424.3 L415.4 425.2 L415.7 426.1 L415.9 427.2 L416.2 428.3 L416.4 429.5 L416.7 430.8 L416.9 432.2 L417.2 433.6 L417.4 435.2 L417.7 436.8 L418.0 438.4 L418.2 440.2 L418.5 442.0 L418.7 443.9 L419.0 445.8 L419.2 447.8 L419.5 449.8 L419.7 451.9 L420.0 454.0 L420.2 456.2 L420.5 458.4 L420.7 460.7 L421.0 462.9 L421.2 465.2 L421.5 467.6 L421.7 469.9 L422.0 472.3 L422.2 474.6 L422.5 477.0 L422.7 479.4 L423.0 481.7 L423.2 484.1 L423.5 486.4 L423.7 488.8 L424.0 491.1 L424.2 493.4 L424.5 495.6 L424.7 497.9 L425.0 500.1 L425.2 502.2 L425.5 504.3 L425.7 506.4 L426.0 508.4 L426.2 510.3 L426.5 512.2 L426.7 514.0 L427.0 515.8 L427.2 517.5 L427.5 519.1 L427.8 520.7 L428.0 522.2 L428.3 523.6 L428.5 524.9 L428.8 526.2 L429.0 527.3 L429.3 528.4 L429.5 529.4 L429.8 530.3 L430.0 531.1 L430.3 531.9 L430.5 532.5 L430.8 533.0 L431.0 532.6 L431.3 532.2 L431.5 531.6 L431.8 531.0 L432.0 530.4 L432.3 529.7 L432.5 529.0 L432.8 528.2 L433.0 527.3 L433.3 526.4 L433.5 525.5 L433.8 524.5 L434.0 523.4 L434.3 522.3 L434.5 521.2 L434.8 520.0 L435.0 518.7 L435.3 517.5 L435.5 516.1 L435.8 514.8 L436.0 513.4 L436.3 511.9 L436.5 510.4 L436.8 508.9 L437.0 507.4 L437.3 505.8 L437.5 504.2 L437.8 502.6 L438.1 500.9 L438.3 499.2 L438.6 497.5 L438.8 495.8 L439.1 494.0 L439.3 492.3 L439.6 490.5 L439.8 488.7 L440.1 486.9 L440.3 485.1 L440.6 483.3 L440.8 481.4 L441.1 479.6 L441.3 477.8 L441.6 476.0 L441.8 474.2 L442.1 472.4 L442.3 470.6 L442.6 468.8 L442.8 467.0 L443.1 465.3 L443.3 463.5 L443.6 461.8 L443.8 460.1 L444.1 458.4 L444.3 456.8 L444.6 455.1 L444.8 453.5 L445.1 452.0 L445.3 450.4 L445.6 448.9 L445.8 447.5 L446.1 446.1 L446.3 444.7 L446.6 443.3 L446.8 442.0 L447.1 440.7 L447.3 439.5 L447.6 438.3 L447.9 437.2 L448.1 436.1 L448.4 435.1 L448.6 434.1 L448.9 433.2 L449.1 432.3 L449.4 431.5 L449.6 430.7 L449.9 430.0 L450.1 429.3 L450.4 428.7 L450.6 428.1 L450.9 427.6 L451.1 427.2 L451.4 427.1 L451.6 427.7 L451.9 428.3 L452.1 429.0 L452.4 429.7 L452.6 430.6 L452.9 431.5 L453.1 432.5 L453.4 433.5 L453.6 434.7 L453.9 435.9 L454.1 437.1 L454.4 438.5 L454.6 439.9 L454.9 441.3 L455.1 442.9 L455.4 444.5 L455.6 446.1 L455.9 447.8 L456.1 449.6 L456.4 451.4 L456.6 453.2 L456.9 455.1 L457.1 457.0 L457.4 459.0 L457.6 461.0 L457.9 463.0 L458.2 465.1 L458.4 467.2 L458.7 469.3 L458.9 471.4 L459.2 473.5 L459.4 475.7 L459.7 477.8 L459.9 480.0 L460.2 482.2 L460.4 484.3 L460.7 486.5 L460.9 488.6 L461.2 490.7 L461.4 492.8 L461.7 494.9 L461.9 497.0 L462.2 499.0 L462.4 501.0 L462.7 503.0 L462.9 504.9 L463.2 506.8 L463.4 508.6 L463.7 510.4 L463.9 512.2 L464.2 513.9 L464.4 515.5 L464.7 517.1 L464.9 518.6 L465.2 520.1 L465.4 521.5 L465.7 522.9 L465.9 524.1 L466.2 525.3 L466.4 526.5 L466.7 527.5 L466.9 528.5 L467.2 529.4 L467.4 530.3 L467.7 531.0 L468.0 531.7 L468.2 532.3 L468.5 532.9 L468.7 532.8 L469.0 532.3 L469.2 531.7 L469.5 531.0 L469.7 530.3 L470.0 529.5 L470.2 528.6 L470.5 527.7 L470.7 526.7 L471.0 525.7 L471.2 524.6 L471.5 523.4 L471.7 522.1 L472.0 520.8 L472.2 519.5 L472.5 518.1 L472.7 516.6 L473.0 515.1 L473.2 513.5 L473.5 511.9 L473.7 510.2 L474.0 508.5 L474.2 506.8 L474.5 505.0 L474.7 503.1 L475.0 501.3 L475.2 499.4 L475.5 497.5 L475.7 495.5 L476.0 493.5 L476.2 491.6 L476.5 489.5 L476.7 487.5 L477.0 485.5 L477.2 483.4 L477.5 481.4 L477.7 479.3 L478.0 477.3" stroke="#0000FF" stroke-width="2.70" stroke-dasharray="10 9"/>
<path d="M76.0 478.2 L76.3 476.5 L76.5 474.7 L76.8 473.0 L77.0 471.2 L77.3 469.5 L77.5 467.8 L77.8 466.1 L78.0 464.4 L78.3 462.7 L78.5 461.1 L78.8 459.4 L79.0 457.8 L79.3 456.3 L79.5 454.7 L79.8 453.2 L80.0 451.7 L80.3 450.2 L80.5 448.8 L80.8 447.4 L81.0 446.0 L81.3 444.7 L81.5 443.4 L81.8 442.1 L82.0 440.9 L82.3 439.7 L82.5 438.6 L82.8 437.5 L83.0 436.4 L83.3 435.4 L83.5 434.4 L83.8 433.5 L84.0 432.6 L84.3 431.8 L84.5 431.0 L84.8 430.2 L85.0 429.5 L85.3 430.3 L85.5 431.2 L85.8 432.2 L86.1 433.2 L86.3 434.2 L86.6 435.3 L86.8 436.5 L87.1 437.7 L87.3 439.0 L87.6 440.3 L87.8 441.7 L88.1 443.1 L88.3 444.6 L88.6 446.1 L88.8 447.6 L89.1 449.2 L89.3 450.9 L89.6 452.6 L89.8 454.3 L90.1 456.1 L90.3 457.9 L90.6 459.7 L90.8 461.6 L91.1 463.5 L91.3 465.4 L91.6 467.4 L91.8 469.3 L92.1 471.3 L92.3 473.3 L92.6 475.4 L92.8 477.4 L93.1 479.4 L93.3 481.5 L93.6 483.5 L93.8 485.6 L94.1 487.7 L94.3 489.7 L94.6 491.8 L94.8 493.8 L95.1 495.9 L95.3 497.9 L95.6 499.9 L95.8 501.9 L96.1 503.9 L96.4 505.9 L96.6 507.8 L96.9 509.7 L97.1 511.6 L97.4 513.4 L97.6 515.2 L97.9 517.0 L98.1 518.8 L98.4 520.5 L98.6 522.1 L98.9 523.8 L99.1 525.4 L99.4 526.9 L99.6 528.4 L99.9 529.8 L100.1 531.2 L100.4 532.6 L100.6 533.8 L100.9 535.1 L101.1 536.3 L101.4 537.4 L101.6 538.5 L101.9 539.5 L102.1 540.5 L102.4 541.4 L102.6 542.2 L102.9 542.1 L103.1 541.2 L103.4 540.2 L103.6 539.3 L103.9 538.2 L104.1 537.1 L104.4 535.9 L104.6 534.7 L104.9 533.5 L105.1 532.1 L105.4 530.8 L105.6 529.3 L105.9 527.9 L106.2 526.3 L106.4 524.8 L106.7 523.2 L106.9 521.5 L107.2 519.8 L107.4 518.1 L107.7 516.3 L107.9 514.5 L108.2 512.6 L108.4 510.7 L108.7 508.8 L108.9 506.9 L109.2 504.9 L109.4 502.9 L109.7 500.9 L109.9 498.9 L110.2 496.8 L110.4 494.8 L110.7 492.7 L110.9 490.6 L111.2 488.5 L111.4 486.4 L111.7 484.4 L111.9 482.3 L112.2 480.2 L112.4 478.1 L112.7 476.1 L112.9 474.0 L113.2 472.0 L113.4 469.9 L113.7 467.9 L113.9 466.0 L114.2 464.0 L114.4 462.1 L114.7 460.2 L114.9 458.3 L115.2 456.5 L115.4 454.7 L115.7 452.9 L115.9 451.2 L116.2 449.5 L116.5 447.9 L116.7 446.3 L117.0 444.8 L117.2 443.3 L117.5 441.8 L117.7 440.5 L118.0 439.1 L118.2 437.8 L118.5 436.6 L118.7 435.4 L119.0 434.3 L119.2 433.2 L119.5 432.2 L119.7 431.2 L120.0 430.3 L120.2 429.5 L120.5 430.2 L120.7 430.8 L121.0 431.6 L121.2 432.3 L121.5 433.1 L121.7 434.0 L122.0 434.8 L122.2 435.7 L122.5 436.7 L122.7 437.7 L123.0 438.7 L123.2 439.7 L123.5 440.8 L123.7 441.9 L124.0 443.0 L124.2 444.2 L124.5 445.4 L124.7 446.7 L125.0 447.9 L125.2 449.2 L125.5 450.5 L125.7 451.9 L126.0 453.2 L126.3 454.6 L126.5 456.0 L126.8 457.5 L127.0 458.9 L127.3 460.4 L127.5 461.9 L127.8 463.4 L128.0 465.0 L128.3 466.5 L128.5 468.1 L128.8 469.7 L129.0 471.3 L129.3 472.9 L129.5 474.5 L129.8 476.1 L130.0 477.7 L130.3 479.3 L130.5 480.9 L130.8 482.6 L131.0 484.2 L131.3 485.8 L131.5 487.5 L131.8 489.1 L132.0 490.7 L132.3 492.3 L132.5 494.0 L132.8 495.6 L133.0 497.2 L133.3 498.7 L133.5 500.3 L133.8 501.9 L134.0 503.4 L134.3 504.9 L134.5 506.4 L134.8 507.9 L135.0 509.4 L135.3 510.9 L135.5 512.3 L135.8 513.7 L136.0 515.1 L136.3 516.4 L136.6 517.8 L136.8 519.1 L137.1 520.4 L137.3 521.6 L137.6 522.8 L137.8 524.0 L138.1 525.2 L138.3 526.3 L138.6 527.4 L138.8 528.5 L139.1 529.5 L139.3 530.5 L139.6 531.5 L139.8 532.4 L140.1 533.3 L140.3 534.1 L140.6 535.0 L140.8 535.8 L141.1 536.5 L141.3 537.2 L141.6 537.9 L141.8 537.9 L142.1 537.0 L142.3 536.0 L142.6 534.9 L142.8 533.8 L143.1 532.6 L143.3 531.3 L143.6 530.0 L143.8 528.6 L144.1 527.1 L144.3 525.6 L144.6 524.0 L144.8 522.3 L145.1 520.6 L145.3 518.9 L145.6 517.1 L145.8 515.2 L146.1 513.3 L146.4 511.4 L146.6 509.4 L146.9 507.4 L147.1 505.3 L147.4 503.2 L147.6 501.1 L147.9 498.9 L148.1 496.8 L148.4 494.6 L148.6 492.4 L148.9 490.1 L149.1 487.9 L149.4 485.7 L149.6 483.4 L149.9 481.2 L150.1 479.0 L150.4 476.7 L150.6 474.5 L150.9 472.3 L151.1 470.1 L151.4 468.0 L151.6 465.8 L151.9 463.7 L152.1 461.6 L152.4 459.6 L152.6 457.6 L152.9 455.6 L153.1 453.7 L153.4 451.8 L153.6 450.0 L153.9 448.2 L154.1 446.5 L154.4 444.8 L154.6 443.2 L154.9 441.6 L155.1 440.1 L155.4 438.6 L155.6 437.3 L155.9 436.0 L156.1 434.7 L156.4 433.5 L156.7 432.4 L156.9 431.4 L157.2 430.4 L157.4 429.5 L157.7 430.1 L157.9 430.8 L158.2 431.4 L158.4 432.2 L158.7 432.9 L158.9 433.7 L159.2 434.5 L159.4 435.4 L159.7 436.3 L159.9 437.3 L160.2 438.2 L160.4 439.2 L160.7 440.3 L160.9 441.4 L161.2 442.5 L161.4 443.6 L161.7 444.8 L161.9 446.0 L162.2 447.2 L162.4 448.5 L162.7 449.7 L162.9 451.0 L163.2 452.4 L163.4 453.7 L163.7 455.1 L163.9 456.5 L164.2 457.9 L164.4 459.3 L164.7 460.7 L164.9 462.2 L165.2 463.7 L165.4 465.1 L165.7 466.6 L165.9 468.1 L166.2 469.6 L166.5 471.1 L166.7 472.6 L167.0 474.1 L167.2 475.7 L167.5 477.2 L167.7 478.7 L168.0 480.2 L168.2 481.7 L168.5 483.2 L168.7 484.6 L169.0 486.1 L169.2 487.6 L169.5 489.0 L169.7 490.4 L170.0 491.8 L170.2 493.2 L170.5 494.6 L170.7 495.9 L171.0 497.3 L171.2 498.6 L171.5 499.8 L171.7 501.1 L172.0 502.3 L172.2 503.5 L172.5 504.7 L172.7 505.8 L173.0 506.9 L173.2 508.0 L173.5 509.1 L173.7 510.1 L174.0 511.0 L174.2 512.0 L174.5 512.9 L174.7 513.8 L175.0 514.6 L175.2 515.4 L175.5 516.1 L175.7 516.9 L176.0 517.5 L176.2 518.2 L176.5 518.8 L176.8 518.1 L177.0 517.4 L177.3 516.6 L177.5 515.8 L177.8 514.9 L178.0 514.0 L178.3 513.0 L178.5 512.0 L178.8 511.0 L179.0 509.9 L179.3 508.8 L179.5 507.6 L179.8 506.4 L180.0 505.1 L180.3 503.8 L180.5 502.5 L180.8 501.1 L181.0 499.7 L181.3 498.3 L181.5 496.8 L181.8 495.3 L182.0 493.8 L182.3 492.2 L182.5 490.7 L182.8 489.1 L183.0 487.5 L183.3 485.8 L183.5 484.2 L183.8 482.5 L184.0 480.9 L184.3 479.2 L184.5 477.5 L184.8 475.8 L185.0 474.1 L185.3 472.5 L185.5 470.8 L185.8 469.1 L186.0 467.4 L186.3 465.8 L186.6 464.1 L186.8 462.5 L187.1 460.8 L187.3 459.2 L187.6 457.6 L187.8 456.1 L188.1 454.5 L188.3 453.0 L188.6 451.5 L188.8 450.0 L189.1 448.6 L189.3 447.2 L189.6 445.8 L189.8 444.5 L190.1 443.2 L190.3 441.9 L190.6 440.7 L190.8 439.5 L191.1 438.4 L191.3 437.3 L191.6 436.3 L191.8 435.3 L192.1 434.3 L192.3 433.4 L192.6 432.5 L192.8 431.7 L193.1 430.9 L193.3 430.2 L193.6 429.5 L193.8 430.1 L194.1 430.7 L194.3 431.4 L194.6 432.1 L194.8 432.8 L195.1 433.6 L195.3 434.4 L195.6 435.2 L195.8 436.0 L196.1 436.9 L196.3 437.8 L196.6 438.8 L196.9 439.8 L197.1 440.8 L197.4 441.8 L197.6 442.8 L197.9 443.9 L198.1 445.0 L198.4 446.2 L198.6 447.3 L198.9 448.5 L199.1 449.7 L199.4 450.9 L199.6 452.2 L199.9 453.5 L200.1 454.8 L200.4 456.1 L200.6 457.4 L200.9 458.8 L201.1 460.1 L201.4 461.5 L201.6 462.9 L201.9 464.3 L202.1 465.7 L202.4 467.2 L202.6 468.6 L202.9 470.1 L203.1 471.6 L203.4 473.0 L203.6 474.5 L203.9 476.0 L204.1 477.5 L204.4 479.0 L204.6 480.5 L204.9 482.0 L205.1 483.5 L205.4 485.0 L205.6 486.6 L205.9 488.1 L206.1 489.5 L206.4 491.0 L206.6 492.5 L206.9 494.0 L207.2 495.5 L207.4 496.9 L207.7 498.4 L207.9 499.8 L208.2 501.3 L208.4 502.7 L208.7 504.1 L208.9 505.5 L209.2 506.9 L209.4 508.2 L209.7 509.5 L209.9 510.9 L210.2 512.2 L210.4 513.4 L210.7 514.7 L210.9 515.9 L211.2 517.1 L211.4 518.3 L211.7 519.5 L211.9 520.6 L212.2 521.7 L212.4 522.8 L212.7 523.9 L212.9 524.9 L213.2 525.9 L213.4 526.9 L213.7 527.8 L213.9 528.8 L214.2 529.7 L214.4 530.5 L214.7 531.3 L214.9 532.1 L215.2 532.9 L215.4 533.6 L215.7 534.3 L215.9 535.0 L216.2 535.6 L216.4 536.3 L216.7 535.5 L217.0 534.4 L217.2 533.1 L217.5 531.7 L217.7 530.3 L218.0 528.8 L218.2 527.1 L218.5 525.4 L218.7 523.6 L219.0 521.7 L219.2 519.7 L219.5 517.7 L219.7 515.6 L220.0 513.4 L220.2 511.1 L220.5 508.8 L220.7 506.4 L221.0 504.0 L221.2 501.5 L221.5 499.0 L221.7 496.4 L222.0 493.8 L222.2 491.2 L222.5 488.6 L222.7 485.9 L223.0 483.3 L223.2 480.6 L223.5 477.9 L223.7 475.3 L224.0 472.6 L224.2 470.0 L224.5 467.4 L224.7 464.9 L225.0 462.3 L225.2 459.8 L225.5 457.4 L225.7 455.0 L226.0 452.7 L226.2 450.4 L226.5 448.2 L226.7 446.1 L227.0 444.0 L227.3 442.0 L227.5 440.1 L227.8 438.3 L228.0 436.5 L228.3 434.9 L228.5 433.3 L228.8 431.9 L229.0 430.5 L229.3 429.2 L229.5 428.0 L229.8 426.9 L230.0 427.5 L230.3 428.1 L230.5 428.7 L230.8 429.4 L231.0 430.1 L231.3 430.8 L231.5 431.5 L231.8 432.3 L232.0 433.1 L232.3 433.9 L232.5 434.8 L232.8 435.7 L233.0 436.6 L233.3 437.5 L233.5 438.5 L233.8 439.5 L234.0 440.5 L234.3 441.5 L234.5 442.6 L234.8 443.7 L235.0 444.8 L235.3 445.9 L235.5 447.1 L235.8 448.3 L236.0 449.4 L236.3 450.7 L236.5 451.9 L236.8 453.1 L237.1 454.4 L237.3 455.7 L237.6 457.0 L237.8 458.3 L238.1 459.6 L238.3 461.0 L238.6 462.3 L238.8 463.7 L239.1 465.1 L239.3 466.5 L239.6 467.9 L239.8 469.3 L240.1 470.7 L240.3 472.1 L240.6 473.5 L240.8 474.9 L241.1 476.4 L241.3 477.8 L241.6 479.2 L241.8 480.7 L242.1 482.1 L242.3 483.5 L242.6 485.0 L242.8 486.4 L243.1 487.8 L243.3 489.2 L243.6 490.6 L243.8 492.0 L244.1 493.4 L244.3 494.8 L244.6 496.2 L244.8 497.5 L245.1 498.9 L245.3 500.2 L245.6 501.5 L245.8 502.8 L246.1 504.1 L246.3 505.4 L246.6 506.6 L246.8 507.9 L247.1 509.1 L247.4 510.3 L247.6 511.5 L247.9 512.6 L248.1 513.8 L248.4 514.9 L248.6 516.0 L248.9 517.1 L249.1 518.1 L249.4 519.1 L249.6 520.1 L249.9 521.1 L250.1 522.1 L250.4 523.0 L250.6 523.9 L250.9 524.7 L251.1 525.6 L251.4 526.4 L251.6 527.2 L251.9 527.9 L252.1 528.7 L252.4 529.4 L252.6 530.0 L252.9 530.7 L253.1 531.3 L253.4 531.9 L253.6 531.6 L253.9 530.7 L254.1 529.8 L254.4 528.8 L254.6 527.8 L254.9 526.7 L255.1 525.6 L255.4 524.4 L255.6 523.2 L255.9 521.9 L256.1 520.5 L256.4 519.1 L256.6 517.7 L256.9 516.2 L257.2 514.7 L257.4 513.1 L257.7 511.5 L257.9 509.8 L258.2 508.1 L258.4 506.4 L258.7 504.6 L258.9 502.8 L259.2 501.0 L259.4 499.1 L259.7 497.2 L259.9 495.3 L260.2 493.3 L260.4 491.4 L260.7 489.4 L260.9 487.4 L261.2 485.3 L261.4 483.3 L261.7 481.2 L261.9 479.2 L262.2 477.1 L262.4 475.0 L262.7 473.0 L262.9 470.9 L263.2 468.8 L263.4 466.8 L263.7 464.7 L263.9 462.7 L264.2 460.6 L264.4 458.6 L264.7 456.6 L264.9 454.6 L265.2 452.7 L265.4 450.7 L265.7 448.8 L265.9 446.9 L266.2 445.1 L266.4 443.2 L266.7 441.4 L266.9 439.7 L267.2 438.0 L267.5 436.3 L267.7 434.6 L268.0 433.0 L268.2 431.5 L268.5 430.0 L268.7 428.5 L269.0 427.1 L269.2 425.7 L269.5 424.4 L269.7 423.1 L270.0 421.9 L270.2 420.7 L270.5 419.6 L270.7 418.5 L271.0 417.5 L271.2 416.6 L271.5 415.7 L271.7 414.8 L272.0 415.3 L272.2 416.2 L272.5 417.1 L272.7 418.1 L273.0 419.2 L273.2 420.3 L273.5 421.4 L273.7 422.6 L274.0 423.9 L274.2 425.2 L274.5 426.6 L274.7 428.0 L275.0 429.4 L275.2 431.0 L275.5 432.5 L275.7 434.1 L276.0 435.8 L276.2 437.4 L276.5 439.2 L276.7 440.9 L277.0 442.7 L277.3 444.6 L277.5 446.4 L277.8 448.3 L278.0 450.2 L278.3 452.2 L278.5 454.2 L278.8 456.1 L279.0 458.1 L279.3 460.2 L279.5 462.2 L279.8 464.2 L280.0 466.3 L280.3 468.3 L280.5 470.4 L280.8 472.5 L281.0 474.5 L281.3 476.6 L281.5 478.6 L281.8 480.6 L282.0 482.7 L282.3 484.7 L282.5 486.6 L282.8 488.6 L283.0 490.6 L283.3 492.5 L283.5 494.4 L283.8 496.2 L284.0 498.1 L284.3 499.9 L284.5 501.6 L284.8 503.3 L285.0 505.0 L285.3 506.7 L285.5 508.3 L285.8 509.8 L286.0 511.3 L286.3 512.8 L286.5 514.2 L286.8 515.6 L287.0 516.9 L287.3 518.2 L287.6 519.4 L287.8 520.5 L288.1 521.6 L288.3 522.7 L288.6 523.7 L288.8 524.6 L289.1 525.5 L289.3 526.0 L289.6 525.2 L289.8 524.5 L290.1 523.6 L290.3 522.8 L290.6 521.8 L290.8 520.9 L291.1 519.9 L291.3 518.8 L291.6 517.7 L291.8 516.6 L292.1 515.4 L292.3 514.1 L292.6 512.9 L292.8 511.6 L293.1 510.2 L293.3 508.8 L293.6 507.4 L293.8 505.9 L294.1 504.5 L294.3 502.9 L294.6 501.4 L294.8 499.8 L295.1 498.2 L295.3 496.5 L295.6 494.9 L295.8 493.2 L296.1 491.5 L296.3 489.8 L296.6 488.0 L296.8 486.3 L297.1 484.5 L297.4 482.7 L297.6 481.0 L297.9 479.2 L298.1 477.4 L298.4 475.6 L298.6 473.8 L298.9 472.0 L299.1 470.2 L299.4 468.4 L299.6 466.6 L299.9 464.8 L300.1 463.0 L300.4 461.3 L300.6 459.5 L300.9 457.8 L301.1 456.1 L301.4 454.4 L301.6 452.7 L301.9 451.1 L302.1 449.5 L302.4 447.9 L302.6 446.3 L302.9 444.8 L303.1 443.3 L303.4 441.9 L303.6 440.4 L303.9 439.0 L304.1 437.7 L304.4 436.4 L304.6 435.1 L304.9 433.8 L305.1 432.6 L305.4 431.5 L305.6 430.4 L305.9 429.3 L306.1 428.3 L306.4 427.3 L306.6 426.4 L306.9 425.5 L307.1 424.7 L307.4 423.9 L307.7 423.1 L307.9 423.3 L308.2 424.0 L308.4 424.8 L308.7 425.6 L308.9 426.5 L309.2 427.4 L309.4 428.3 L309.7 429.3 L309.9 430.3 L310.2 431.4 L310.4 432.5 L310.7 433.7 L310.9 434.9 L311.2 436.1 L311.4 437.4 L311.7 438.7 L311.9 440.0 L312.2 441.4 L312.4 442.8 L312.7 444.2 L312.9 445.7 L313.2 447.2 L313.4 448.7 L313.7 450.3 L313.9 451.9 L314.2 453.5 L314.4 455.1 L314.7 456.7 L314.9 458.4 L315.2 460.1 L315.4 461.8 L315.7 463.5 L315.9 465.2 L316.2 466.9 L316.4 468.7 L316.7 470.4 L316.9 472.2 L317.2 473.9 L317.5 475.7 L317.7 477.5 L318.0 479.2 L318.2 481.0 L318.5 482.7 L318.7 484.5 L319.0 486.2 L319.2 487.9 L319.5 489.7 L319.7 491.4 L320.0 493.0 L320.2 494.7 L320.5 496.4 L320.7 498.0 L321.0 499.6 L321.2 501.2 L321.5 502.8 L321.7 504.3 L322.0 505.8 L322.2 507.3 L322.5 508.7 L322.7 510.2 L323.0 511.5 L323.2 512.9 L323.5 514.2 L323.7 515.5 L324.0 516.7 L324.2 517.9 L324.5 519.1 L324.7 520.2 L325.0 521.3 L325.2 522.4 L325.5 523.4 L325.7 524.4 L326.0 525.3 L326.2 526.2 L326.5 527.0 L326.7 527.8 L327.0 528.5 L327.2 529.2 L327.5 528.5 L327.8 527.7 L328.0 526.8 L328.3 525.9 L328.5 524.9 L328.8 523.9 L329.0 522.8 L329.3 521.7 L329.5 520.6 L329.8 519.3 L330.0 518.1 L330.3 516.8 L330.5 515.4 L330.8 514.0 L331.0 512.6 L331.3 511.1 L331.5 509.6 L331.8 508.0 L332.0 506.4 L332.3 504.8 L332.5 503.2 L332.8 501.5 L333.0 499.8 L333.3 498.0 L333.5 496.2 L333.8 494.5 L334.0 492.6 L334.3 490.8 L334.5 489.0 L334.8 487.1 L335.0 485.3 L335.3 483.4 L335.5 481.5 L335.8 479.6 L336.0 477.7 L336.3 475.8 L336.5 473.9 L336.8 472.1 L337.0 470.2 L337.3 468.3 L337.6 466.5 L337.8 464.6 L338.1 462.8 L338.3 461.0 L338.6 459.2 L338.8 457.5 L339.1 455.7 L339.3 454.0 L339.6 452.4 L339.8 450.7 L340.1 449.1 L340.3 447.5 L340.6 446.0 L340.8 444.5 L341.1 443.0 L341.3 441.6 L341.6 440.2 L341.8 438.9 L342.1 437.6 L342.3 436.4 L342.6 435.2 L342.8 434.0 L343.1 432.9 L343.3 431.9 L343.6 430.9 L343.8 429.9 L344.1 429.0 L344.3 428.2 L344.6 427.4 L344.8 427.3 L345.1 428.2 L345.3 429.1 L345.6 430.1 L345.8 431.2 L346.1 432.3 L346.3 433.5 L346.6 434.7 L346.8 436.0 L347.1 437.3 L347.4 438.7 L347.6 440.2 L347.9 441.7 L348.1 443.2 L348.4 444.8 L348.6 446.4 L348.9 448.1 L349.1 449.8 L349.4 451.6 L349.6 453.4 L349.9 455.3 L350.1 457.1 L350.4 459.0 L350.6 461.0 L350.9 463.0 L351.1 465.0 L351.4 467.0 L351.6 469.1 L351.9 471.1 L352.1 473.2 L352.4 475.4 L352.6 477.5 L352.9 479.6 L353.1 481.8 L353.4 483.9 L353.6 486.1 L353.9 488.3 L354.1 490.4 L354.4 492.6 L354.6 494.7 L354.9 496.9 L355.1 499.0 L355.4 501.2 L355.6 503.3 L355.9 505.4 L356.1 507.4 L356.4 509.5 L356.6 511.5 L356.9 513.5 L357.1 515.5 L357.4 517.5 L357.7 519.4 L357.9 521.3 L358.2 523.1 L358.4 524.9 L358.7 526.7 L358.9 528.4 L359.2 530.1 L359.4 531.7 L359.7 533.3 L359.9 534.8 L360.2 536.3 L360.4 537.8 L360.7 539.2 L360.9 540.5 L361.2 541.8 L361.4 543.0 L361.7 544.2 L361.9 545.3 L362.2 546.4 L362.4 547.4 L362.7 548.3 L362.9 549.2 L363.2 549.2 L363.4 548.4 L363.7 547.7 L363.9 546.9 L364.2 546.0 L364.4 545.1 L364.7 544.2 L364.9 543.3 L365.2 542.3 L365.4 541.2 L365.7 540.2 L365.9 539.1 L366.2 537.9 L366.4 536.8 L366.7 535.6 L366.9 534.3 L367.2 533.1 L367.5 531.8 L367.7 530.4 L368.0 529.1 L368.2 527.7 L368.5 526.3 L368.7 524.8 L369.0 523.4 L369.2 521.9 L369.5 520.3 L369.7 518.8 L370.0 517.2 L370.2 515.6 L370.5 514.0 L370.7 512.4 L371.0 510.8 L371.2 509.1 L371.5 507.4 L371.7 505.7 L372.0 504.0 L372.2 502.3 L372.5 500.6 L372.7 498.8 L373.0 497.1 L373.2 495.3 L373.5 493.5 L373.7 491.8 L374.0 490.0 L374.2 488.2 L374.5 486.5 L374.7 484.7 L375.0 482.9 L375.2 481.1 L375.5 479.4 L375.7 477.6 L376.0 475.9 L376.2 474.1 L376.5 472.4 L376.7 470.7 L377.0 468.9 L377.2 467.3 L377.5 465.6 L377.8 463.9 L378.0 462.2 L378.3 460.6 L378.5 459.0 L378.8 457.4 L379.0 455.8 L379.3 454.3 L379.5 452.8 L379.8 451.3 L380.0 449.8 L380.3 448.3 L380.5 446.9 L380.8 445.5 L381.0 444.2 L381.3 442.8 L381.5 441.5 L381.8 440.2 L382.0 439.0 L382.3 437.8 L382.5 436.6 L382.8 435.5 L383.0 434.4 L383.3 433.3 L383.5 432.3 L383.8 431.3 L384.0 430.3 L384.3 429.4 L384.5 428.5 L384.8 427.6 L385.0 426.8 L385.3 426.1 L385.5 425.3 L385.8 425.0 L386.0 426.1 L386.3 427.3 L386.5 428.6 L386.8 429.9 L387.0 431.4 L387.3 433.0 L387.6 434.6 L387.8 436.3 L388.1 438.1 L388.3 440.0 L388.6 442.0 L388.8 444.0 L389.1 446.1 L389.3 448.3 L389.6 450.5 L389.8 452.8 L390.1 455.2 L390.3 457.6 L390.6 460.0 L390.8 462.5 L391.1 465.1 L391.3 467.7 L391.6 470.3 L391.8 472.9 L392.1 475.6 L392.3 478.2 L392.6 480.9 L392.8 483.6 L393.1 486.3 L393.3 489.0 L393.6 491.6 L393.8 494.3 L394.1 496.9 L394.3 499.5 L394.6 502.1 L394.8 504.7 L395.1 507.2 L395.3 509.7 L395.6 512.1 L395.8 514.5 L396.1 516.8 L396.3 519.1 L396.6 521.3 L396.8 523.4 L397.1 525.5 L397.3 527.5 L397.6 529.4 L397.9 531.2 L398.1 533.0 L398.4 534.6 L398.6 536.2 L398.9 537.7 L399.1 539.2 L399.4 540.5 L399.6 541.7 L399.9 542.9 L400.1 543.2 L400.4 542.5 L400.6 541.8 L400.9 541.0 L401.1 540.2 L401.4 539.3 L401.6 538.4 L401.9 537.5 L402.1 536.5 L402.4 535.5 L402.6 534.4 L402.9 533.4 L403.1 532.3 L403.4 531.1 L403.6 529.9 L403.9 528.7 L404.1 527.5 L404.4 526.2 L404.6 524.9 L404.9 523.6 L405.1 522.2 L405.4 520.8 L405.6 519.4 L405.9 518.0 L406.1 516.5 L406.4 515.0 L406.6 513.5 L406.9 511.9 L407.1 510.4 L407.4 508.8 L407.7 507.2 L407.9 505.6 L408.2 503.9 L408.4 502.3 L408.7 500.6 L408.9 498.9 L409.2 497.2 L409.4 495.5 L409.7 493.8 L409.9 492.1 L410.2 490.4 L410.4 488.6 L410.7 486.9 L410.9 485.1 L411.2 483.4 L411.4 481.7 L411.7 479.9 L411.9 478.2 L412.2 476.4 L412.4 474.7 L412.7 473.0 L412.9 471.2 L413.2 469.5 L413.4 467.8 L413.7 466.1 L413.9 464.5 L414.2 462.8 L414.4 461.2 L414.7 459.5 L414.9 457.9 L415.2 456.3 L415.4 454.7 L415.7 453.2 L415.9 451.6 L416.2 450.1 L416.4 448.6 L416.7 447.2 L416.9 445.7 L417.2 444.3 L417.4 442.9 L417.7 441.6 L418.0 440.2 L418.2 438.9 L418.5 437.7 L418.7 436.4 L419.0 435.2 L419.2 434.1 L419.5 432.9 L419.7 431.8 L420.0 430.7 L420.2 429.7 L420.5 428.7 L420.7 427.7 L421.0 426.8 L421.2 425.9 L421.5 425.1 L421.7 424.3 L422.0 423.5 L422.2 422.7 L422.5 422.0 L422.7 422.7 L423.0 423.7 L423.2 424.8 L423.5 425.9 L423.7 427.2 L424.0 428.5 L424.2 429.9 L424.5 431.4 L424.7 432.9 L425.0 434.5 L425.2 436.2 L425.5 437.9 L425.7 439.8 L426.0 441.6 L426.2 443.5 L426.5 445.5 L426.7 447.5 L427.0 449.6 L427.2 451.7 L427.5 453.9 L427.8 456.1 L428.0 458.3 L428.3 460.6 L428.5 462.9 L428.8 465.2 L429.0 467.5 L429.3 469.8 L429.5 472.2 L429.8 474.5 L430.0 476.9 L430.3 479.2 L430.5 481.6 L430.8 483.9 L431.0 486.2 L431.3 488.5 L431.5 490.7 L431.8 493.0 L432.0 495.2 L432.3 497.3 L432.5 499.4 L432.8 501.5 L433.0 503.5 L433.3 505.5 L433.5 507.4 L433.8 509.3 L434.0 511.1 L434.3 512.9 L434.5 514.5 L434.8 516.1 L435.0 517.7 L435.3 519.2 L435.5 520.6 L435.8 521.9 L436.0 523.1 L436.3 524.3 L436.5 525.4 L436.8 526.4 L437.0 527.0 L437.3 526.4 L437.5 525.7 L437.8 525.0 L438.1 524.2 L438.3 523.5 L438.6 522.6 L438.8 521.8 L439.1 520.9 L439.3 520.0 L439.6 519.0 L439.8 518.1 L440.1 517.0 L440.3 516.0 L440.6 514.9 L440.8 513.8 L441.1 512.7 L441.3 511.5 L441.6 510.3 L441.8 509.1 L442.1 507.9 L442.3 506.6 L442.6 505.3 L442.8 504.0 L443.1 502.6 L443.3 501.2 L443.6 499.8 L443.8 498.4 L444.1 497.0 L444.3 495.5 L444.6 494.1 L444.8 492.6 L445.1 491.1 L445.3 489.6 L445.6 488.0 L445.8 486.5 L446.1 485.0 L446.3 483.4 L446.6 481.8 L446.8 480.2 L447.1 478.7 L447.3 477.1 L447.6 475.5 L447.9 473.9 L448.1 472.3 L448.4 470.7 L448.6 469.1 L448.9 467.5 L449.1 465.9 L449.4 464.3 L449.6 462.7 L449.9 461.2 L450.1 459.6 L450.4 458.0 L450.6 456.5 L450.9 455.0 L451.1 453.4 L451.4 451.9 L451.6 450.4 L451.9 449.0 L452.1 447.5 L452.4 446.1 L452.6 444.6 L452.9 443.2 L453.1 441.9 L453.4 440.5 L453.6 439.2 L453.9 437.9 L454.1 436.6 L454.4 435.3 L454.6 434.1 L454.9 432.9 L455.1 431.7 L455.4 430.6 L455.6 429.4 L455.9 428.4 L456.1 427.3 L456.4 426.3 L456.6 425.3 L456.9 424.3 L457.1 423.4 L457.4 422.5 L457.6 421.6 L457.9 420.8 L458.2 420.0 L458.4 419.2 L458.7 418.5 L458.9 417.8 L459.2 417.1 L459.4 417.2 L459.7 418.3 L459.9 419.6 L460.2 420.9 L460.4 422.4 L460.7 423.9 L460.9 425.5 L461.2 427.2 L461.4 429.0 L461.7 430.9 L461.9 432.9 L462.2 434.9 L462.4 437.1 L462.7 439.3 L462.9 441.5 L463.2 443.9 L463.4 446.2 L463.7 448.7 L463.9 451.2 L464.2 453.7 L464.4 456.3 L464.7 458.9 L464.9 461.6 L465.2 464.3 L465.4 467.0 L465.7 469.7 L465.9 472.4 L466.2 475.1 L466.4 477.8 L466.7 480.5 L466.9 483.2 L467.2 485.9 L467.4 488.6 L467.7 491.2 L468.0 493.7 L468.2 496.3 L468.5 498.8 L468.7 501.2 L469.0 503.6 L469.2 505.9 L469.5 508.2 L469.7 510.3 L470.0 512.5 L470.2 514.5 L470.5 516.4 L470.7 518.3 L471.0 520.1 L471.2 521.8 L471.5 523.4 L471.7 524.9 L472.0 526.3 L472.2 527.6 L472.5 528.9 L472.7 530.0 L473.0 529.6 L473.2 528.8 L473.5 527.9 L473.7 527.0 L474.0 526.1 L474.2 525.1 L474.5 524.0 L474.7 522.9 L475.0 521.8 L475.2 520.5 L475.5 519.3 L475.7 518.0 L476.0 516.7 L476.2 515.3 L476.5 513.8 L476.7 512.4 L477.0 510.9 L477.2 509.3 L477.5 507.7 L477.7 506.1 L478.0 504.5" stroke="#FF0000" stroke-width="2.40" stroke-dasharray="2.5 2.5"/>
</g>
<rect x="76.0" y="361.5" width="402.0" height="229.0" fill="none" stroke="#808080" stroke-width="1.5"/>
<line x1="76.0" y1="590.5" x2="76.0" y2="586.5" stroke="#808080" stroke-width="1"/>
<line x1="76.0" y1="361.5" x2="76.0" y2="365.5" stroke="#808080" stroke-width="1"/>
<line x1="277.0" y1="590.5" x2="277.0" y2="586.5" stroke="#808080" stroke-width="1"/>
<line x1="277.0" y1="361.5" x2="277.0" y2="365.5" stroke="#808080" stroke-width="1"/>
<line x1="478.0" y1="590.5" x2="478.0" y2="586.5" stroke="#808080" stroke-width="1"/>
<line x1="478.0" y1="361.5" x2="478.0" y2="365.5" stroke="#808080" stroke-width="1"/>
<line x1="76.0" y1="382.0" x2="80.0" y2="382.0" stroke="#808080" stroke-width="1"/>
<line x1="478.0" y1="382.0" x2="474.0" y2="382.0" stroke="#808080" stroke-width="1"/>
<line x1="76.0" y1="429.5" x2="80.0" y2="429.5" stroke="#808080" stroke-width="1"/>
<line x1="478.0" y1="429.5" x2="474.0" y2="429.5" stroke="#808080" stroke-width="1"/>
<line x1="76.0" y1="477.0" x2="80.0" y2="477.0" stroke="#808080" stroke-width="1"/>
<line x1="478.0" y1="477.0" x2="474.0" y2="477.0" stroke="#808080" stroke-width="1"/>
<line x1="76.0" y1="524.5" x2="80.0" y2="524.5" stroke="#808080" stroke-width="1"/>
<line x1="478.0" y1="524.5" x2="474.0" y2="524.5" stroke="#808080" stroke-width="1"/>
<line x1="76.0" y1="572.0" x2="80.0" y2="572.0" stroke="#808080" stroke-width="1"/>
<line x1="478.0" y1="572.0" x2="474.0" y2="572.0" stroke="#808080" stroke-width="1"/>
<rect x="85.4" y="369.0" width="123.9" height="79.2" fill="#fff" fill-opacity="0.96" stroke="#808080" stroke-width="1.5"/>
<line x1="87.4" y1="382.7" x2="113.0" y2="382.7" stroke="#EDB526" stroke-width="2.40"/>
<line x1="87.4" y1="409.3" x2="113.0" y2="409.3" stroke="#0000FF" stroke-width="2.70" stroke-dasharray="10 9"/>
<line x1="87.4" y1="435.0" x2="113.0" y2="435.0" stroke="#FF0000" stroke-width="2.40" stroke-dasharray="2.5 2.5"/>
<text x="114.7" y="390.2" font-size="23" fill="#262626" stroke="#262626" stroke-width="0.12">Passive</text>
<text x="114.7" y="416.0" font-size="23" fill="#262626" stroke="#262626" stroke-width="0.12">Fuzzy</text>
<text x="114.7" y="442.0" font-size="23" fill="#262626" stroke="#262626" stroke-width="0.12">NFADRC</text>
<text x="68.3" y="391.6" font-size="24.5" fill="#4a4a4a" stroke="#4a4a4a" stroke-width="0.12" text-anchor="end">1</text>
<text x="68.3" y="439.1" font-size="24.5" fill="#4a4a4a" stroke="#4a4a4a" stroke-width="0.12" text-anchor="end">0.5</text>
<text x="68.3" y="486.6" font-size="24.5" fill="#4a4a4a" stroke="#4a4a4a" stroke-width="0.12" text-anchor="end">0</text>
<text x="68.3" y="534.1" font-size="24.5" fill="#4a4a4a" stroke="#4a4a4a" stroke-width="0.12" text-anchor="end">-0.5</text>
<text x="68.3" y="581.6" font-size="24.5" fill="#4a4a4a" stroke="#4a4a4a" stroke-width="0.12" text-anchor="end">-1</text>
<text x="76.0" y="620.8" font-size="24.5" fill="#4a4a4a" stroke="#4a4a4a" stroke-width="0.12" text-anchor="middle">0.7</text>
<text x="277.0" y="620.8" font-size="24.5" fill="#4a4a4a" stroke="#4a4a4a" stroke-width="0.12" text-anchor="middle">0.8</text>
<text x="478.0" y="620.8" font-size="24.5" fill="#4a4a4a" stroke="#4a4a4a" stroke-width="0.12" text-anchor="middle">0.9</text>
<text x="232.0" y="644.0" font-size="27" fill="#404040" stroke="#404040" stroke-width="0.12" textLength="94.0" lengthAdjust="spacingAndGlyphs">Time (s)</text>
<g transform="translate(33.0 473.9) rotate(-90)"><text x="0" y="0" font-size="28" fill="#404040" stroke="#404040" stroke-width="0.12" text-anchor="middle">Acceleration (m/s<tspan font-size="18" dy="-13">2</tspan><tspan dy="13">)</tspan></text></g>
<text x="226.1" y="354.3" font-size="27" fill="#000" stroke="#000" stroke-width="0.35" font-style="italic" textLength="18.5" lengthAdjust="spacingAndGlyphs">&#969;</text>
<text x="253.8" y="354.3" font-size="27" fill="#000" stroke="#000" stroke-width="0.35" textLength="18" lengthAdjust="spacingAndGlyphs">=</text>
<text x="280.3" y="354.3" font-size="27" fill="#000" stroke="#000" stroke-width="0.35" textLength="28.5" lengthAdjust="spacingAndGlyphs">54</text>
<text x="315.3" y="354.3" font-size="27" fill="#000" stroke="#000" stroke-width="0.35" textLength="28.5" lengthAdjust="spacingAndGlyphs">Hz</text>
<text x="14.6" y="636.0" font-size="28" fill="#000" stroke="#000" stroke-width="0.12">(c)</text>
<clipPath id="cd"><rect x="616.0" y="368.5" width="386.0" height="215.5"/></clipPath>
<g clip-path="url(#cd)" filter="url(#bl)" fill="none" stroke-linejoin="round">
<path d="M616.0 508.2 L616.2 503.4 L616.5 498.5 L616.7 493.5 L617.0 488.5 L617.2 483.4 L617.4 478.3 L617.7 473.3 L617.9 468.2 L618.2 463.2 L618.4 458.3 L618.7 453.4 L618.9 448.6 L619.1 443.9 L619.4 439.3 L619.6 434.9 L619.9 430.6 L620.1 426.5 L620.3 422.6 L620.6 418.8 L620.8 415.3 L621.1 412.0 L621.3 408.9 L621.5 406.0 L621.8 403.4 L622.0 401.0 L622.3 398.9 L622.5 397.1 L622.8 395.6 L623.0 394.3 L623.2 393.4 L623.5 392.7 L623.7 392.3 L624.0 392.2 L624.2 392.4 L624.4 392.9 L624.7 393.7 L624.9 394.8 L625.2 396.2 L625.4 397.8 L625.6 399.7 L625.9 401.9 L626.1 404.4 L626.4 407.1 L626.6 410.0 L626.9 413.2 L627.1 416.6 L627.3 420.2 L627.6 424.1 L627.8 428.1 L628.1 432.3 L628.3 436.6 L628.5 441.1 L628.8 445.7 L629.0 450.4 L629.3 455.2 L629.5 460.1 L629.8 465.1 L630.0 470.1 L630.2 475.2 L630.5 480.2 L630.7 485.3 L631.0 490.3 L631.2 495.3 L631.4 500.3 L631.7 505.1 L631.9 509.9 L632.2 514.6 L632.4 519.2 L632.6 523.6 L632.9 527.9 L633.1 532.0 L633.4 535.9 L633.6 539.7 L633.9 543.2 L634.1 546.5 L634.3 549.6 L634.6 552.5 L634.8 555.1 L635.1 557.4 L635.3 559.5 L635.5 561.3 L635.8 562.9 L636.0 564.1 L636.3 565.1 L636.5 565.7 L636.7 566.1 L637.0 566.2 L637.2 566.0 L637.5 565.5 L637.7 564.7 L638.0 563.6 L638.2 562.3 L638.4 560.6 L638.7 558.7 L638.9 556.5 L639.2 554.0 L639.4 551.3 L639.6 548.4 L639.9 545.2 L640.1 541.8 L640.4 538.1 L640.6 534.3 L640.8 530.3 L641.1 526.1 L641.3 521.8 L641.6 517.3 L641.8 512.6 L642.1 507.9 L642.3 503.1 L642.5 498.2 L642.8 493.2 L643.0 488.2 L643.3 483.1 L643.5 478.1 L643.7 473.0 L644.0 468.0 L644.2 463.0 L644.5 458.0 L644.7 453.1 L645.0 448.3 L645.2 443.7 L645.4 439.1 L645.7 434.7 L645.9 430.4 L646.2 426.3 L646.4 422.4 L646.6 418.6 L646.9 415.1 L647.1 411.8 L647.4 408.7 L647.6 405.8 L647.8 403.2 L648.1 400.9 L648.3 398.8 L648.6 397.0 L648.8 395.5 L649.1 394.3 L649.3 393.3 L649.5 392.7 L649.8 392.3 L650.0 392.2 L650.3 392.4 L650.5 393.0 L650.7 393.8 L651.0 394.9 L651.2 396.2 L651.5 397.9 L651.7 399.8 L651.9 402.1 L652.2 404.5 L652.4 407.2 L652.7 410.2 L652.9 413.4 L653.2 416.8 L653.4 420.5 L653.6 424.3 L653.9 428.3 L654.1 432.5 L654.4 436.8 L654.6 441.3 L654.8 445.9 L655.1 450.7 L655.3 455.5 L655.6 460.4 L655.8 465.4 L656.0 470.4 L656.3 475.4 L656.5 480.5 L656.8 485.6 L657.0 490.6 L657.3 495.6 L657.5 500.5 L657.7 505.4 L658.0 510.2 L658.2 514.9 L658.5 519.4 L658.7 523.8 L658.9 528.1 L659.2 532.2 L659.4 536.1 L659.7 539.9 L659.9 543.4 L660.1 546.7 L660.4 549.8 L660.6 552.6 L660.9 555.2 L661.1 557.5 L661.4 559.6 L661.6 561.4 L661.8 562.9 L662.1 564.2 L662.3 565.1 L662.6 565.8 L662.8 566.1 L663.0 566.2 L663.3 566.0 L663.5 565.5 L663.8 564.7 L664.0 563.6 L664.2 562.2 L664.5 560.5 L664.7 558.6 L665.0 556.4 L665.2 553.9 L665.5 551.2 L665.7 548.2 L665.9 545.0 L666.2 541.6 L666.4 537.9 L666.7 534.1 L666.9 530.1 L667.1 525.9 L667.4 521.5 L667.6 517.0 L667.9 512.4 L668.1 507.6 L668.4 502.8 L668.6 497.9 L668.8 492.9 L669.1 487.9 L669.3 482.8 L669.6 477.8 L669.8 472.7 L670.0 467.7 L670.3 462.7 L670.5 457.7 L670.8 452.9 L671.0 448.1 L671.2 443.4 L671.5 438.8 L671.7 434.4 L672.0 430.2 L672.2 426.1 L672.5 422.1 L672.7 418.4 L672.9 414.9 L673.2 411.6 L673.4 408.5 L673.7 405.7 L673.9 403.1 L674.1 400.8 L674.4 398.7 L674.6 396.9 L674.9 395.4 L675.1 394.2 L675.3 393.3 L675.6 392.6 L675.8 392.3 L676.1 392.2 L676.3 392.5 L676.6 393.0 L676.8 393.8 L677.0 394.9 L677.3 396.3 L677.5 398.0 L677.8 400.0 L678.0 402.2 L678.2 404.7 L678.5 407.4 L678.7 410.4 L679.0 413.6 L679.2 417.0 L679.4 420.7 L679.7 424.5 L679.9 428.5 L680.2 432.7 L680.4 437.1 L680.7 441.6 L680.9 446.2 L681.1 450.9 L681.4 455.8 L681.6 460.7 L681.9 465.7 L682.1 470.7 L682.3 475.7 L682.6 480.8 L682.8 485.8 L683.1 490.9 L683.3 495.9 L683.6 500.8 L683.8 505.7 L684.0 510.5 L684.3 515.1 L684.5 519.7 L684.8 524.1 L685.0 528.3 L685.2 532.4 L685.5 536.3 L685.7 540.1 L686.0 543.6 L686.2 546.9 L686.4 549.9 L686.7 552.8 L686.9 555.3 L687.2 557.7 L687.4 559.7 L687.7 561.5 L687.9 563.0 L688.1 564.2 L688.4 565.2 L688.6 565.8 L688.9 566.2 L689.1 566.2 L689.3 566.0 L689.6 565.4 L689.8 564.6 L690.1 563.5 L690.3 562.1 L690.5 560.4 L690.8 558.5 L691.0 556.2 L691.3 553.7 L691.5 551.0 L691.8 548.0 L692.0 544.8 L692.2 541.4 L692.5 537.7 L692.7 533.9 L693.0 529.8 L693.2 525.6 L693.4 521.3 L693.7 516.8 L693.9 512.1 L694.2 507.4 L694.4 502.5 L694.6 497.6 L694.9 492.6 L695.1 487.6 L695.4 482.6 L695.6 477.5 L695.9 472.4 L696.1 467.4 L696.3 462.4 L696.6 457.5 L696.8 452.6 L697.1 447.8 L697.3 443.1 L697.5 438.6 L697.8 434.2 L698.0 429.9 L698.3 425.8 L698.5 421.9 L698.7 418.2 L699.0 414.7 L699.2 411.4 L699.5 408.4 L699.7 405.5 L700.0 403.0 L700.2 400.7 L700.4 398.6 L700.7 396.8 L700.9 395.4 L701.2 394.1 L701.4 393.2 L701.6 392.6 L701.9 392.3 L702.1 392.2 L702.4 392.5 L702.6 393.0 L702.9 393.9 L703.1 395.0 L703.3 396.4 L703.6 398.1 L703.8 400.1 L704.1 402.3 L704.3 404.8 L704.5 407.6 L704.8 410.6 L705.0 413.8 L705.3 417.2 L705.5 420.9 L705.7 424.7 L706.0 428.8 L706.2 433.0 L706.5 437.3 L706.7 441.8 L707.0 446.5 L707.2 451.2 L707.4 456.0 L707.7 461.0 L707.9 465.9 L708.2 471.0 L708.4 476.0 L708.6 481.1 L708.9 486.1 L709.1 491.2 L709.4 496.2 L709.6 501.1 L709.8 505.9 L710.1 510.7 L710.3 515.4 L710.6 519.9 L710.8 524.3 L711.1 528.6 L711.3 532.7 L711.5 536.6 L711.8 540.3 L712.0 543.8 L712.3 547.0 L712.5 550.1 L712.7 552.9 L713.0 555.5 L713.2 557.8 L713.5 559.8 L713.7 561.6 L713.9 563.1 L714.2 564.3 L714.4 565.2 L714.7 565.8 L714.9 566.2 L715.2 566.2 L715.4 565.9 L715.6 565.4 L715.9 564.6 L716.1 563.4 L716.4 562.0 L716.6 560.3 L716.8 558.3 L717.1 556.1 L717.3 553.6 L717.6 550.8 L717.8 547.8 L718.0 544.6 L718.3 541.2 L718.5 537.5 L718.8 533.6 L719.0 529.6 L719.3 525.4 L719.5 521.0 L719.7 516.5 L720.0 511.9 L720.2 507.1 L720.5 502.3 L720.7 497.3 L720.9 492.4 L721.2 487.3 L721.4 482.3 L721.7 477.2 L721.9 472.1 L722.2 467.1 L722.4 462.1 L722.6 457.2 L722.9 452.3 L723.1 447.5 L723.4 442.9 L723.6 438.3 L723.8 433.9 L724.1 429.7 L724.3 425.6 L724.6 421.7 L724.8 418.0 L725.0 414.5 L725.3 411.2 L725.5 408.2 L725.8 405.4 L726.0 402.8 L726.3 400.5 L726.5 398.5 L726.7 396.8 L727.0 395.3 L727.2 394.1 L727.5 393.2 L727.7 392.6 L727.9 392.3 L728.2 392.2 L728.4 392.5 L728.7 393.1 L728.9 393.9 L729.1 395.1 L729.4 396.5 L729.6 398.2 L729.9 400.2 L730.1 402.4 L730.4 405.0 L730.6 407.7 L730.8 410.7 L731.1 414.0 L731.3 417.4 L731.6 421.1 L731.8 424.9 L732.0 429.0 L732.3 433.2 L732.5 437.6 L732.8 442.1 L733.0 446.7 L733.2 451.5 L733.5 456.3 L733.7 461.2 L734.0 466.2 L734.2 471.2 L734.5 476.3 L734.7 481.4 L734.9 486.4 L735.2 491.4 L735.4 496.4 L735.7 501.4 L735.9 506.2 L736.1 511.0 L736.4 515.6 L736.6 520.2 L736.9 524.6 L737.1 528.8 L737.3 532.9 L737.6 536.8 L737.8 540.5 L738.1 544.0 L738.3 547.2 L738.6 550.3 L738.8 553.1 L739.0 555.6 L739.3 557.9 L739.5 559.9 L739.8 561.7 L740.0 563.2 L740.2 564.3 L740.5 565.2 L740.7 565.9 L741.0 566.2 L741.2 566.2 L741.4 565.9 L741.7 565.4 L741.9 564.5 L742.2 563.3 L742.4 561.9 L742.7 560.2 L742.9 558.2 L743.1 556.0 L743.4 553.4 L743.6 550.7 L743.9 547.7 L744.1 544.4 L744.3 541.0 L744.6 537.3 L744.8 533.4 L745.1 529.4 L745.3 525.1 L745.6 520.8 L745.8 516.2 L746.0 511.6 L746.3 506.8 L746.5 502.0 L746.8 497.1 L747.0 492.1 L747.2 487.0 L747.5 482.0 L747.7 476.9 L748.0 471.9 L748.2 466.8 L748.4 461.8 L748.7 456.9 L748.9 452.0 L749.2 447.3 L749.4 442.6 L749.7 438.1 L749.9 433.7 L750.1 429.5 L750.4 425.4 L750.6 421.5 L750.9 417.8 L751.1 414.3 L751.3 411.1 L751.6 408.0 L751.8 405.2 L752.1 402.7 L752.3 400.4 L752.5 398.4 L752.8 396.7 L753.0 395.2 L753.3 394.0 L753.5 393.1 L753.8 392.5 L754.0 392.2 L754.2 392.2 L754.5 392.5 L754.7 393.1 L755.0 394.0 L755.2 395.1 L755.4 396.6 L755.7 398.3 L755.9 400.3 L756.2 402.6 L756.4 405.1 L756.6 407.9 L756.9 410.9 L757.1 414.1 L757.4 417.6 L757.6 421.3 L757.9 425.2 L758.1 429.2 L758.3 433.4 L758.6 437.8 L758.8 442.4 L759.1 447.0 L759.3 451.7 L759.5 456.6 L759.8 461.5 L760.0 466.5 L760.3 471.5 L760.5 476.6 L760.7 481.6 L761.0 486.7 L761.2 491.7 L761.5 496.7 L761.7 501.6 L762.0 506.5 L762.2 511.2 L762.4 515.9 L762.7 520.4 L762.9 524.8 L763.2 529.0 L763.4 533.1 L763.6 537.0 L763.9 540.7 L764.1 544.1 L764.4 547.4 L764.6 550.4 L764.9 553.2 L765.1 555.7 L765.3 558.0 L765.6 560.0 L765.8 561.8 L766.1 563.2 L766.3 564.4 L766.5 565.3 L766.8 565.9 L767.0 566.2 L767.3 566.2 L767.5 565.9 L767.7 565.3 L768.0 564.4 L768.2 563.3 L768.5 561.8 L768.7 560.1 L769.0 558.1 L769.2 555.8 L769.4 553.3 L769.7 550.5 L769.9 547.5 L770.2 544.2 L770.4 540.8 L770.6 537.1 L770.9 533.2 L771.1 529.1 L771.4 524.9 L771.6 520.5 L771.8 516.0 L772.1 511.3 L772.3 506.6 L772.6 501.7 L772.8 496.8 L773.1 491.8 L773.3 486.8 L773.5 481.7 L773.8 476.6 L774.0 471.6 L774.3 466.5 L774.5 461.6 L774.7 456.6 L775.0 451.8 L775.2 447.0 L775.5 442.4 L775.7 437.8 L775.9 433.5 L776.2 429.2 L776.4 425.2 L776.7 421.3 L776.9 417.6 L777.2 414.1 L777.4 410.9 L777.6 407.9 L777.9 405.1 L778.1 402.6 L778.4 400.3 L778.6 398.3 L778.8 396.6 L779.1 395.1 L779.3 394.0 L779.6 393.1 L779.8 392.5 L780.0 392.2 L780.3 392.2 L780.5 392.6 L780.8 393.2 L781.0 394.0 L781.3 395.2 L781.5 396.7 L781.7 398.4 L782.0 400.4 L782.2 402.7 L782.5 405.3 L782.7 408.0 L782.9 411.1 L783.2 414.3 L783.4 417.8 L783.7 421.5 L783.9 425.4 L784.2 429.5 L784.4 433.7 L784.6 438.1 L784.9 442.6 L785.1 447.3 L785.4 452.0 L785.6 456.9 L785.8 461.8 L786.1 466.8 L786.3 471.8 L786.6 476.9 L786.8 481.9 L787.0 487.0 L787.3 492.0 L787.5 497.0 L787.8 501.9 L788.0 506.8 L788.3 511.5 L788.5 516.1 L788.7 520.7 L789.0 525.0 L789.2 529.3 L789.5 533.3 L789.7 537.2 L789.9 540.9 L790.2 544.3 L790.4 547.6 L790.7 550.6 L790.9 553.4 L791.1 555.9 L791.4 558.1 L791.6 560.1 L791.9 561.9 L792.1 563.3 L792.4 564.5 L792.6 565.3 L792.8 565.9 L793.1 566.2 L793.3 566.2 L793.6 565.9 L793.8 565.3 L794.0 564.4 L794.3 563.2 L794.5 561.7 L794.8 560.0 L795.0 558.0 L795.2 555.7 L795.5 553.1 L795.7 550.3 L796.0 547.3 L796.2 544.0 L796.5 540.6 L796.7 536.9 L796.9 533.0 L797.2 528.9 L797.4 524.7 L797.7 520.3 L797.9 515.7 L798.1 511.1 L798.4 506.3 L798.6 501.4 L798.9 496.5 L799.1 491.5 L799.3 486.5 L799.6 481.4 L799.8 476.4 L800.1 471.3 L800.3 466.3 L800.6 461.3 L800.8 456.4 L801.0 451.5 L801.3 446.8 L801.5 442.1 L801.8 437.6 L802.0 433.2 L802.2 429.0 L802.5 424.9 L802.7 421.1 L803.0 417.4 L803.2 414.0 L803.5 410.7 L803.7 407.7 L803.9 404.9 L804.2 402.4 L804.4 400.2 L804.7 398.2 L804.9 396.5 L805.1 395.1 L805.4 393.9 L805.6 393.1 L805.9 392.5 L806.1 392.2 L806.3 392.3 L806.6 392.6 L806.8 393.2 L807.1 394.1 L807.3 395.3 L807.6 396.8 L807.8 398.5 L808.0 400.6 L808.3 402.9 L808.5 405.4 L808.8 408.2 L809.0 411.3 L809.2 414.5 L809.5 418.0 L809.7 421.7 L810.0 425.6 L810.2 429.7 L810.4 433.9 L810.7 438.3 L810.9 442.9 L811.2 447.5 L811.4 452.3 L811.7 457.1 L811.9 462.1 L812.1 467.1 L812.4 472.1 L812.6 477.1 L812.9 482.2 L813.1 487.3 L813.3 492.3 L813.6 497.3 L813.8 502.2 L814.1 507.0 L814.3 511.8 L814.5 516.4 L814.8 520.9 L815.0 525.3 L815.3 529.5 L815.5 533.5 L815.8 537.4 L816.0 541.1 L816.2 544.5 L816.5 547.8 L816.7 550.8 L817.0 553.5 L817.2 556.0 L817.4 558.3 L817.7 560.2 L817.9 562.0 L818.2 563.4 L818.4 564.5 L818.6 565.4 L818.9 565.9 L819.1 566.2 L819.4 566.2 L819.6 565.8 L819.9 565.2 L820.1 564.3 L820.3 563.1 L820.6 561.6 L820.8 559.9 L821.1 557.9 L821.3 555.6 L821.5 553.0 L821.8 550.2 L822.0 547.1 L822.3 543.9 L822.5 540.4 L822.8 536.6 L823.0 532.7 L823.2 528.7 L823.5 524.4 L823.7 520.0 L824.0 515.5 L824.2 510.8 L824.4 506.0 L824.7 501.2 L824.9 496.2 L825.2 491.2 L825.4 486.2 L825.6 481.1 L825.9 476.1 L826.1 471.0 L826.4 466.0 L826.6 461.0 L826.9 456.1 L827.1 451.2 L827.3 446.5 L827.6 441.9 L827.8 437.3 L828.1 433.0 L828.3 428.8 L828.5 424.7 L828.8 420.9 L829.0 417.2 L829.3 413.8 L829.5 410.5 L829.7 407.5 L830.0 404.8 L830.2 402.3 L830.5 400.1 L830.7 398.1 L831.0 396.4 L831.2 395.0 L831.4 393.9 L831.7 393.0 L831.9 392.5 L832.2 392.2 L832.4 392.3 L832.6 392.6 L832.9 393.2 L833.1 394.2 L833.4 395.4 L833.6 396.9 L833.8 398.6 L834.1 400.7 L834.3 403.0 L834.6 405.6 L834.8 408.4 L835.1 411.4 L835.3 414.7 L835.5 418.2 L835.8 421.9 L836.0 425.8 L836.3 429.9 L836.5 434.2 L836.7 438.6 L837.0 443.1 L837.2 447.8 L837.5 452.6 L837.7 457.4 L838.0 462.4 L838.2 467.3 L838.4 472.4 L838.7 477.4 L838.9 482.5 L839.2 487.5 L839.4 492.6 L839.6 497.5 L839.9 502.5 L840.1 507.3 L840.4 512.0 L840.6 516.7 L840.8 521.2 L841.1 525.5 L841.3 529.7 L841.6 533.8 L841.8 537.6 L842.1 541.3 L842.3 544.7 L842.5 547.9 L842.8 550.9 L843.0 553.7 L843.3 556.2 L843.5 558.4 L843.7 560.3 L844.0 562.0 L844.2 563.4 L844.5 564.6 L844.7 565.4 L844.9 566.0 L845.2 566.2 L845.4 566.2 L845.7 565.8 L845.9 565.2 L846.2 564.3 L846.4 563.1 L846.6 561.6 L846.9 559.8 L847.1 557.7 L847.4 555.4 L847.6 552.8 L847.8 550.0 L848.1 547.0 L848.3 543.7 L848.6 540.2 L848.8 536.4 L849.0 532.5 L849.3 528.4 L849.5 524.2 L849.8 519.8 L850.0 515.2 L850.3 510.5 L850.5 505.8 L850.7 500.9 L851.0 496.0 L851.2 491.0 L851.5 485.9 L851.7 480.9 L851.9 475.8 L852.2 470.7 L852.4 465.7 L852.7 460.7 L852.9 455.8 L853.1 451.0 L853.4 446.2 L853.6 441.6 L853.9 437.1 L854.1 432.7 L854.4 428.5 L854.6 424.5 L854.8 420.7 L855.1 417.0 L855.3 413.6 L855.6 410.4 L855.8 407.4 L856.0 404.6 L856.3 402.2 L856.5 399.9 L856.8 398.0 L857.0 396.3 L857.2 394.9 L857.5 393.8 L857.7 393.0 L858.0 392.5 L858.2 392.2 L858.5 392.3 L858.7 392.6 L858.9 393.3 L859.2 394.2 L859.4 395.4 L859.7 397.0 L859.9 398.7 L860.1 400.8 L860.4 403.1 L860.6 405.7 L860.9 408.5 L861.1 411.6 L861.4 414.9 L861.6 418.4 L861.8 422.1 L862.1 426.1 L862.3 430.2 L862.6 434.4 L862.8 438.8 L863.0 443.4 L863.3 448.1 L863.5 452.8 L863.8 457.7 L864.0 462.6 L864.2 467.6 L864.5 472.7 L864.7 477.7 L865.0 482.8 L865.2 487.8 L865.5 492.8 L865.7 497.8 L865.9 502.7 L866.2 507.6 L866.4 512.3 L866.7 516.9 L866.9 521.4 L867.1 525.8 L867.4 530.0 L867.6 534.0 L867.9 537.8 L868.1 541.5 L868.3 544.9 L868.6 548.1 L868.8 551.1 L869.1 553.8 L869.3 556.3 L869.6 558.5 L869.8 560.4 L870.0 562.1 L870.3 563.5 L870.5 564.6 L870.8 565.4 L871.0 566.0 L871.2 566.2 L871.5 566.1 L871.7 565.8 L872.0 565.1 L872.2 564.2 L872.4 563.0 L872.7 561.5 L872.9 559.7 L873.2 557.6 L873.4 555.3 L873.7 552.7 L873.9 549.9 L874.1 546.8 L874.4 543.5 L874.6 540.0 L874.9 536.2 L875.1 532.3 L875.3 528.2 L875.6 523.9 L875.8 519.5 L876.1 515.0 L876.3 510.3 L876.5 505.5 L876.8 500.6 L877.0 495.7 L877.3 490.7 L877.5 485.6 L877.8 480.6 L878.0 475.5 L878.2 470.5 L878.5 465.4 L878.7 460.5 L879.0 455.5 L879.2 450.7 L879.4 446.0 L879.7 441.3 L879.9 436.8 L880.2 432.5 L880.4 428.3 L880.7 424.3 L880.9 420.4 L881.1 416.8 L881.4 413.4 L881.6 410.2 L881.9 407.2 L882.1 404.5 L882.3 402.0 L882.6 399.8 L882.8 397.9 L883.1 396.2 L883.3 394.8 L883.5 393.7 L883.8 392.9 L884.0 392.4 L884.3 392.2 L884.5 392.3 L884.8 392.7 L885.0 393.3 L885.2 394.3 L885.5 395.5 L885.7 397.0 L886.0 398.8 L886.2 400.9 L886.4 403.3 L886.7 405.9 L886.9 408.7 L887.2 411.8 L887.4 415.1 L887.6 418.6 L887.9 422.4 L888.1 426.3 L888.4 430.4 L888.6 434.7 L888.9 439.1 L889.1 443.6 L889.3 448.3 L889.6 453.1 L889.8 458.0 L890.1 462.9 L890.3 467.9 L890.5 472.9 L890.8 478.0 L891.0 483.1 L891.3 488.1 L891.5 493.1 L891.7 498.1 L892.0 503.0 L892.2 507.8 L892.5 512.6 L892.7 517.2 L893.0 521.7 L893.2 526.0 L893.4 530.2 L893.7 534.2 L893.9 538.0 L894.2 541.7 L894.4 545.1 L894.6 548.3 L894.9 551.2 L895.1 553.9 L895.4 556.4 L895.6 558.6 L895.9 560.6 L896.1 562.2 L896.3 563.6 L896.6 564.7 L896.8 565.5 L897.1 566.0 L897.3 566.2 L897.5 566.1 L897.8 565.8 L898.0 565.1 L898.3 564.1 L898.5 562.9 L898.7 561.4 L899.0 559.6 L899.2 557.5 L899.5 555.1 L899.7 552.5 L900.0 549.7 L900.2 546.6 L900.4 543.3 L900.7 539.7 L900.9 536.0 L901.2 532.1 L901.4 528.0 L901.6 523.7 L901.9 519.3 L902.1 514.7 L902.4 510.0 L902.6 505.2 L902.8 500.3 L903.1 495.4 L903.3 490.4 L903.6 485.3 L903.8 480.3 L904.1 475.2 L904.3 470.2 L904.5 465.1 L904.8 460.2 L905.0 455.3 L905.3 450.4 L905.5 445.7 L905.7 441.1 L906.0 436.6 L906.2 432.3 L906.5 428.1 L906.7 424.1 L906.9 420.2 L907.2 416.6 L907.4 413.2 L907.7 410.0 L907.9 407.1 L908.2 404.4 L908.4 401.9 L908.6 399.7 L908.9 397.8 L909.1 396.1 L909.4 394.8 L909.6 393.7 L909.8 392.9 L910.1 392.4 L910.3 392.2 L910.6 392.3 L910.8 392.7 L911.0 393.4 L911.3 394.3 L911.5 395.6 L911.8 397.1 L912.0 399.0 L912.3 401.0 L912.5 403.4 L912.7 406.0 L913.0 408.9 L913.2 412.0 L913.5 415.3 L913.7 418.8 L913.9 422.6 L914.2 426.5 L914.4 430.6 L914.7 434.9 L914.9 439.3 L915.2 443.9 L915.4 448.6 L915.6 453.4 L915.9 458.2 L916.1 463.2 L916.4 468.2 L916.6 473.2 L916.8 478.3 L917.1 483.3 L917.3 488.4 L917.6 493.4 L917.8 498.4 L918.0 503.3 L918.3 508.1 L918.5 512.8 L918.8 517.4 L919.0 521.9 L919.3 526.2 L919.5 530.4 L919.7 534.4 L920.0 538.2 L920.2 541.9 L920.5 545.3 L920.7 548.4 L920.9 551.4 L921.2 554.1 L921.4 556.5 L921.7 558.7 L921.9 560.7 L922.1 562.3 L922.4 563.7 L922.6 564.7 L922.9 565.5 L923.1 566.0 L923.4 566.2 L923.6 566.1 L923.8 565.7 L924.1 565.1 L924.3 564.1 L924.6 562.8 L924.8 561.3 L925.0 559.5 L925.3 557.4 L925.5 555.0 L925.8 552.4 L926.0 549.5 L926.2 546.4 L926.5 543.1 L926.7 539.5 L927.0 535.8 L927.2 531.8 L927.5 527.7 L927.7 523.4 L927.9 519.0 L928.2 514.4 L928.4 509.7 L928.7 504.9 L928.9 500.1 L929.1 495.1 L929.4 490.1 L929.6 485.1 L929.9 480.0 L930.1 474.9 L930.3 469.9 L930.6 464.9 L930.8 459.9 L931.1 455.0 L931.3 450.2 L931.6 445.4 L931.8 440.8 L932.0 436.4 L932.3 432.0 L932.5 427.8 L932.8 423.8 L933.0 420.0 L933.2 416.4 L933.5 413.0 L933.7 409.8 L934.0 406.9 L934.2 404.2 L934.5 401.8 L934.7 399.6 L934.9 397.7 L935.2 396.1 L935.4 394.7 L935.7 393.6 L935.9 392.9 L936.1 392.4 L936.4 392.2 L936.6 392.3 L936.9 392.7 L937.1 393.4 L937.3 394.4 L937.6 395.7 L937.8 397.2 L938.1 399.1 L938.3 401.2 L938.6 403.5 L938.8 406.2 L939.0 409.0 L939.3 412.1 L939.5 415.5 L939.8 419.0 L940.0 422.8 L940.2 426.7 L940.5 430.9 L940.7 435.1 L941.0 439.6 L941.2 444.2 L941.4 448.8 L941.7 453.6 L941.9 458.5 L942.2 463.5 L942.4 468.5 L942.7 473.5 L942.9 478.6 L943.1 483.6 L943.4 488.7 L943.6 493.7 L943.9 498.6 L944.1 503.5 L944.3 508.4 L944.6 513.1 L944.8 517.7 L945.1 522.2 L945.3 526.5 L945.5 530.6 L945.8 534.6 L946.0 538.4 L946.3 542.1 L946.5 545.4 L946.8 548.6 L947.0 551.5 L947.2 554.2 L947.5 556.7 L947.7 558.8 L948.0 560.8 L948.2 562.4 L948.4 563.7 L948.7 564.8 L948.9 565.6 L949.2 566.0 L949.4 566.2 L949.6 566.1 L949.9 565.7 L950.1 565.0 L950.4 564.0 L950.6 562.7 L950.9 561.2 L951.1 559.3 L951.3 557.2 L951.6 554.9 L951.8 552.2 L952.1 549.4 L952.3 546.2 L952.5 542.9 L952.8 539.3 L953.0 535.6 L953.3 531.6 L953.5 527.5 L953.8 523.2 L954.0 518.8 L954.2 514.2 L954.5 509.5 L954.7 504.7 L955.0 499.8 L955.2 494.8 L955.4 489.8 L955.7 484.8 L955.9 479.7 L956.2 474.7 L956.4 469.6 L956.6 464.6 L956.9 459.6 L957.1 454.7 L957.4 449.9 L957.6 445.2 L957.9 440.6 L958.1 436.1 L958.3 431.8 L958.6 427.6 L958.8 423.6 L959.1 419.8 L959.3 416.2 L959.5 412.8 L959.8 409.7 L960.0 406.7 L960.3 404.1 L960.5 401.6 L960.7 399.5 L961.0 397.6 L961.2 396.0 L961.5 394.6 L961.7 393.6 L962.0 392.8 L962.2 392.4 L962.4 392.2 L962.7 392.3 L962.9 392.8 L963.2 393.5 L963.4 394.5 L963.6 395.8 L963.9 397.3 L964.1 399.2 L964.4 401.3 L964.6 403.7 L964.8 406.3 L965.1 409.2 L965.3 412.3 L965.6 415.7 L965.8 419.2 L966.1 423.0 L966.3 427.0 L966.5 431.1 L966.8 435.4 L967.0 439.8 L967.3 444.4 L967.5 449.1 L967.7 453.9 L968.0 458.8 L968.2 463.7 L968.5 468.8 L968.7 473.8 L968.9 478.8 L969.2 483.9 L969.4 489.0 L969.7 494.0 L969.9 498.9 L970.2 503.8 L970.4 508.6 L970.6 513.3 L970.9 517.9 L971.1 522.4 L971.4 526.7 L971.6 530.9 L971.8 534.9 L972.1 538.7 L972.3 542.2 L972.6 545.6 L972.8 548.8 L973.1 551.7 L973.3 554.4 L973.5 556.8 L973.8 559.0 L974.0 560.8 L974.3 562.5 L974.5 563.8 L974.7 564.8 L975.0 565.6 L975.2 566.1 L975.5 566.2 L975.7 566.1 L975.9 565.7 L976.2 565.0 L976.4 564.0 L976.7 562.7 L976.9 561.1 L977.2 559.2 L977.4 557.1 L977.6 554.7 L977.9 552.1 L978.1 549.2 L978.4 546.1 L978.6 542.7 L978.8 539.1 L979.1 535.4 L979.3 531.4 L979.6 527.3 L979.8 523.0 L980.0 518.5 L980.3 513.9 L980.5 509.2 L980.8 504.4 L981.0 499.5 L981.3 494.6 L981.5 489.5 L981.7 484.5 L982.0 479.4 L982.2 474.4 L982.5 469.3 L982.7 464.3 L982.9 459.3 L983.2 454.4 L983.4 449.6 L983.7 444.9 L983.9 440.3 L984.1 435.9 L984.4 431.5 L984.6 427.4 L984.9 423.4 L985.1 419.6 L985.4 416.0 L985.6 412.7 L985.8 409.5 L986.1 406.6 L986.3 403.9 L986.6 401.5 L986.8 399.4 L987.0 397.5 L987.3 395.9 L987.5 394.6 L987.8 393.5 L988.0 392.8 L988.2 392.4 L988.5 392.2 L988.7 392.3 L989.0 392.8 L989.2 393.5 L989.5 394.5 L989.7 395.8 L989.9 397.4 L990.2 399.3 L990.4 401.4 L990.7 403.8 L990.9 406.5 L991.1 409.4 L991.4 412.5 L991.6 415.9 L991.9 419.4 L992.1 423.2 L992.4 427.2 L992.6 431.3 L992.8 435.6 L993.1 440.1 L993.3 444.7 L993.6 449.4 L993.8 454.2 L994.0 459.1 L994.3 464.0 L994.5 469.0 L994.8 474.1 L995.0 479.1 L995.2 484.2 L995.5 489.2 L995.7 494.2 L996.0 499.2 L996.2 504.1 L996.5 508.9 L996.7 513.6 L996.9 518.2 L997.2 522.6 L997.4 527.0 L997.7 531.1 L997.9 535.1 L998.1 538.9 L998.4 542.4 L998.6 545.8 L998.9 549.0 L999.1 551.9 L999.3 554.5 L999.6 556.9 L999.8 559.1 L1000.1 560.9 L1000.3 562.5 L1000.6 563.9 L1000.8 564.9 L1001.0 565.6 L1001.3 566.1 L1001.5 566.2 L1001.8 566.1 L1002.0 565.6" stroke="#EDB526" stroke-width="2.40"/>
<path d="M616.0 444.9 L616.2 449.3 L616.5 453.7 L616.7 458.2 L617.0 462.8 L617.2 467.4 L617.4 471.9 L617.7 476.5 L617.9 481.1 L618.2 485.6 L618.4 490.1 L618.7 494.6 L618.9 499.0 L619.1 503.2 L619.4 507.4 L619.6 511.5 L619.9 515.5 L620.1 519.3 L620.3 522.9 L620.6 526.5 L620.8 529.8 L621.1 533.0 L621.3 535.9 L621.5 538.7 L621.8 541.3 L622.0 543.6 L622.3 545.8 L622.5 547.7 L622.8 549.4 L623.0 550.9 L623.2 552.1 L623.5 553.1 L623.7 553.8 L624.0 553.2 L624.2 552.4 L624.4 551.3 L624.7 550.1 L624.9 548.8 L625.2 547.2 L625.4 545.5 L625.6 543.6 L625.9 541.5 L626.1 539.3 L626.4 536.9 L626.6 534.3 L626.9 531.7 L627.1 528.8 L627.3 525.8 L627.6 522.7 L627.8 519.5 L628.1 516.2 L628.3 512.7 L628.5 509.2 L628.8 505.6 L629.0 501.9 L629.3 498.1 L629.5 494.2 L629.8 490.3 L630.0 486.4 L630.2 482.4 L630.5 478.4 L630.7 474.4 L631.0 470.3 L631.2 466.3 L631.4 462.3 L631.7 458.3 L631.9 454.3 L632.2 450.4 L632.4 446.6 L632.6 442.8 L632.9 439.0 L633.1 435.4 L633.4 431.8 L633.6 428.4 L633.9 425.0 L634.1 421.8 L634.3 418.6 L634.6 415.6 L634.8 412.8 L635.1 410.1 L635.3 407.5 L635.5 405.1 L635.8 402.8 L636.0 400.7 L636.3 398.8 L636.5 397.0 L636.7 395.4 L637.0 394.0 L637.2 392.8 L637.5 391.7 L637.7 390.8 L638.0 390.2 L638.2 390.6 L638.4 391.4 L638.7 392.5 L638.9 393.8 L639.2 395.2 L639.4 396.8 L639.6 398.7 L639.9 400.7 L640.1 402.9 L640.4 405.3 L640.6 407.9 L640.8 410.6 L641.1 413.5 L641.3 416.5 L641.6 419.7 L641.8 423.0 L642.1 426.5 L642.3 430.1 L642.5 433.8 L642.8 437.6 L643.0 441.5 L643.3 445.5 L643.5 449.6 L643.7 453.7 L644.0 457.9 L644.2 462.1 L644.5 466.4 L644.7 470.7 L645.0 475.1 L645.2 479.4 L645.4 483.7 L645.7 488.0 L645.9 492.3 L646.2 496.5 L646.4 500.7 L646.6 504.8 L646.9 508.9 L647.1 512.9 L647.4 516.8 L647.6 520.5 L647.8 524.2 L648.1 527.8 L648.3 531.2 L648.6 534.5 L648.8 537.7 L649.1 540.7 L649.3 543.6 L649.5 546.3 L649.8 548.8 L650.0 551.1 L650.3 553.3 L650.5 555.3 L650.7 557.1 L651.0 558.7 L651.2 560.1 L651.5 561.3 L651.7 562.3 L651.9 563.1 L652.2 563.2 L652.4 562.4 L652.7 561.2 L652.9 559.9 L653.2 558.3 L653.4 556.4 L653.6 554.4 L653.9 552.0 L654.1 549.5 L654.4 546.8 L654.6 543.8 L654.8 540.7 L655.1 537.3 L655.3 533.8 L655.6 530.1 L655.8 526.3 L656.0 522.3 L656.3 518.1 L656.5 513.8 L656.8 509.5 L657.0 505.0 L657.3 500.4 L657.5 495.8 L657.7 491.1 L658.0 486.3 L658.2 481.6 L658.5 476.8 L658.7 472.0 L658.9 467.2 L659.2 462.5 L659.4 457.8 L659.7 453.2 L659.9 448.6 L660.1 444.1 L660.4 439.7 L660.6 435.5 L660.9 431.3 L661.1 427.3 L661.4 423.5 L661.6 419.8 L661.8 416.2 L662.1 412.9 L662.3 409.8 L662.6 406.8 L662.8 404.1 L663.0 401.5 L663.3 399.2 L663.5 397.1 L663.8 395.3 L664.0 393.7 L664.2 392.3 L664.5 391.2 L664.7 390.3 L665.0 390.5 L665.2 391.4 L665.5 392.5 L665.7 393.9 L665.9 395.6 L666.2 397.4 L666.4 399.5 L666.7 401.9 L666.9 404.4 L667.1 407.1 L667.4 410.1 L667.6 413.2 L667.9 416.6 L668.1 420.1 L668.4 423.8 L668.6 427.6 L668.8 431.6 L669.1 435.7 L669.3 439.9 L669.6 444.3 L669.8 448.7 L670.0 453.2 L670.3 457.7 L670.5 462.4 L670.8 467.0 L671.0 471.7 L671.2 476.4 L671.5 481.0 L671.7 485.7 L672.0 490.3 L672.2 494.8 L672.5 499.3 L672.7 503.7 L672.9 508.0 L673.2 512.2 L673.4 516.3 L673.7 520.3 L673.9 524.1 L674.1 527.7 L674.4 531.2 L674.6 534.5 L674.9 537.6 L675.1 540.5 L675.3 543.2 L675.6 545.7 L675.8 548.0 L676.1 550.1 L676.3 551.9 L676.6 553.5 L676.8 554.8 L677.0 555.9 L677.3 556.8 L677.5 556.7 L677.8 555.9 L678.0 554.9 L678.2 553.7 L678.5 552.3 L678.7 550.7 L679.0 549.0 L679.2 547.0 L679.4 544.9 L679.7 542.5 L679.9 540.1 L680.2 537.4 L680.4 534.6 L680.7 531.6 L680.9 528.5 L681.1 525.3 L681.4 521.9 L681.6 518.4 L681.9 514.7 L682.1 511.0 L682.3 507.2 L682.6 503.3 L682.8 499.3 L683.1 495.3 L683.3 491.2 L683.6 487.0 L683.8 482.8 L684.0 478.6 L684.3 474.4 L684.5 470.2 L684.8 466.0 L685.0 461.8 L685.2 457.6 L685.5 453.5 L685.7 449.4 L686.0 445.4 L686.2 441.5 L686.4 437.6 L686.7 433.8 L686.9 430.2 L687.2 426.6 L687.4 423.2 L687.7 419.9 L687.9 416.7 L688.1 413.7 L688.4 410.8 L688.6 408.1 L688.9 405.5 L689.1 403.2 L689.3 400.9 L689.6 398.9 L689.8 397.1 L690.1 395.4 L690.3 394.0 L690.5 392.7 L690.8 391.6 L691.0 390.7 L691.3 390.1 L691.5 390.7 L691.8 391.5 L692.0 392.5 L692.2 393.7 L692.5 395.0 L692.7 396.6 L693.0 398.3 L693.2 400.2 L693.4 402.2 L693.7 404.4 L693.9 406.8 L694.2 409.3 L694.4 411.9 L694.6 414.7 L694.9 417.7 L695.1 420.7 L695.4 423.9 L695.6 427.2 L695.9 430.6 L696.1 434.1 L696.3 437.7 L696.6 441.3 L696.8 445.1 L697.1 448.9 L697.3 452.7 L697.5 456.6 L697.8 460.6 L698.0 464.5 L698.3 468.5 L698.5 472.5 L698.7 476.4 L699.0 480.4 L699.2 484.3 L699.5 488.2 L699.7 492.1 L700.0 495.9 L700.2 499.6 L700.4 503.3 L700.7 506.9 L700.9 510.4 L701.2 513.9 L701.4 517.2 L701.6 520.4 L701.9 523.5 L702.1 526.4 L702.4 529.2 L702.6 531.9 L702.9 534.5 L703.1 536.9 L703.3 539.1 L703.6 541.2 L703.8 543.1 L704.1 544.8 L704.3 546.4 L704.5 547.8 L704.8 549.0 L705.0 550.0 L705.3 550.9 L705.5 551.6 L705.7 551.1 L706.0 550.1 L706.2 549.0 L706.5 547.5 L706.7 545.9 L707.0 544.0 L707.2 541.8 L707.4 539.5 L707.7 536.9 L707.9 534.1 L708.2 531.2 L708.4 528.0 L708.6 524.7 L708.9 521.1 L709.1 517.5 L709.4 513.6 L709.6 509.7 L709.8 505.6 L710.1 501.4 L710.3 497.0 L710.6 492.7 L710.8 488.2 L711.1 483.7 L711.3 479.1 L711.5 474.5 L711.8 469.9 L712.0 465.3 L712.3 460.8 L712.5 456.2 L712.7 451.7 L713.0 447.3 L713.2 442.9 L713.5 438.7 L713.7 434.5 L713.9 430.5 L714.2 426.6 L714.4 422.8 L714.7 419.2 L714.9 415.7 L715.2 412.4 L715.4 409.3 L715.6 406.4 L715.9 403.8 L716.1 401.3 L716.4 399.0 L716.6 397.0 L716.8 395.2 L717.1 393.6 L717.3 392.3 L717.6 391.2 L717.8 390.3 L718.0 390.5 L718.3 391.5 L718.5 392.8 L718.8 394.4 L719.0 396.2 L719.3 398.3 L719.5 400.6 L719.7 403.2 L720.0 406.1 L720.2 409.2 L720.5 412.5 L720.7 416.0 L720.9 419.8 L721.2 423.7 L721.4 427.8 L721.7 432.1 L721.9 436.6 L722.2 441.1 L722.4 445.8 L722.6 450.7 L722.9 455.6 L723.1 460.6 L723.4 465.6 L723.6 470.7 L723.8 475.9 L724.1 481.0 L724.3 486.1 L724.6 491.2 L724.8 496.3 L725.0 501.3 L725.3 506.2 L725.5 511.1 L725.8 515.8 L726.0 520.4 L726.3 524.9 L726.5 529.2 L726.7 533.4 L727.0 537.3 L727.2 541.1 L727.5 544.7 L727.7 548.1 L727.9 551.2 L728.2 554.1 L728.4 556.7 L728.7 559.1 L728.9 561.3 L729.1 563.2 L729.4 564.8 L729.6 566.1 L729.9 567.2 L730.1 567.7 L730.4 566.9 L730.6 565.8 L730.8 564.5 L731.1 563.0 L731.3 561.3 L731.6 559.3 L731.8 557.1 L732.0 554.7 L732.3 552.0 L732.5 549.2 L732.8 546.2 L733.0 542.9 L733.2 539.5 L733.5 536.0 L733.7 532.2 L734.0 528.3 L734.2 524.3 L734.5 520.1 L734.7 515.9 L734.9 511.5 L735.2 507.0 L735.4 502.5 L735.7 497.8 L735.9 493.2 L736.1 488.4 L736.4 483.7 L736.6 478.9 L736.9 474.2 L737.1 469.4 L737.3 464.7 L737.6 460.0 L737.8 455.4 L738.1 450.9 L738.3 446.4 L738.6 442.0 L738.8 437.7 L739.0 433.6 L739.3 429.6 L739.5 425.7 L739.8 421.9 L740.0 418.4 L740.2 415.0 L740.5 411.7 L740.7 408.7 L741.0 405.9 L741.2 403.2 L741.4 400.8 L741.7 398.6 L741.9 396.6 L742.2 394.9 L742.4 393.4 L742.7 392.1 L742.9 391.0 L743.1 390.2 L743.4 390.6 L743.6 391.5 L743.9 392.7 L744.1 394.0 L744.3 395.6 L744.6 397.4 L744.8 399.4 L745.1 401.7 L745.3 404.1 L745.6 406.7 L745.8 409.5 L746.0 412.5 L746.3 415.7 L746.5 419.0 L746.8 422.5 L747.0 426.1 L747.2 429.9 L747.5 433.8 L747.7 437.9 L748.0 442.0 L748.2 446.2 L748.4 450.5 L748.7 454.9 L748.9 459.3 L749.2 463.8 L749.4 468.3 L749.7 472.8 L749.9 477.4 L750.1 481.9 L750.4 486.4 L750.6 490.8 L750.9 495.3 L751.1 499.6 L751.3 503.9 L751.6 508.1 L751.8 512.2 L752.1 516.2 L752.3 520.1 L752.5 523.9 L752.8 527.5 L753.0 530.9 L753.3 534.2 L753.5 537.4 L753.8 540.3 L754.0 543.1 L754.2 545.7 L754.5 548.1 L754.7 550.3 L755.0 552.2 L755.2 554.0 L755.4 555.5 L755.7 556.8 L755.9 557.9 L756.2 558.8 L756.4 559.0 L756.6 558.1 L756.9 557.1 L757.1 555.9 L757.4 554.5 L757.6 552.8 L757.9 551.0 L758.1 548.9 L758.3 546.7 L758.6 544.2 L758.8 541.6 L759.1 538.8 L759.3 535.9 L759.5 532.7 L759.8 529.4 L760.0 526.0 L760.3 522.4 L760.5 518.7 L760.7 514.8 L761.0 510.9 L761.2 506.9 L761.5 502.7 L761.7 498.5 L762.0 494.2 L762.2 489.8 L762.4 485.5 L762.7 481.0 L762.9 476.6 L763.2 472.1 L763.4 467.6 L763.6 463.2 L763.9 458.8 L764.1 454.4 L764.4 450.0 L764.6 445.7 L764.9 441.5 L765.1 437.4 L765.3 433.3 L765.6 429.4 L765.8 425.5 L766.1 421.8 L766.3 418.2 L766.5 414.8 L766.8 411.5 L767.0 408.4 L767.3 405.4 L767.5 402.6 L767.7 400.0 L768.0 397.5 L768.2 395.3 L768.5 393.2 L768.7 391.4 L769.0 389.7 L769.2 388.3 L769.4 387.1 L769.7 386.1 L769.9 385.2 L770.2 385.4 L770.4 386.4 L770.6 387.7 L770.9 389.2 L771.1 391.0 L771.4 393.0 L771.6 395.4 L771.8 397.9 L772.1 400.7 L772.3 403.8 L772.6 407.0 L772.8 410.5 L773.1 414.2 L773.3 418.0 L773.5 422.1 L773.8 426.3 L774.0 430.6 L774.3 435.1 L774.5 439.7 L774.7 444.4 L775.0 449.2 L775.2 454.0 L775.5 458.9 L775.7 463.8 L775.9 468.8 L776.2 473.7 L776.4 478.6 L776.7 483.5 L776.9 488.3 L777.2 493.1 L777.4 497.7 L777.6 502.3 L777.9 506.7 L778.1 511.0 L778.4 515.2 L778.6 519.1 L778.8 522.9 L779.1 526.5 L779.3 529.9 L779.6 533.1 L779.8 536.0 L780.0 538.7 L780.3 541.2 L780.5 543.4 L780.8 545.3 L781.0 547.0 L781.3 548.4 L781.5 549.6 L781.7 550.5 L782.0 550.0 L782.2 549.2 L782.5 548.0 L782.7 546.7 L782.9 545.2 L783.2 543.4 L783.4 541.4 L783.7 539.2 L783.9 536.8 L784.2 534.2 L784.4 531.5 L784.6 528.5 L784.9 525.4 L785.1 522.1 L785.4 518.7 L785.6 515.1 L785.8 511.4 L786.1 507.6 L786.3 503.6 L786.6 499.6 L786.8 495.5 L787.0 491.3 L787.3 487.1 L787.5 482.8 L787.8 478.5 L788.0 474.2 L788.3 469.8 L788.5 465.5 L788.7 461.2 L789.0 457.0 L789.2 452.7 L789.5 448.6 L789.7 444.5 L789.9 440.6 L790.2 436.7 L790.4 432.9 L790.7 429.3 L790.9 425.8 L791.1 422.5 L791.4 419.3 L791.6 416.3 L791.9 413.4 L792.1 410.8 L792.4 408.3 L792.6 406.0 L792.8 404.0 L793.1 402.1 L793.3 400.5 L793.6 399.0 L793.8 397.8 L794.0 396.9 L794.3 396.1 L794.5 396.5 L794.8 397.4 L795.0 398.4 L795.2 399.7 L795.5 401.1 L795.7 402.8 L796.0 404.6 L796.2 406.6 L796.5 408.9 L796.7 411.3 L796.9 413.8 L797.2 416.6 L797.4 419.5 L797.7 422.5 L797.9 425.7 L798.1 429.1 L798.4 432.6 L798.6 436.2 L798.9 439.9 L799.1 443.7 L799.3 447.6 L799.6 451.6 L799.8 455.6 L800.1 459.8 L800.3 463.9 L800.6 468.1 L800.8 472.4 L801.0 476.7 L801.3 480.9 L801.5 485.2 L801.8 489.4 L802.0 493.7 L802.2 497.8 L802.5 502.0 L802.7 506.0 L803.0 510.1 L803.2 514.0 L803.5 517.8 L803.7 521.5 L803.9 525.2 L804.2 528.7 L804.4 532.0 L804.7 535.3 L804.9 538.3 L805.1 541.3 L805.4 544.1 L805.6 546.7 L805.9 549.1 L806.1 551.3 L806.3 553.4 L806.6 555.3 L806.8 557.0 L807.1 558.5 L807.3 559.8 L807.6 560.9 L807.8 561.8 L808.0 562.5 L808.3 561.8 L808.5 561.1 L808.8 560.1 L809.0 559.0 L809.2 557.7 L809.5 556.3 L809.7 554.7 L810.0 552.9 L810.2 551.0 L810.4 548.9 L810.7 546.7 L810.9 544.4 L811.2 541.9 L811.4 539.3 L811.7 536.5 L811.9 533.6 L812.1 530.6 L812.4 527.6 L812.6 524.3 L812.9 521.0 L813.1 517.7 L813.3 514.2 L813.6 510.6 L813.8 507.0 L814.1 503.4 L814.3 499.6 L814.5 495.9 L814.8 492.1 L815.0 488.2 L815.3 484.4 L815.5 480.5 L815.8 476.7 L816.0 472.8 L816.2 469.0 L816.5 465.2 L816.7 461.4 L817.0 457.6 L817.2 453.9 L817.4 450.3 L817.7 446.7 L817.9 443.2 L818.2 439.8 L818.4 436.5 L818.6 433.2 L818.9 430.1 L819.1 427.0 L819.4 424.1 L819.6 421.3 L819.9 418.7 L820.1 416.1 L820.3 413.7 L820.6 411.4 L820.8 409.3 L821.1 407.3 L821.3 405.5 L821.5 403.9 L821.8 402.3 L822.0 401.0 L822.3 399.8 L822.5 398.8 L822.8 398.0 L823.0 397.3 L823.2 397.5 L823.5 398.6 L823.7 399.9 L824.0 401.6 L824.2 403.5 L824.4 405.7 L824.7 408.3 L824.9 411.1 L825.2 414.1 L825.4 417.4 L825.6 421.0 L825.9 424.8 L826.1 428.7 L826.4 432.9 L826.6 437.3 L826.9 441.8 L827.1 446.5 L827.3 451.3 L827.6 456.2 L827.8 461.2 L828.1 466.3 L828.3 471.4 L828.5 476.6 L828.8 481.7 L829.0 486.8 L829.3 491.9 L829.5 497.0 L829.7 501.9 L830.0 506.8 L830.2 511.5 L830.5 516.1 L830.7 520.5 L831.0 524.8 L831.2 528.9 L831.4 532.7 L831.7 536.4 L831.9 539.8 L832.2 542.9 L832.4 545.8 L832.6 548.5 L832.9 550.8 L833.1 552.9 L833.4 554.6 L833.6 556.1 L833.8 557.3 L834.1 558.1 L834.3 557.4 L834.6 556.5 L834.8 555.4 L835.1 554.1 L835.3 552.6 L835.5 550.9 L835.8 549.0 L836.0 547.0 L836.3 544.7 L836.5 542.2 L836.7 539.6 L837.0 536.8 L837.2 533.9 L837.5 530.8 L837.7 527.5 L838.0 524.1 L838.2 520.6 L838.4 517.0 L838.7 513.2 L838.9 509.4 L839.2 505.4 L839.4 501.4 L839.6 497.2 L839.9 493.1 L840.1 488.8 L840.4 484.6 L840.6 480.3 L840.8 475.9 L841.1 471.6 L841.3 467.3 L841.6 463.0 L841.8 458.7 L842.1 454.4 L842.3 450.2 L842.5 446.1 L842.8 442.0 L843.0 438.0 L843.3 434.0 L843.5 430.2 L843.7 426.5 L844.0 422.9 L844.2 419.4 L844.5 416.1 L844.7 412.9 L844.9 409.9 L845.2 407.0 L845.4 404.3 L845.7 401.7 L845.9 399.3 L846.2 397.1 L846.4 395.1 L846.6 393.3 L846.9 391.7 L847.1 390.3 L847.4 389.1 L847.6 388.0 L847.8 387.2 L848.1 387.1 L848.3 387.9 L848.6 388.9 L848.8 390.1 L849.0 391.6 L849.3 393.3 L849.5 395.1 L849.8 397.2 L850.0 399.5 L850.3 402.0 L850.5 404.7 L850.7 407.5 L851.0 410.5 L851.2 413.7 L851.5 417.1 L851.7 420.6 L851.9 424.2 L852.2 427.9 L852.4 431.8 L852.7 435.8 L852.9 439.9 L853.1 444.1 L853.4 448.3 L853.6 452.6 L853.9 456.9 L854.1 461.3 L854.4 465.7 L854.6 470.1 L854.8 474.5 L855.1 478.9 L855.3 483.3 L855.6 487.6 L855.8 491.9 L856.0 496.1 L856.3 500.2 L856.5 504.3 L856.8 508.2 L857.0 512.1 L857.2 515.8 L857.5 519.4 L857.7 522.8 L858.0 526.1 L858.2 529.2 L858.5 532.1 L858.7 534.9 L858.9 537.5 L859.2 539.9 L859.4 542.1 L859.7 544.1 L859.9 545.9 L860.1 547.5 L860.4 548.9 L860.6 550.0 L860.9 551.0 L861.1 551.7 L861.4 550.9 L861.6 549.9 L861.8 548.7 L862.1 547.2 L862.3 545.5 L862.6 543.5 L862.8 541.3 L863.0 538.9 L863.3 536.3 L863.5 533.4 L863.8 530.4 L864.0 527.2 L864.2 523.8 L864.5 520.2 L864.7 516.4 L865.0 512.6 L865.2 508.6 L865.5 504.4 L865.7 500.2 L865.9 495.9 L866.2 491.5 L866.4 487.0 L866.7 482.5 L866.9 478.0 L867.1 473.5 L867.4 468.9 L867.6 464.4 L867.9 459.9 L868.1 455.5 L868.3 451.1 L868.6 446.8 L868.8 442.6 L869.1 438.6 L869.3 434.6 L869.6 430.8 L869.8 427.1 L870.0 423.6 L870.3 420.2 L870.5 417.1 L870.8 414.1 L871.0 411.4 L871.2 408.8 L871.5 406.5 L871.7 404.4 L872.0 402.5 L872.2 400.9 L872.4 399.5 L872.7 398.4 L872.9 397.5 L873.2 397.3 L873.4 398.2 L873.7 399.4 L873.9 400.8 L874.1 402.4 L874.4 404.3 L874.6 406.4 L874.9 408.8 L875.1 411.4 L875.3 414.2 L875.6 417.3 L875.8 420.5 L876.1 424.0 L876.3 427.6 L876.5 431.4 L876.8 435.4 L877.0 439.5 L877.3 443.7 L877.5 448.0 L877.8 452.5 L878.0 457.0 L878.2 461.6 L878.5 466.3 L878.7 471.0 L879.0 475.7 L879.2 480.4 L879.4 485.2 L879.7 489.8 L879.9 494.5 L880.2 499.1 L880.4 503.6 L880.7 508.0 L880.9 512.4 L881.1 516.6 L881.4 520.6 L881.6 524.6 L881.9 528.3 L882.1 531.9 L882.3 535.3 L882.6 538.5 L882.8 541.5 L883.1 544.3 L883.3 546.9 L883.5 549.2 L883.8 551.3 L884.0 553.1 L884.3 554.7 L884.5 556.1 L884.8 557.2 L885.0 558.0 L885.2 557.7 L885.5 557.0 L885.7 556.1 L886.0 555.0 L886.2 553.8 L886.4 552.5 L886.7 551.0 L886.9 549.3 L887.2 547.5 L887.4 545.6 L887.6 543.5 L887.9 541.3 L888.1 539.0 L888.4 536.5 L888.6 533.9 L888.9 531.2 L889.1 528.3 L889.3 525.4 L889.6 522.3 L889.8 519.2 L890.1 516.0 L890.3 512.6 L890.5 509.3 L890.8 505.8 L891.0 502.3 L891.3 498.7 L891.5 495.0 L891.7 491.4 L892.0 487.6 L892.2 483.9 L892.5 480.1 L892.7 476.4 L893.0 472.6 L893.2 468.8 L893.4 465.0 L893.7 461.3 L893.9 457.6 L894.2 453.9 L894.4 450.2 L894.6 446.6 L894.9 443.1 L895.1 439.6 L895.4 436.2 L895.6 432.9 L895.9 429.6 L896.1 426.5 L896.3 423.4 L896.6 420.4 L896.8 417.6 L897.1 414.8 L897.3 412.2 L897.5 409.7 L897.8 407.3 L898.0 405.1 L898.3 403.0 L898.5 401.0 L898.7 399.2 L899.0 397.5 L899.2 396.0 L899.5 394.6 L899.7 393.4 L900.0 392.3 L900.2 391.4 L900.4 390.6 L900.7 390.1 L900.9 390.9 L901.2 392.0 L901.4 393.4 L901.6 395.1 L901.9 397.1 L902.1 399.4 L902.4 401.9 L902.6 404.7 L902.8 407.7 L903.1 411.0 L903.3 414.5 L903.6 418.2 L903.8 422.1 L904.1 426.2 L904.3 430.5 L904.5 434.9 L904.8 439.5 L905.0 444.2 L905.3 449.0 L905.5 453.9 L905.7 458.9 L906.0 463.9 L906.2 468.9 L906.5 474.0 L906.7 479.0 L906.9 484.0 L907.2 489.0 L907.4 493.9 L907.7 498.7 L907.9 503.5 L908.2 508.1 L908.4 512.5 L908.6 516.8 L908.9 521.0 L909.1 524.9 L909.4 528.7 L909.6 532.2 L909.8 535.5 L910.1 538.6 L910.3 541.5 L910.6 544.0 L910.8 546.3 L911.0 548.4 L911.3 550.1 L911.5 551.6 L911.8 552.8 L912.0 553.7 L912.3 553.3 L912.5 552.3 L912.7 551.2 L913.0 549.8 L913.2 548.2 L913.5 546.4 L913.7 544.4 L913.9 542.2 L914.2 539.7 L914.4 537.1 L914.7 534.3 L914.9 531.3 L915.2 528.1 L915.4 524.7 L915.6 521.2 L915.9 517.6 L916.1 513.8 L916.4 509.8 L916.6 505.8 L916.8 501.7 L917.1 497.4 L917.3 493.1 L917.6 488.8 L917.8 484.3 L918.0 479.9 L918.3 475.4 L918.5 470.9 L918.8 466.4 L919.0 461.9 L919.3 457.4 L919.5 453.0 L919.7 448.6 L920.0 444.3 L920.2 440.1 L920.5 435.9 L920.7 431.9 L920.9 428.0 L921.2 424.2 L921.4 420.5 L921.7 417.0 L921.9 413.6 L922.1 410.5 L922.4 407.4 L922.6 404.6 L922.9 402.0 L923.1 399.5 L923.4 397.3 L923.6 395.3 L923.8 393.5 L924.1 391.9 L924.3 390.5 L924.6 389.4 L924.8 388.5 L925.0 388.0 L925.3 388.8 L925.5 389.9 L925.8 391.2 L926.0 392.7 L926.2 394.4 L926.5 396.4 L926.7 398.6 L927.0 401.0 L927.2 403.6 L927.5 406.4 L927.7 409.4 L927.9 412.6 L928.2 416.0 L928.4 419.6 L928.7 423.3 L928.9 427.1 L929.1 431.1 L929.4 435.3 L929.6 439.5 L929.9 443.8 L930.1 448.3 L930.3 452.8 L930.6 457.3 L930.8 462.0 L931.1 466.6 L931.3 471.3 L931.6 476.0 L931.8 480.6 L932.0 485.3 L932.3 489.9 L932.5 494.5 L932.8 499.0 L933.0 503.5 L933.2 507.8 L933.5 512.1 L933.7 516.2 L934.0 520.3 L934.2 524.2 L934.5 527.9 L934.7 531.5 L934.9 534.9 L935.2 538.1 L935.4 541.2 L935.7 544.0 L935.9 546.7 L936.1 549.1 L936.4 551.4 L936.6 553.4 L936.9 555.2 L937.1 556.7 L937.3 558.1 L937.6 559.2 L937.8 560.0 L938.1 559.8 L938.3 558.8 L938.6 557.5 L938.8 555.9 L939.0 553.9 L939.3 551.7 L939.5 549.3 L939.8 546.5 L940.0 543.5 L940.2 540.3 L940.5 536.8 L940.7 533.1 L941.0 529.1 L941.2 525.0 L941.4 520.7 L941.7 516.3 L941.9 511.7 L942.2 506.9 L942.4 502.1 L942.7 497.2 L942.9 492.2 L943.1 487.2 L943.4 482.1 L943.6 477.1 L943.9 472.0 L944.1 467.0 L944.3 462.1 L944.6 457.2 L944.8 452.4 L945.1 447.8 L945.3 443.2 L945.5 438.9 L945.8 434.7 L946.0 430.7 L946.3 426.9 L946.5 423.3 L946.8 419.9 L947.0 416.8 L947.2 414.0 L947.5 411.4 L947.7 409.1 L948.0 407.1 L948.2 405.3 L948.4 403.9 L948.7 402.7 L948.9 401.9 L949.2 402.4 L949.4 403.1 L949.6 403.9 L949.9 404.8 L950.1 405.9 L950.4 407.1 L950.6 408.4 L950.9 409.9 L951.1 411.4 L951.3 413.2 L951.6 415.0 L951.8 416.9 L952.1 419.0 L952.3 421.2 L952.5 423.4 L952.8 425.8 L953.0 428.3 L953.3 430.9 L953.5 433.5 L953.8 436.3 L954.0 439.1 L954.2 442.0 L954.5 445.0 L954.7 448.0 L955.0 451.1 L955.2 454.3 L955.4 457.5 L955.7 460.7 L955.9 463.9 L956.2 467.2 L956.4 470.5 L956.6 473.9 L956.9 477.2 L957.1 480.5 L957.4 483.9 L957.6 487.2 L957.9 490.5 L958.1 493.7 L958.3 497.0 L958.6 500.2 L958.8 503.4 L959.1 506.5 L959.3 509.5 L959.5 512.5 L959.8 515.5 L960.0 518.3 L960.3 521.1 L960.5 523.8 L960.7 526.4 L961.0 528.9 L961.2 531.4 L961.5 533.7 L961.7 535.9 L962.0 538.0 L962.2 540.0 L962.4 541.9 L962.7 543.6 L962.9 545.2 L963.2 546.8 L963.4 548.1 L963.6 549.4 L963.9 550.5 L964.1 551.5 L964.4 552.3 L964.6 553.1 L964.8 553.6 L965.1 553.4 L965.3 552.4 L965.6 551.2 L965.8 549.8 L966.1 548.0 L966.3 546.1 L966.5 543.8 L966.8 541.4 L967.0 538.7 L967.3 535.7 L967.5 532.6 L967.7 529.3 L968.0 525.7 L968.2 522.0 L968.5 518.1 L968.7 514.1 L968.9 509.9 L969.2 505.5 L969.4 501.1 L969.7 496.6 L969.9 491.9 L970.2 487.2 L970.4 482.5 L970.6 477.7 L970.9 472.9 L971.1 468.1 L971.4 463.3 L971.6 458.5 L971.8 453.8 L972.1 449.2 L972.3 444.6 L972.6 440.1 L972.8 435.7 L973.1 431.5 L973.3 427.4 L973.5 423.4 L973.8 419.6 L974.0 416.0 L974.3 412.6 L974.5 409.4 L974.7 406.4 L975.0 403.6 L975.2 401.0 L975.5 398.7 L975.7 396.6 L975.9 394.8 L976.2 393.2 L976.4 391.9 L976.7 390.8 L976.9 390.1 L977.2 390.7 L977.4 391.4 L977.6 392.4 L977.9 393.5 L978.1 394.7 L978.4 396.2 L978.6 397.8 L978.8 399.5 L979.1 401.4 L979.3 403.4 L979.6 405.6 L979.8 407.9 L980.0 410.4 L980.3 413.0 L980.5 415.7 L980.8 418.6 L981.0 421.5 L981.3 424.6 L981.5 427.8 L981.7 431.0 L982.0 434.4 L982.2 437.8 L982.5 441.4 L982.7 444.9 L982.9 448.6 L983.2 452.3 L983.4 456.0 L983.7 459.8 L983.9 463.5 L984.1 467.4 L984.4 471.2 L984.6 475.0 L984.9 478.8 L985.1 482.6 L985.4 486.4 L985.6 490.1 L985.8 493.8 L986.1 497.5 L986.3 501.1 L986.6 504.6 L986.8 508.1 L987.0 511.5 L987.3 514.8 L987.5 518.0 L987.8 521.1 L988.0 524.1 L988.2 527.0 L988.5 529.8 L988.7 532.4 L989.0 535.0 L989.2 537.3 L989.5 539.6 L989.7 541.7 L989.9 543.6 L990.2 545.5 L990.4 547.1 L990.7 548.6 L990.9 549.9 L991.1 551.1 L991.4 552.1 L991.6 552.9 L991.9 553.6 L992.1 553.5 L992.4 552.7 L992.6 551.8 L992.8 550.6 L993.1 549.3 L993.3 547.8 L993.6 546.1 L993.8 544.3 L994.0 542.3 L994.3 540.1 L994.5 537.7 L994.8 535.2 L995.0 532.5 L995.2 529.7 L995.5 526.8 L995.7 523.7 L996.0 520.5 L996.2 517.1 L996.5 513.7 L996.7 510.2 L996.9 506.5 L997.2 502.8 L997.4 499.1 L997.7 495.2 L997.9 491.3 L998.1 487.4 L998.4 483.4 L998.6 479.4 L998.9 475.4 L999.1 471.4 L999.3 467.4 L999.6 463.5 L999.8 459.5 L1000.1 455.6 L1000.3 451.7 L1000.6 447.9 L1000.8 444.2 L1001.0 440.5 L1001.3 437.0 L1001.5 433.5 L1001.8 430.1 L1002.0 426.9" stroke="#0000FF" stroke-width="2.70" stroke-dasharray="10 9"/>
<path d="M616.0 420.1 L616.2 421.2 L616.5 422.3 L616.7 423.6 L617.0 425.0 L617.2 426.5 L617.4 428.1 L617.7 429.8 L617.9 431.5 L618.2 433.4 L618.4 435.3 L618.7 437.4 L618.9 439.5 L619.1 441.7 L619.4 443.9 L619.6 446.2 L619.9 448.6 L620.1 451.0 L620.3 453.4 L620.6 455.9 L620.8 458.4 L621.1 461.0 L621.3 463.5 L621.5 466.1 L621.8 468.7 L622.0 471.3 L622.3 473.9 L622.5 476.4 L622.8 479.0 L623.0 481.5 L623.2 484.0 L623.5 486.4 L623.7 488.8 L624.0 491.2 L624.2 493.5 L624.4 495.8 L624.7 497.9 L624.9 500.0 L625.2 502.1 L625.4 504.0 L625.6 505.9 L625.9 507.7 L626.1 509.3 L626.4 510.9 L626.6 512.4 L626.9 513.8 L627.1 515.1 L627.3 516.2 L627.6 517.3 L627.8 518.3 L628.1 519.1 L628.3 519.8 L628.5 520.4 L628.8 519.8 L629.0 519.1 L629.3 518.3 L629.5 517.4 L629.8 516.3 L630.0 515.1 L630.2 513.9 L630.5 512.5 L630.7 511.0 L631.0 509.5 L631.2 507.8 L631.4 506.0 L631.7 504.2 L631.9 502.2 L632.2 500.2 L632.4 498.1 L632.6 496.0 L632.9 493.8 L633.1 491.5 L633.4 489.2 L633.6 486.8 L633.9 484.4 L634.1 481.9 L634.3 479.4 L634.6 476.9 L634.8 474.4 L635.1 471.9 L635.3 469.4 L635.5 466.9 L635.8 464.4 L636.0 461.9 L636.3 459.4 L636.5 457.0 L636.7 454.6 L637.0 452.2 L637.2 449.9 L637.5 447.7 L637.7 445.5 L638.0 443.4 L638.2 441.4 L638.4 439.4 L638.7 437.5 L638.9 435.7 L639.2 434.0 L639.4 432.4 L639.6 430.9 L639.9 429.5 L640.1 428.2 L640.4 427.0 L640.6 425.9 L640.8 424.9 L641.1 424.0 L641.3 423.2 L641.6 422.6 L641.8 422.9 L642.1 423.9 L642.3 425.0 L642.5 426.3 L642.8 427.8 L643.0 429.4 L643.3 431.2 L643.5 433.2 L643.7 435.3 L644.0 437.5 L644.2 439.9 L644.5 442.5 L644.7 445.1 L645.0 447.9 L645.2 450.8 L645.4 453.8 L645.7 457.0 L645.9 460.2 L646.2 463.5 L646.4 466.9 L646.6 470.3 L646.9 473.9 L647.1 477.5 L647.4 481.1 L647.6 484.8 L647.8 488.5 L648.1 492.2 L648.3 495.9 L648.6 499.6 L648.8 503.4 L649.1 507.1 L649.3 510.7 L649.5 514.4 L649.8 517.9 L650.0 521.5 L650.3 524.9 L650.5 528.3 L650.7 531.6 L651.0 534.9 L651.2 538.0 L651.5 541.0 L651.7 543.9 L651.9 546.7 L652.2 549.4 L652.4 551.9 L652.7 554.3 L652.9 556.5 L653.2 558.6 L653.4 560.6 L653.6 562.4 L653.9 564.0 L654.1 565.5 L654.4 566.8 L654.6 568.0 L654.8 568.9 L655.1 569.1 L655.3 568.2 L655.6 567.0 L655.8 565.7 L656.0 564.2 L656.3 562.6 L656.5 560.8 L656.8 558.8 L657.0 556.7 L657.3 554.4 L657.5 552.0 L657.7 549.4 L658.0 546.8 L658.2 543.9 L658.5 541.0 L658.7 537.9 L658.9 534.7 L659.2 531.5 L659.4 528.1 L659.7 524.7 L659.9 521.1 L660.1 517.5 L660.4 513.9 L660.6 510.2 L660.9 506.5 L661.1 502.7 L661.4 498.9 L661.6 495.2 L661.8 491.4 L662.1 487.6 L662.3 483.9 L662.6 480.1 L662.8 476.5 L663.0 472.8 L663.3 469.3 L663.5 465.8 L663.8 462.4 L664.0 459.0 L664.2 455.8 L664.5 452.7 L664.7 449.7 L665.0 446.8 L665.2 444.0 L665.5 441.3 L665.7 438.8 L665.9 436.5 L666.2 434.3 L666.4 432.2 L666.7 430.3 L666.9 428.6 L667.1 427.0 L667.4 425.6 L667.6 424.3 L667.9 423.3 L668.1 422.4 L668.4 423.2 L668.6 424.2 L668.8 425.3 L669.1 426.6 L669.3 428.0 L669.6 429.6 L669.8 431.3 L670.0 433.2 L670.3 435.2 L670.5 437.3 L670.8 439.6 L671.0 442.0 L671.2 444.5 L671.5 447.2 L671.7 449.9 L672.0 452.7 L672.2 455.7 L672.5 458.7 L672.7 461.8 L672.9 465.0 L673.2 468.2 L673.4 471.5 L673.7 474.9 L673.9 478.2 L674.1 481.6 L674.4 485.1 L674.6 488.5 L674.9 491.9 L675.1 495.4 L675.3 498.8 L675.6 502.2 L675.8 505.5 L676.1 508.8 L676.3 512.1 L676.6 515.3 L676.8 518.4 L677.0 521.5 L677.3 524.4 L677.5 527.3 L677.8 530.1 L678.0 532.8 L678.2 535.4 L678.5 537.8 L678.7 540.1 L679.0 542.3 L679.2 544.4 L679.4 546.3 L679.7 548.1 L679.9 549.8 L680.2 551.2 L680.4 552.6 L680.7 553.8 L680.9 554.8 L681.1 555.7 L681.4 555.5 L681.6 554.7 L681.9 553.7 L682.1 552.6 L682.3 551.3 L682.6 549.9 L682.8 548.4 L683.1 546.7 L683.3 544.9 L683.6 543.0 L683.8 541.0 L684.0 538.9 L684.3 536.6 L684.5 534.2 L684.8 531.8 L685.0 529.2 L685.2 526.5 L685.5 523.8 L685.7 521.0 L686.0 518.1 L686.2 515.1 L686.4 512.1 L686.7 509.0 L686.9 505.9 L687.2 502.7 L687.4 499.5 L687.7 496.3 L687.9 493.1 L688.1 489.8 L688.4 486.6 L688.6 483.3 L688.9 480.1 L689.1 476.9 L689.3 473.7 L689.6 470.6 L689.8 467.5 L690.1 464.5 L690.3 461.5 L690.5 458.5 L690.8 455.7 L691.0 452.9 L691.3 450.2 L691.5 447.6 L691.8 445.1 L692.0 442.7 L692.2 440.4 L692.5 438.2 L692.7 436.1 L693.0 434.2 L693.2 432.3 L693.4 430.6 L693.7 429.0 L693.9 427.6 L694.2 426.3 L694.4 425.1 L694.6 424.0 L694.9 423.1 L695.1 422.4 L695.4 423.0 L695.6 423.8 L695.9 424.7 L696.1 425.7 L696.3 426.8 L696.6 428.0 L696.8 429.3 L697.1 430.8 L697.3 432.3 L697.5 434.0 L697.8 435.7 L698.0 437.6 L698.3 439.5 L698.5 441.5 L698.7 443.7 L699.0 445.8 L699.2 448.1 L699.5 450.5 L699.7 452.9 L700.0 455.3 L700.2 457.9 L700.4 460.4 L700.7 463.1 L700.9 465.7 L701.2 468.4 L701.4 471.2 L701.6 473.9 L701.9 476.7 L702.1 479.4 L702.4 482.2 L702.6 485.0 L702.9 487.7 L703.1 490.5 L703.3 493.2 L703.6 495.9 L703.8 498.6 L704.1 501.2 L704.3 503.8 L704.5 506.4 L704.8 508.8 L705.0 511.3 L705.3 513.6 L705.5 515.9 L705.7 518.1 L706.0 520.2 L706.2 522.3 L706.5 524.2 L706.7 526.1 L707.0 527.9 L707.2 529.5 L707.4 531.1 L707.7 532.6 L707.9 533.9 L708.2 535.2 L708.4 536.3 L708.6 537.3 L708.9 538.2 L709.1 539.0 L709.4 539.7 L709.6 539.2 L709.8 538.2 L710.1 537.1 L710.3 535.9 L710.6 534.4 L710.8 532.8 L711.1 531.0 L711.3 529.1 L711.5 527.0 L711.8 524.8 L712.0 522.5 L712.3 520.0 L712.5 517.4 L712.7 514.7 L713.0 511.8 L713.2 508.9 L713.5 505.9 L713.7 502.8 L713.9 499.6 L714.2 496.4 L714.4 493.1 L714.7 489.8 L714.9 486.5 L715.2 483.1 L715.4 479.8 L715.6 476.4 L715.9 473.0 L716.1 469.7 L716.4 466.4 L716.6 463.2 L716.8 460.0 L717.1 456.9 L717.3 453.9 L717.6 450.9 L717.8 448.1 L718.0 445.3 L718.3 442.7 L718.5 440.2 L718.8 437.8 L719.0 435.6 L719.3 433.5 L719.5 431.5 L719.7 429.7 L720.0 428.1 L720.2 426.6 L720.5 425.3 L720.7 424.2 L720.9 423.2 L721.2 422.4 L721.4 423.2 L721.7 424.2 L721.9 425.4 L722.2 426.8 L722.4 428.3 L722.6 430.0 L722.9 431.9 L723.1 433.9 L723.4 436.1 L723.6 438.4 L723.8 440.9 L724.1 443.5 L724.3 446.2 L724.6 449.0 L724.8 452.0 L725.0 455.0 L725.3 458.2 L725.5 461.4 L725.8 464.7 L726.0 468.0 L726.3 471.5 L726.5 474.9 L726.7 478.4 L727.0 481.9 L727.2 485.3 L727.5 488.8 L727.7 492.3 L727.9 495.7 L728.2 499.1 L728.4 502.5 L728.7 505.8 L728.9 509.0 L729.1 512.1 L729.4 515.1 L729.6 518.1 L729.9 520.9 L730.1 523.6 L730.4 526.2 L730.6 528.6 L730.8 530.9 L731.1 533.0 L731.3 535.0 L731.6 536.9 L731.8 538.5 L732.0 540.0 L732.3 541.3 L732.5 542.5 L732.8 543.5 L733.0 544.0 L733.2 543.2 L733.5 542.3 L733.7 541.3 L734.0 540.1 L734.2 538.7 L734.5 537.3 L734.7 535.7 L734.9 533.9 L735.2 532.1 L735.4 530.1 L735.7 528.0 L735.9 525.8 L736.1 523.5 L736.4 521.1 L736.6 518.5 L736.9 515.9 L737.1 513.2 L737.3 510.5 L737.6 507.6 L737.8 504.7 L738.1 501.8 L738.3 498.7 L738.6 495.7 L738.8 492.6 L739.0 489.5 L739.3 486.4 L739.5 483.3 L739.8 480.1 L740.0 477.0 L740.2 473.9 L740.5 470.8 L740.7 467.8 L741.0 464.8 L741.2 461.8 L741.4 458.9 L741.7 456.0 L741.9 453.3 L742.2 450.6 L742.4 448.0 L742.7 445.5 L742.9 443.0 L743.1 440.7 L743.4 438.5 L743.6 436.4 L743.9 434.4 L744.1 432.6 L744.3 430.8 L744.6 429.2 L744.8 427.8 L745.1 426.4 L745.3 425.2 L745.6 424.2 L745.8 423.3 L746.0 422.5 L746.3 423.0 L746.5 423.8 L746.8 424.9 L747.0 426.0 L747.2 427.3 L747.5 428.7 L747.7 430.3 L748.0 432.0 L748.2 433.9 L748.4 435.8 L748.7 437.9 L748.9 440.1 L749.2 442.4 L749.4 444.9 L749.7 447.4 L749.9 450.0 L750.1 452.7 L750.4 455.5 L750.6 458.4 L750.9 461.3 L751.1 464.3 L751.3 467.3 L751.6 470.4 L751.8 473.5 L752.1 476.7 L752.3 479.9 L752.5 483.1 L752.8 486.2 L753.0 489.4 L753.3 492.6 L753.5 495.7 L753.8 498.9 L754.0 501.9 L754.2 505.0 L754.5 508.0 L754.7 510.9 L755.0 513.7 L755.2 516.5 L755.4 519.2 L755.7 521.8 L755.9 524.3 L756.2 526.7 L756.4 529.0 L756.6 531.2 L756.9 533.2 L757.1 535.2 L757.4 537.0 L757.6 538.7 L757.9 540.2 L758.1 541.6 L758.3 542.9 L758.6 544.0 L758.8 545.0 L759.1 545.9 L759.3 546.0 L759.5 545.1 L759.8 544.1 L760.0 542.9 L760.3 541.6 L760.5 540.1 L760.7 538.4 L761.0 536.6 L761.2 534.7 L761.5 532.6 L761.7 530.4 L762.0 528.1 L762.2 525.7 L762.4 523.1 L762.7 520.4 L762.9 517.6 L763.2 514.7 L763.4 511.7 L763.6 508.7 L763.9 505.6 L764.1 502.4 L764.4 499.1 L764.6 495.8 L764.9 492.5 L765.1 489.2 L765.3 485.8 L765.6 482.4 L765.8 479.0 L766.1 475.6 L766.3 472.3 L766.5 468.9 L766.8 465.7 L767.0 462.4 L767.3 459.2 L767.5 456.1 L767.7 453.0 L768.0 450.1 L768.2 447.2 L768.5 444.4 L768.7 441.7 L769.0 439.1 L769.2 436.7 L769.4 434.3 L769.7 432.1 L769.9 430.1 L770.2 428.1 L770.4 426.3 L770.6 424.7 L770.9 423.2 L771.1 421.9 L771.4 420.7 L771.6 419.7 L771.8 418.8 L772.1 419.0 L772.3 420.1 L772.6 421.3 L772.8 422.6 L773.1 424.2 L773.3 425.9 L773.5 427.8 L773.8 429.8 L774.0 432.0 L774.3 434.3 L774.5 436.8 L774.7 439.5 L775.0 442.2 L775.2 445.1 L775.5 448.1 L775.7 451.3 L775.9 454.5 L776.2 457.9 L776.4 461.4 L776.7 464.9 L776.9 468.5 L777.2 472.2 L777.4 476.0 L777.6 479.8 L777.9 483.6 L778.1 487.5 L778.4 491.5 L778.6 495.4 L778.8 499.3 L779.1 503.3 L779.3 507.2 L779.6 511.1 L779.8 515.0 L780.0 518.8 L780.3 522.6 L780.5 526.4 L780.8 530.0 L781.0 533.6 L781.3 537.1 L781.5 540.6 L781.7 543.9 L782.0 547.1 L782.2 550.2 L782.5 553.2 L782.7 556.0 L782.9 558.7 L783.2 561.3 L783.4 563.7 L783.7 566.0 L783.9 568.1 L784.2 570.1 L784.4 571.9 L784.6 573.6 L784.9 575.0 L785.1 576.3 L785.4 577.5 L785.6 578.4 L785.8 577.7 L786.1 576.3 L786.3 574.7 L786.6 572.8 L786.8 570.7 L787.0 568.4 L787.3 565.8 L787.5 563.0 L787.8 560.0 L788.0 556.8 L788.3 553.3 L788.5 549.7 L788.7 545.9 L789.0 541.9 L789.2 537.8 L789.5 533.6 L789.7 529.2 L789.9 524.7 L790.2 520.0 L790.4 515.4 L790.7 510.6 L790.9 505.8 L791.1 500.9 L791.4 496.1 L791.6 491.2 L791.9 486.4 L792.1 481.5 L792.4 476.8 L792.6 472.0 L792.8 467.4 L793.1 462.8 L793.3 458.4 L793.6 454.1 L793.8 449.9 L794.0 445.9 L794.3 442.0 L794.5 438.3 L794.8 434.8 L795.0 431.5 L795.2 428.4 L795.5 425.5 L795.7 422.8 L796.0 420.4 L796.2 418.2 L796.5 416.2 L796.7 414.5 L796.9 413.0 L797.2 411.8 L797.4 412.2 L797.7 413.0 L797.9 413.9 L798.1 415.0 L798.4 416.2 L798.6 417.6 L798.9 419.0 L799.1 420.6 L799.3 422.3 L799.6 424.1 L799.8 426.1 L800.1 428.1 L800.3 430.2 L800.6 432.5 L800.8 434.8 L801.0 437.2 L801.3 439.8 L801.5 442.4 L801.8 445.0 L802.0 447.8 L802.2 450.5 L802.5 453.4 L802.7 456.3 L803.0 459.2 L803.2 462.2 L803.5 465.2 L803.7 468.2 L803.9 471.2 L804.2 474.2 L804.4 477.3 L804.7 480.3 L804.9 483.3 L805.1 486.2 L805.4 489.2 L805.6 492.1 L805.9 494.9 L806.1 497.7 L806.3 500.5 L806.6 503.2 L806.8 505.8 L807.1 508.3 L807.3 510.7 L807.6 513.1 L807.8 515.4 L808.0 517.5 L808.3 519.6 L808.5 521.5 L808.8 523.4 L809.0 525.1 L809.2 526.7 L809.5 528.2 L809.7 529.6 L810.0 530.8 L810.2 531.9 L810.4 532.9 L810.7 533.7 L810.9 534.4 L811.2 533.8 L811.4 533.0 L811.7 532.0 L811.9 531.0 L812.1 529.8 L812.4 528.5 L812.6 527.1 L812.9 525.6 L813.1 524.0 L813.3 522.3 L813.6 520.5 L813.8 518.5 L814.1 516.5 L814.3 514.4 L814.5 512.2 L814.8 509.9 L815.0 507.5 L815.3 505.0 L815.5 502.5 L815.8 499.9 L816.0 497.3 L816.2 494.6 L816.5 491.8 L816.7 489.1 L817.0 486.2 L817.2 483.4 L817.4 480.5 L817.7 477.7 L817.9 474.8 L818.2 471.9 L818.4 469.0 L818.6 466.1 L818.9 463.3 L819.1 460.5 L819.4 457.7 L819.6 454.9 L819.9 452.2 L820.1 449.5 L820.3 446.9 L820.6 444.4 L820.8 441.9 L821.1 439.5 L821.3 437.2 L821.5 434.9 L821.8 432.8 L822.0 430.7 L822.3 428.7 L822.5 426.8 L822.8 425.1 L823.0 423.4 L823.2 421.8 L823.5 420.4 L823.7 419.1 L824.0 417.9 L824.2 416.8 L824.4 415.8 L824.7 415.0 L824.9 414.2 L825.2 414.6 L825.4 416.0 L825.6 417.6 L825.9 419.5 L826.1 421.7 L826.4 424.1 L826.6 426.8 L826.9 429.7 L827.1 432.9 L827.3 436.3 L827.6 439.9 L827.8 443.7 L828.1 447.7 L828.3 451.9 L828.5 456.2 L828.8 460.6 L829.0 465.2 L829.3 469.8 L829.5 474.5 L829.7 479.3 L830.0 484.0 L830.2 488.8 L830.5 493.6 L830.7 498.3 L831.0 502.9 L831.2 507.5 L831.4 512.0 L831.7 516.4 L831.9 520.6 L832.2 524.6 L832.4 528.5 L832.6 532.2 L832.9 535.7 L833.1 539.0 L833.4 542.0 L833.6 544.8 L833.8 547.4 L834.1 549.6 L834.3 551.6 L834.6 553.4 L834.8 554.8 L835.1 556.0 L835.3 555.2 L835.5 554.3 L835.8 553.3 L836.0 552.2 L836.3 551.0 L836.5 549.6 L836.7 548.1 L837.0 546.5 L837.2 544.8 L837.5 543.0 L837.7 541.1 L838.0 539.1 L838.2 536.9 L838.4 534.7 L838.7 532.4 L838.9 529.9 L839.2 527.4 L839.4 524.8 L839.6 522.2 L839.9 519.4 L840.1 516.6 L840.4 513.7 L840.6 510.8 L840.8 507.8 L841.1 504.7 L841.3 501.6 L841.6 498.5 L841.8 495.3 L842.1 492.1 L842.3 488.8 L842.5 485.6 L842.8 482.3 L843.0 479.1 L843.3 475.8 L843.5 472.5 L843.7 469.3 L844.0 466.0 L844.2 462.8 L844.5 459.6 L844.7 456.5 L844.9 453.3 L845.2 450.3 L845.4 447.2 L845.7 444.3 L845.9 441.4 L846.2 438.5 L846.4 435.7 L846.6 433.0 L846.9 430.4 L847.1 427.9 L847.4 425.4 L847.6 423.0 L847.8 420.8 L848.1 418.6 L848.3 416.5 L848.6 414.6 L848.8 412.7 L849.0 410.9 L849.3 409.3 L849.5 407.8 L849.8 406.4 L850.0 405.1 L850.3 403.9 L850.5 402.9 L850.7 401.9 L851.0 401.1 L851.2 401.5 L851.5 402.8 L851.7 404.3 L851.9 406.1 L852.2 408.1 L852.4 410.4 L852.7 412.8 L852.9 415.5 L853.1 418.4 L853.4 421.5 L853.6 424.8 L853.9 428.3 L854.1 432.0 L854.4 435.8 L854.6 439.8 L854.8 444.0 L855.1 448.2 L855.3 452.6 L855.6 457.1 L855.8 461.7 L856.0 466.4 L856.3 471.1 L856.5 475.9 L856.8 480.7 L857.0 485.5 L857.2 490.4 L857.5 495.2 L857.7 500.0 L858.0 504.7 L858.2 509.4 L858.5 514.0 L858.7 518.6 L858.9 523.0 L859.2 527.3 L859.4 531.5 L859.7 535.6 L859.9 539.5 L860.1 543.2 L860.4 546.8 L860.6 550.2 L860.9 553.3 L861.1 556.3 L861.4 559.1 L861.6 561.7 L861.8 564.0 L862.1 566.1 L862.3 568.0 L862.6 569.6 L862.8 571.0 L863.0 572.1 L863.3 571.3 L863.5 570.3 L863.8 569.1 L864.0 567.7 L864.2 566.2 L864.5 564.6 L864.7 562.7 L865.0 560.8 L865.2 558.6 L865.5 556.4 L865.7 554.0 L865.9 551.4 L866.2 548.8 L866.4 546.0 L866.7 543.1 L866.9 540.1 L867.1 537.0 L867.4 533.8 L867.6 530.5 L867.9 527.2 L868.1 523.8 L868.3 520.3 L868.6 516.8 L868.8 513.2 L869.1 509.7 L869.3 506.1 L869.6 502.5 L869.8 498.9 L870.0 495.3 L870.3 491.7 L870.5 488.2 L870.8 484.7 L871.0 481.2 L871.2 477.9 L871.5 474.5 L871.7 471.3 L872.0 468.1 L872.2 465.1 L872.4 462.1 L872.7 459.3 L872.9 456.5 L873.2 453.9 L873.4 451.4 L873.7 449.1 L873.9 446.9 L874.1 444.8 L874.4 442.9 L874.6 441.1 L874.9 439.5 L875.1 438.1 L875.3 436.8 L875.6 435.7 L875.8 434.7 L876.1 434.5 L876.3 435.3 L876.5 436.1 L876.8 437.2 L877.0 438.3 L877.3 439.6 L877.5 441.1 L877.8 442.6 L878.0 444.3 L878.2 446.1 L878.5 448.0 L878.7 450.0 L879.0 452.1 L879.2 454.3 L879.4 456.7 L879.7 459.1 L879.9 461.6 L880.2 464.1 L880.4 466.8 L880.7 469.5 L880.9 472.3 L881.1 475.1 L881.4 478.0 L881.6 480.9 L881.9 483.8 L882.1 486.8 L882.3 489.8 L882.6 492.7 L882.8 495.7 L883.1 498.7 L883.3 501.6 L883.5 504.6 L883.8 507.5 L884.0 510.3 L884.3 513.1 L884.5 515.9 L884.8 518.6 L885.0 521.2 L885.2 523.7 L885.5 526.2 L885.7 528.6 L886.0 530.9 L886.2 533.0 L886.4 535.1 L886.7 537.1 L886.9 539.0 L887.2 540.7 L887.4 542.3 L887.6 543.8 L887.9 545.2 L888.1 546.4 L888.4 547.5 L888.6 548.5 L888.9 549.4 L889.1 550.1 L889.3 549.1 L889.6 548.0 L889.8 546.8 L890.1 545.3 L890.3 543.6 L890.5 541.7 L890.8 539.7 L891.0 537.5 L891.3 535.1 L891.5 532.6 L891.7 529.9 L892.0 527.0 L892.2 524.0 L892.5 520.9 L892.7 517.7 L893.0 514.4 L893.2 510.9 L893.4 507.4 L893.7 503.8 L893.9 500.1 L894.2 496.4 L894.4 492.7 L894.6 488.9 L894.9 485.1 L895.1 481.4 L895.4 477.6 L895.6 473.8 L895.9 470.1 L896.1 466.5 L896.3 462.9 L896.6 459.4 L896.8 455.9 L897.1 452.6 L897.3 449.4 L897.5 446.2 L897.8 443.3 L898.0 440.4 L898.3 437.7 L898.5 435.2 L898.7 432.8 L899.0 430.6 L899.2 428.5 L899.5 426.7 L899.7 425.0 L900.0 423.5 L900.2 422.2 L900.4 421.1 L900.7 420.2 L900.9 420.9 L901.2 421.7 L901.4 422.7 L901.6 423.7 L901.9 424.9 L902.1 426.2 L902.4 427.6 L902.6 429.1 L902.8 430.7 L903.1 432.4 L903.3 434.2 L903.6 436.2 L903.8 438.2 L904.1 440.3 L904.3 442.5 L904.5 444.8 L904.8 447.2 L905.0 449.6 L905.3 452.1 L905.5 454.7 L905.7 457.4 L906.0 460.1 L906.2 462.9 L906.5 465.7 L906.7 468.5 L906.9 471.4 L907.2 474.4 L907.4 477.3 L907.7 480.3 L907.9 483.3 L908.2 486.3 L908.4 489.3 L908.6 492.3 L908.9 495.3 L909.1 498.3 L909.4 501.2 L909.6 504.2 L909.8 507.1 L910.1 510.0 L910.3 512.8 L910.6 515.6 L910.8 518.3 L911.0 521.0 L911.3 523.6 L911.5 526.1 L911.8 528.6 L912.0 531.0 L912.3 533.3 L912.5 535.5 L912.7 537.6 L913.0 539.6 L913.2 541.6 L913.5 543.4 L913.7 545.2 L913.9 546.8 L914.2 548.3 L914.4 549.8 L914.7 551.1 L914.9 552.2 L915.2 553.3 L915.4 554.3 L915.6 555.1 L915.9 555.9 L916.1 555.1 L916.4 553.8 L916.6 552.3 L916.8 550.5 L917.1 548.4 L917.3 546.1 L917.6 543.6 L917.8 540.9 L918.0 538.0 L918.3 534.8 L918.5 531.5 L918.8 528.0 L919.0 524.3 L919.3 520.4 L919.5 516.4 L919.7 512.3 L920.0 508.1 L920.2 503.7 L920.5 499.3 L920.7 494.8 L920.9 490.3 L921.2 485.7 L921.4 481.1 L921.7 476.5 L921.9 471.9 L922.1 467.4 L922.4 462.9 L922.6 458.5 L922.9 454.1 L923.1 449.9 L923.4 445.8 L923.6 441.8 L923.8 437.9 L924.1 434.2 L924.3 430.7 L924.6 427.4 L924.8 424.2 L925.0 421.3 L925.3 418.6 L925.5 416.1 L925.8 413.8 L926.0 411.7 L926.2 409.9 L926.5 408.4 L926.7 407.1 L927.0 406.4 L927.2 407.2 L927.5 408.1 L927.7 409.2 L927.9 410.3 L928.2 411.6 L928.4 413.1 L928.7 414.6 L928.9 416.3 L929.1 418.0 L929.4 419.9 L929.6 421.9 L929.9 424.0 L930.1 426.3 L930.3 428.6 L930.6 431.0 L930.8 433.5 L931.1 436.1 L931.3 438.8 L931.6 441.5 L931.8 444.4 L932.0 447.3 L932.3 450.3 L932.5 453.3 L932.8 456.4 L933.0 459.6 L933.2 462.8 L933.5 466.0 L933.7 469.3 L934.0 472.6 L934.2 475.9 L934.5 479.2 L934.7 482.6 L934.9 485.9 L935.2 489.3 L935.4 492.7 L935.7 496.0 L935.9 499.3 L936.1 502.6 L936.4 505.9 L936.6 509.1 L936.9 512.3 L937.1 515.5 L937.3 518.6 L937.6 521.6 L937.8 524.6 L938.1 527.5 L938.3 530.4 L938.6 533.1 L938.8 535.8 L939.0 538.4 L939.3 540.9 L939.5 543.3 L939.8 545.6 L940.0 547.8 L940.2 550.0 L940.5 552.0 L940.7 553.8 L941.0 555.6 L941.2 557.3 L941.4 558.8 L941.7 560.3 L941.9 561.6 L942.2 562.7 L942.4 563.8 L942.7 564.7 L942.9 565.5 L943.1 564.7 L943.4 563.2 L943.6 561.3 L943.9 559.2 L944.1 556.8 L944.3 554.0 L944.6 551.0 L944.8 547.7 L945.1 544.2 L945.3 540.4 L945.5 536.4 L945.8 532.2 L946.0 527.8 L946.3 523.2 L946.5 518.4 L946.8 513.5 L947.0 508.5 L947.2 503.4 L947.5 498.3 L947.7 493.1 L948.0 487.8 L948.2 482.6 L948.4 477.4 L948.7 472.2 L948.9 467.1 L949.2 462.1 L949.4 457.2 L949.6 452.5 L949.9 447.9 L950.1 443.5 L950.4 439.3 L950.6 435.2 L950.9 431.5 L951.1 427.9 L951.3 424.6 L951.6 421.6 L951.8 418.9 L952.1 416.5 L952.3 414.3 L952.5 412.5 L952.8 411.0 L953.0 410.1 L953.3 410.8 L953.5 411.6 L953.8 412.5 L954.0 413.6 L954.2 414.7 L954.5 415.9 L954.7 417.3 L955.0 418.8 L955.2 420.3 L955.4 422.0 L955.7 423.8 L955.9 425.6 L956.2 427.6 L956.4 429.6 L956.6 431.8 L956.9 434.0 L957.1 436.3 L957.4 438.6 L957.6 441.1 L957.9 443.6 L958.1 446.1 L958.3 448.7 L958.6 451.4 L958.8 454.1 L959.1 456.8 L959.3 459.6 L959.5 462.4 L959.8 465.3 L960.0 468.1 L960.3 471.0 L960.5 473.8 L960.7 476.7 L961.0 479.5 L961.2 482.4 L961.5 485.2 L961.7 488.0 L962.0 490.8 L962.2 493.5 L962.4 496.3 L962.7 498.9 L962.9 501.5 L963.2 504.1 L963.4 506.6 L963.6 509.0 L963.9 511.4 L964.1 513.7 L964.4 515.9 L964.6 518.0 L964.8 520.1 L965.1 522.0 L965.3 523.9 L965.6 525.6 L965.8 527.3 L966.1 528.9 L966.3 530.3 L966.5 531.7 L966.8 533.0 L967.0 534.1 L967.3 535.1 L967.5 536.0 L967.7 536.8 L968.0 537.5 L968.2 536.8 L968.5 535.5 L968.7 534.0 L968.9 532.2 L969.2 530.2 L969.4 528.0 L969.7 525.5 L969.9 522.8 L970.2 519.9 L970.4 516.8 L970.6 513.5 L970.9 510.1 L971.1 506.4 L971.4 502.6 L971.6 498.7 L971.8 494.6 L972.1 490.4 L972.3 486.2 L972.6 481.8 L972.8 477.4 L973.1 472.9 L973.3 468.4 L973.5 463.9 L973.8 459.3 L974.0 454.8 L974.3 450.3 L974.5 445.9 L974.7 441.6 L975.0 437.3 L975.2 433.1 L975.5 429.0 L975.7 425.1 L975.9 421.3 L976.2 417.7 L976.4 414.2 L976.7 410.9 L976.9 407.8 L977.2 404.9 L977.4 402.2 L977.6 399.8 L977.9 397.5 L978.1 395.5 L978.4 393.7 L978.6 392.2 L978.8 390.9 L979.1 390.2 L979.3 390.9 L979.6 391.8 L979.8 392.8 L980.0 393.8 L980.3 395.1 L980.5 396.4 L980.8 397.8 L981.0 399.4 L981.3 401.1 L981.5 402.8 L981.7 404.7 L982.0 406.7 L982.2 408.8 L982.5 411.0 L982.7 413.2 L982.9 415.6 L983.2 418.0 L983.4 420.5 L983.7 423.1 L983.9 425.8 L984.1 428.5 L984.4 431.3 L984.6 434.1 L984.9 437.0 L985.1 439.9 L985.4 442.8 L985.6 445.8 L985.8 448.8 L986.1 451.9 L986.3 454.9 L986.6 457.9 L986.8 461.0 L987.0 464.0 L987.3 467.0 L987.5 470.0 L987.8 473.0 L988.0 476.0 L988.2 478.9 L988.5 481.8 L988.7 484.6 L989.0 487.4 L989.2 490.1 L989.5 492.8 L989.7 495.3 L989.9 497.9 L990.2 500.3 L990.4 502.6 L990.7 504.9 L990.9 507.1 L991.1 509.2 L991.4 511.1 L991.6 513.0 L991.9 514.8 L992.1 516.5 L992.4 518.0 L992.6 519.5 L992.8 520.8 L993.1 522.0 L993.3 523.1 L993.6 524.1 L993.8 524.9 L994.0 525.7 L994.3 525.3 L994.5 524.7 L994.8 523.9 L995.0 522.9 L995.2 521.9 L995.5 520.8 L995.7 519.6 L996.0 518.2 L996.2 516.8 L996.5 515.3 L996.7 513.6 L996.9 511.9 L997.2 510.1 L997.4 508.2 L997.7 506.3 L997.9 504.2 L998.1 502.1 L998.4 499.9 L998.6 497.7 L998.9 495.4 L999.1 493.0 L999.3 490.6 L999.6 488.2 L999.8 485.7 L1000.1 483.2 L1000.3 480.7 L1000.6 478.2 L1000.8 475.6 L1001.0 473.1 L1001.3 470.5 L1001.5 468.0 L1001.8 465.5 L1002.0 463.0" stroke="#FF0000" stroke-width="2.40" stroke-dasharray="2.2 2.2"/>
</g>
<rect x="616.0" y="368.5" width="386.0" height="215.5" fill="none" stroke="#808080" stroke-width="1.5"/>
<line x1="616.0" y1="584.0" x2="616.0" y2="580.0" stroke="#808080" stroke-width="1"/>
<line x1="616.0" y1="368.5" x2="616.0" y2="372.5" stroke="#808080" stroke-width="1"/>
<line x1="809.0" y1="584.0" x2="809.0" y2="580.0" stroke="#808080" stroke-width="1"/>
<line x1="809.0" y1="368.5" x2="809.0" y2="372.5" stroke="#808080" stroke-width="1"/>
<line x1="1002.0" y1="584.0" x2="1002.0" y2="580.0" stroke="#808080" stroke-width="1"/>
<line x1="1002.0" y1="368.5" x2="1002.0" y2="372.5" stroke="#808080" stroke-width="1"/>
<line x1="616.0" y1="368.5" x2="620.0" y2="368.5" stroke="#808080" stroke-width="1"/>
<line x1="1002.0" y1="368.5" x2="998.0" y2="368.5" stroke="#808080" stroke-width="1"/>
<line x1="616.0" y1="422.4" x2="620.0" y2="422.4" stroke="#808080" stroke-width="1"/>
<line x1="1002.0" y1="422.4" x2="998.0" y2="422.4" stroke="#808080" stroke-width="1"/>
<line x1="616.0" y1="476.2" x2="620.0" y2="476.2" stroke="#808080" stroke-width="1"/>
<line x1="1002.0" y1="476.2" x2="998.0" y2="476.2" stroke="#808080" stroke-width="1"/>
<line x1="616.0" y1="530.1" x2="620.0" y2="530.1" stroke="#808080" stroke-width="1"/>
<line x1="1002.0" y1="530.1" x2="998.0" y2="530.1" stroke="#808080" stroke-width="1"/>
<line x1="616.0" y1="584.0" x2="620.0" y2="584.0" stroke="#808080" stroke-width="1"/>
<line x1="1002.0" y1="584.0" x2="998.0" y2="584.0" stroke="#808080" stroke-width="1"/>
<rect x="630.5" y="375.6" width="123.9" height="80.0" fill="#fff" fill-opacity="0.92" stroke="#808080" stroke-width="1.5"/>
<line x1="631.5" y1="390.2" x2="657.8" y2="390.2" stroke="#EDB526" stroke-width="2.40"/>
<line x1="631.5" y1="415.6" x2="657.8" y2="415.6" stroke="#0000FF" stroke-width="2.70" stroke-dasharray="10 9"/>
<line x1="631.5" y1="442.0" x2="657.8" y2="442.0" stroke="#FF0000" stroke-width="2.40" stroke-dasharray="2.2 2.2"/>
<text x="659.8" y="397.0" font-size="23" fill="#262626" stroke="#262626" stroke-width="0.12">Passive</text>
<text x="659.8" y="423.4" font-size="23" fill="#262626" stroke="#262626" stroke-width="0.12">Fuzzy</text>
<text x="659.8" y="448.8" font-size="23" fill="#262626" stroke="#262626" stroke-width="0.12">NFADRC</text>
<text x="608.8" y="378.1" font-size="24.5" fill="#4a4a4a" stroke="#4a4a4a" stroke-width="0.12" text-anchor="end">1</text>
<text x="608.8" y="432.0" font-size="24.5" fill="#4a4a4a" stroke="#4a4a4a" stroke-width="0.12" text-anchor="end">0.5</text>
<text x="608.8" y="485.9" font-size="24.5" fill="#4a4a4a" stroke="#4a4a4a" stroke-width="0.12" text-anchor="end">0</text>
<text x="608.8" y="539.7" font-size="24.5" fill="#4a4a4a" stroke="#4a4a4a" stroke-width="0.12" text-anchor="end">-0.5</text>
<text x="608.8" y="593.6" font-size="24.5" fill="#4a4a4a" stroke="#4a4a4a" stroke-width="0.12" text-anchor="end">-1</text>
<text x="616.0" y="613.7" font-size="24.5" fill="#4a4a4a" stroke="#4a4a4a" stroke-width="0.12" text-anchor="middle">0.7</text>
<text x="809.0" y="613.7" font-size="24.5" fill="#4a4a4a" stroke="#4a4a4a" stroke-width="0.12" text-anchor="middle">0.8</text>
<text x="1002.0" y="613.7" font-size="24.5" fill="#4a4a4a" stroke="#4a4a4a" stroke-width="0.12" text-anchor="middle">0.9</text>
<text x="763.4" y="644.0" font-size="27" fill="#404040" stroke="#404040" stroke-width="0.12" textLength="93.0" lengthAdjust="spacingAndGlyphs">Time (s)</text>
<g transform="translate(562.0 473.1) rotate(-90)"><text x="0" y="0" font-size="28" fill="#404040" stroke="#404040" stroke-width="0.12" text-anchor="middle">Acceleration (m/s<tspan font-size="18" dy="-13">2</tspan><tspan dy="13">)</tspan></text></g>
<text x="759.8" y="358.1" font-size="27" fill="#000" stroke="#000" stroke-width="0.35" font-style="italic" textLength="18.5" lengthAdjust="spacingAndGlyphs">&#969;</text>
<text x="787.5" y="358.1" font-size="27" fill="#000" stroke="#000" stroke-width="0.35" textLength="18" lengthAdjust="spacingAndGlyphs">=</text>
<text x="814.0" y="358.1" font-size="27" fill="#000" stroke="#000" stroke-width="0.35" textLength="28.5" lengthAdjust="spacingAndGlyphs">74</text>
<text x="849.0" y="358.1" font-size="27" fill="#000" stroke="#000" stroke-width="0.35" textLength="28.5" lengthAdjust="spacingAndGlyphs">Hz</text>
<text x="541.0" y="636.0" font-size="28" fill="#000" stroke="#000" stroke-width="0.12">(d)</text>
</svg></body></html>
